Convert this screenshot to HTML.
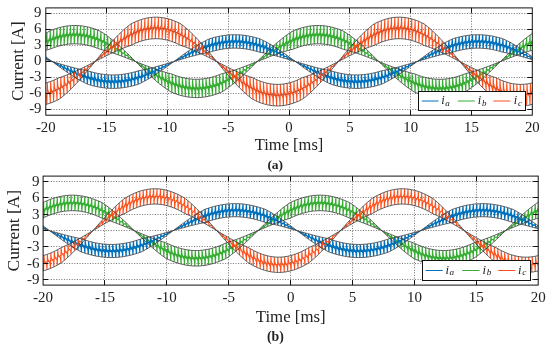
<!DOCTYPE html>
<html><head><meta charset="utf-8"><title>Current</title>
<style>html,body{margin:0;padding:0;background:#fff;}svg{display:block;}</style></head>
<body><svg width="550" height="348" viewBox="0 0 550 348" font-family='"Liberation Serif", "DejaVu Serif", serif' fill="#222">
<rect width="550" height="348" fill="#fff"/>
<clipPath id="clipa"><rect x="45.8" y="7.9" width="486.5" height="107.3"/></clipPath>
<path d="M106.5 7.9 V115.2 M167.5 7.9 V115.2 M228.5 7.9 V115.2 M289.5 7.9 V115.2 M349.5 7.9 V115.2 M410.5 7.9 V115.2 M471.5 7.9 V115.2 M45.8 109.5 H532.3 M45.8 93.5 H532.3 M45.8 77.5 H532.3 M45.8 61.5 H532.3 M45.8 45.5 H532.3 M45.8 29.5 H532.3 M45.8 13.5 H532.3" stroke="#6e6e6e" stroke-width="0.9" stroke-dasharray="1.1 1.5" fill="none"/>
<g clip-path="url(#clipa)" fill="none">
<clipPath id="bandab"><path d="M45.8 33.46 L47.32 32.46 L48.84 31.5 L50.36 30.68 L51.88 30.07 L53.4 29.5 L54.92 28.96 L56.44 28.46 L57.96 28 L59.48 27.57 L61 27.18 L62.52 26.84 L64.04 26.53 L65.56 26.26 L67.08 26.03 L68.6 25.84 L70.12 25.69 L71.65 25.59 L73.17 25.52 L74.69 25.5 L76.21 25.52 L77.73 25.57 L79.25 25.68 L80.77 25.82 L82.29 26 L83.81 26.22 L85.33 26.49 L86.85 26.79 L88.37 27.14 L89.89 27.52 L91.41 27.94 L92.93 28.4 L94.45 28.89 L95.97 29.43 L97.49 29.99 L99.01 30.59 L100.53 31.38 L102.05 32.33 L103.57 33.33 L105.09 34.37 L106.61 35.45 L108.13 36.57 L109.65 37.74 L111.17 38.93 L112.69 40.17 L114.21 41.43 L115.73 42.73 L117.25 44.05 L118.77 45.41 L120.3 46.79 L121.82 48.19 L123.34 49.61 L124.86 51.05 L126.38 52.5 L127.9 53.97 L129.42 55.45 L130.94 56.94 L132.46 58.44 L133.98 59.94 L135.5 61.45 L137.02 62.95 L138.54 64.46 L140.06 65.96 L141.58 67.45 L143.1 68.93 L144.62 70.4 L146.14 71.86 L147.66 73.3 L149.18 74.73 L150.7 76.13 L152.22 77.51 L153.74 78.87 L155.26 80.2 L156.78 81.5 L158.3 82.77 L159.82 84 L161.34 85.21 L162.86 86.37 L164.38 87.5 L165.9 88.59 L167.42 89.64 L168.95 90.64 L170.47 91.6 L171.99 92.42 L173.51 93.03 L175.03 93.6 L176.55 94.14 L178.07 94.64 L179.59 95.1 L181.11 95.53 L182.63 95.92 L184.15 96.26 L185.67 96.57 L187.19 96.84 L188.71 97.07 L190.23 97.26 L191.75 97.41 L193.27 97.51 L194.79 97.58 L196.31 97.6 L197.83 97.58 L199.35 97.53 L200.87 97.42 L202.39 97.28 L203.91 97.1 L205.43 96.88 L206.95 96.61 L208.47 96.31 L209.99 95.96 L211.51 95.58 L213.03 95.16 L214.55 94.7 L216.07 94.21 L217.6 93.67 L219.12 93.11 L220.64 92.51 L222.16 91.72 L223.68 90.77 L225.2 89.77 L226.72 88.73 L228.24 87.65 L229.76 86.53 L231.28 85.36 L232.8 84.17 L234.32 82.93 L235.84 81.67 L237.36 80.37 L238.88 79.05 L240.4 77.69 L241.92 76.31 L243.44 74.91 L244.96 73.49 L246.48 72.05 L248 70.6 L249.52 69.13 L251.04 67.65 L252.56 66.16 L254.08 64.66 L255.6 63.16 L257.12 61.65 L258.64 60.15 L260.16 58.64 L261.68 57.14 L263.2 55.65 L264.72 54.17 L266.25 52.7 L267.77 51.24 L269.29 49.8 L270.81 48.37 L272.33 46.97 L273.85 45.59 L275.37 44.23 L276.89 42.9 L278.41 41.6 L279.93 40.33 L281.45 39.1 L282.97 37.89 L284.49 36.73 L286.01 35.6 L287.53 34.51 L289.05 33.46 L290.57 32.46 L292.09 31.5 L293.61 30.68 L295.13 30.07 L296.65 29.5 L298.17 28.96 L299.69 28.46 L301.21 28 L302.73 27.57 L304.25 27.18 L305.77 26.84 L307.29 26.53 L308.81 26.26 L310.33 26.03 L311.85 25.84 L313.38 25.69 L314.9 25.59 L316.42 25.52 L317.94 25.5 L319.46 25.52 L320.98 25.57 L322.5 25.68 L324.02 25.82 L325.54 26 L327.06 26.22 L328.58 26.49 L330.1 26.79 L331.62 27.14 L333.14 27.52 L334.66 27.94 L336.18 28.4 L337.7 28.89 L339.22 29.43 L340.74 29.99 L342.26 30.59 L343.78 31.38 L345.3 32.33 L346.82 33.33 L348.34 34.37 L349.86 35.45 L351.38 36.57 L352.9 37.74 L354.42 38.93 L355.94 40.17 L357.46 41.43 L358.98 42.73 L360.5 44.05 L362.02 45.41 L363.55 46.79 L365.07 48.19 L366.59 49.61 L368.11 51.05 L369.63 52.5 L371.15 53.97 L372.67 55.45 L374.19 56.94 L375.71 58.44 L377.23 59.94 L378.75 61.45 L380.27 62.95 L381.79 64.46 L383.31 65.96 L384.83 67.45 L386.35 68.93 L387.87 70.4 L389.39 71.86 L390.91 73.3 L392.43 74.73 L393.95 76.13 L395.47 77.51 L396.99 78.87 L398.51 80.2 L400.03 81.5 L401.55 82.77 L403.07 84 L404.59 85.21 L406.11 86.37 L407.63 87.5 L409.15 88.59 L410.67 89.64 L412.2 90.64 L413.72 91.6 L415.24 92.42 L416.76 93.03 L418.28 93.6 L419.8 94.14 L421.32 94.64 L422.84 95.1 L424.36 95.53 L425.88 95.92 L427.4 96.26 L428.92 96.57 L430.44 96.84 L431.96 97.07 L433.48 97.26 L435 97.41 L436.52 97.51 L438.04 97.58 L439.56 97.6 L441.08 97.58 L442.6 97.53 L444.12 97.42 L445.64 97.28 L447.16 97.1 L448.68 96.88 L450.2 96.61 L451.72 96.31 L453.24 95.96 L454.76 95.58 L456.28 95.16 L457.8 94.7 L459.32 94.21 L460.85 93.67 L462.37 93.11 L463.89 92.51 L465.41 91.72 L466.93 90.77 L468.45 89.77 L469.97 88.73 L471.49 87.65 L473.01 86.53 L474.53 85.36 L476.05 84.17 L477.57 82.93 L479.09 81.67 L480.61 80.37 L482.13 79.05 L483.65 77.69 L485.17 76.31 L486.69 74.91 L488.21 73.49 L489.73 72.05 L491.25 70.6 L492.77 69.13 L494.29 67.65 L495.81 66.16 L497.33 64.66 L498.85 63.16 L500.37 61.65 L501.89 60.15 L503.41 58.64 L504.93 57.14 L506.45 55.65 L507.97 54.17 L509.5 52.7 L511.02 51.24 L512.54 49.8 L514.06 48.37 L515.58 46.97 L517.1 45.59 L518.62 44.23 L520.14 42.9 L521.66 41.6 L523.18 40.33 L524.7 39.1 L526.22 37.89 L527.74 36.73 L529.26 35.6 L530.78 34.51 L532.3 33.46 L532.3 50.22 L530.78 50.64 L529.26 51.08 L527.74 51.53 L526.22 52 L524.7 52.49 L523.18 52.99 L521.66 53.5 L520.14 54.03 L518.62 54.56 L517.1 55.11 L515.58 55.67 L514.06 56.23 L512.54 56.81 L511.02 57.39 L509.5 57.98 L507.97 58.57 L506.45 59.17 L504.93 59.77 L503.41 60.38 L501.89 60.98 L500.37 61.59 L498.85 62.2 L497.33 62.8 L495.81 63.41 L494.29 64.01 L492.77 64.61 L491.25 65.2 L489.73 65.79 L488.21 66.37 L486.69 66.94 L485.17 67.51 L483.65 68.06 L482.13 68.61 L480.61 69.14 L479.09 69.67 L477.57 70.18 L476.05 70.68 L474.53 71.16 L473.01 71.63 L471.49 72.08 L469.97 72.52 L468.45 72.94 L466.93 73.34 L465.41 73.72 L463.89 74.21 L462.37 74.81 L460.85 75.38 L459.32 75.91 L457.8 76.41 L456.28 76.87 L454.76 77.29 L453.24 77.67 L451.72 78.01 L450.2 78.32 L448.68 78.58 L447.16 78.8 L445.64 78.99 L444.12 79.13 L442.6 79.23 L441.08 79.29 L439.56 79.31 L438.04 79.28 L436.52 79.22 L435 79.11 L433.48 78.97 L431.96 78.78 L430.44 78.55 L428.92 78.28 L427.4 77.97 L425.88 77.62 L424.36 77.23 L422.84 76.81 L421.32 76.34 L419.8 75.84 L418.28 75.31 L416.76 74.73 L415.24 74.13 L413.72 73.67 L412.2 73.29 L410.67 72.88 L409.15 72.46 L407.63 72.02 L406.11 71.57 L404.59 71.1 L403.07 70.61 L401.55 70.11 L400.03 69.6 L398.51 69.07 L396.99 68.54 L395.47 67.99 L393.95 67.43 L392.43 66.87 L390.91 66.29 L389.39 65.71 L387.87 65.12 L386.35 64.53 L384.83 63.93 L383.31 63.33 L381.79 62.72 L380.27 62.12 L378.75 61.51 L377.23 60.9 L375.71 60.3 L374.19 59.69 L372.67 59.09 L371.15 58.49 L369.63 57.9 L368.11 57.31 L366.59 56.73 L365.07 56.16 L363.55 55.59 L362.02 55.04 L360.5 54.49 L358.98 53.96 L357.46 53.43 L355.94 52.92 L354.42 52.42 L352.9 51.94 L351.38 51.47 L349.86 51.02 L348.34 50.58 L346.82 50.16 L345.3 49.76 L343.78 49.38 L342.26 48.89 L340.74 48.29 L339.22 47.72 L337.7 47.19 L336.18 46.69 L334.66 46.23 L333.14 45.81 L331.62 45.43 L330.1 45.09 L328.58 44.78 L327.06 44.52 L325.54 44.3 L324.02 44.11 L322.5 43.97 L320.98 43.87 L319.46 43.81 L317.94 43.79 L316.42 43.82 L314.9 43.88 L313.38 43.99 L311.85 44.13 L310.33 44.32 L308.81 44.55 L307.29 44.82 L305.77 45.13 L304.25 45.48 L302.73 45.87 L301.21 46.29 L299.69 46.76 L298.17 47.26 L296.65 47.79 L295.13 48.37 L293.61 48.97 L292.09 49.43 L290.57 49.81 L289.05 50.22 L287.53 50.64 L286.01 51.08 L284.49 51.53 L282.97 52 L281.45 52.49 L279.93 52.99 L278.41 53.5 L276.89 54.03 L275.37 54.56 L273.85 55.11 L272.33 55.67 L270.81 56.23 L269.29 56.81 L267.77 57.39 L266.25 57.98 L264.72 58.57 L263.2 59.17 L261.68 59.77 L260.16 60.38 L258.64 60.98 L257.12 61.59 L255.6 62.2 L254.08 62.8 L252.56 63.41 L251.04 64.01 L249.52 64.61 L248 65.2 L246.48 65.79 L244.96 66.37 L243.44 66.94 L241.92 67.51 L240.4 68.06 L238.88 68.61 L237.36 69.14 L235.84 69.67 L234.32 70.18 L232.8 70.68 L231.28 71.16 L229.76 71.63 L228.24 72.08 L226.72 72.52 L225.2 72.94 L223.68 73.34 L222.16 73.72 L220.64 74.21 L219.12 74.81 L217.6 75.38 L216.07 75.91 L214.55 76.41 L213.03 76.87 L211.51 77.29 L209.99 77.67 L208.47 78.01 L206.95 78.32 L205.43 78.58 L203.91 78.8 L202.39 78.99 L200.87 79.13 L199.35 79.23 L197.83 79.29 L196.31 79.31 L194.79 79.28 L193.27 79.22 L191.75 79.11 L190.23 78.97 L188.71 78.78 L187.19 78.55 L185.67 78.28 L184.15 77.97 L182.63 77.62 L181.11 77.23 L179.59 76.81 L178.07 76.34 L176.55 75.84 L175.03 75.31 L173.51 74.73 L171.99 74.13 L170.47 73.67 L168.95 73.29 L167.42 72.88 L165.9 72.46 L164.38 72.02 L162.86 71.57 L161.34 71.1 L159.82 70.61 L158.3 70.11 L156.78 69.6 L155.26 69.07 L153.74 68.54 L152.22 67.99 L150.7 67.43 L149.18 66.87 L147.66 66.29 L146.14 65.71 L144.62 65.12 L143.1 64.53 L141.58 63.93 L140.06 63.33 L138.54 62.72 L137.02 62.12 L135.5 61.51 L133.98 60.9 L132.46 60.3 L130.94 59.69 L129.42 59.09 L127.9 58.49 L126.38 57.9 L124.86 57.31 L123.34 56.73 L121.82 56.16 L120.3 55.59 L118.77 55.04 L117.25 54.49 L115.73 53.96 L114.21 53.43 L112.69 52.92 L111.17 52.42 L109.65 51.94 L108.13 51.47 L106.61 51.02 L105.09 50.58 L103.57 50.16 L102.05 49.76 L100.53 49.38 L99.01 48.89 L97.49 48.29 L95.97 47.72 L94.45 47.19 L92.93 46.69 L91.41 46.23 L89.89 45.81 L88.37 45.43 L86.85 45.09 L85.33 44.78 L83.81 44.52 L82.29 44.3 L80.77 44.11 L79.25 43.97 L77.73 43.87 L76.21 43.81 L74.69 43.79 L73.17 43.82 L71.65 43.88 L70.12 43.99 L68.6 44.13 L67.08 44.32 L65.56 44.55 L64.04 44.82 L62.52 45.13 L61 45.48 L59.48 45.87 L57.96 46.29 L56.44 46.76 L54.92 47.26 L53.4 47.79 L51.88 48.37 L50.36 48.97 L48.84 49.43 L47.32 49.81 L45.8 50.22 Z"/></clipPath>
<path d="M45.8 40.84 L47.32 40.1 L48.84 39.39 L50.36 38.73 L51.88 38.12 L53.4 37.55 L54.92 37.01 L56.44 36.51 L57.96 36.05 L59.48 35.62 L61 35.23 L62.52 34.89 L64.04 34.58 L65.56 34.31 L67.08 34.08 L68.6 33.89 L70.12 33.74 L71.65 33.64 L73.17 33.57 L74.69 33.55 L76.21 33.56 L77.73 33.62 L79.25 33.73 L80.77 33.87 L82.29 34.05 L83.81 34.27 L85.33 34.54 L86.85 34.84 L88.37 35.19 L89.89 35.57 L91.41 35.99 L92.93 36.45 L94.45 36.94 L95.97 37.47 L97.49 38.04 L99.01 38.64 L100.53 39.3 L102.05 40 L103.57 40.73 L105.09 41.5 L106.61 42.3 L108.13 43.13 L109.65 43.99 L111.17 44.87 L112.69 45.78 L114.21 46.71 L115.73 47.67 L117.25 48.65 L118.77 49.64 L120.3 50.66 L121.82 51.69 L123.34 52.74 L124.86 53.8 L126.38 54.88 L127.9 55.96 L129.42 57.05 L130.94 58.15 L132.46 59.26 L133.98 60.37 L135.5 61.48 L137.02 62.59 L138.54 63.69 L140.06 64.8 L141.58 65.9 L143.1 66.99 L144.62 68.08 L146.14 69.15 L147.66 70.22 L149.18 71.27 L150.7 72.3 L152.22 73.32 L153.74 74.32 L155.26 75.3 L156.78 76.26 L158.3 77.2 L159.82 78.11 L161.34 79 L162.86 79.86 L164.38 80.69 L165.9 81.49 L167.42 82.26 L168.95 83 L170.47 83.71 L171.99 84.37 L173.51 84.98 L175.03 85.55 L176.55 86.09 L178.07 86.59 L179.59 87.05 L181.11 87.48 L182.63 87.87 L184.15 88.21 L185.67 88.52 L187.19 88.79 L188.71 89.02 L190.23 89.21 L191.75 89.36 L193.27 89.46 L194.79 89.53 L196.31 89.55 L197.83 89.54 L199.35 89.48 L200.87 89.37 L202.39 89.23 L203.91 89.05 L205.43 88.83 L206.95 88.56 L208.47 88.26 L209.99 87.91 L211.51 87.53 L213.03 87.11 L214.55 86.65 L216.07 86.16 L217.6 85.63 L219.12 85.06 L220.64 84.46 L222.16 83.8 L223.68 83.1 L225.2 82.37 L226.72 81.6 L228.24 80.8 L229.76 79.97 L231.28 79.11 L232.8 78.23 L234.32 77.32 L235.84 76.39 L237.36 75.43 L238.88 74.45 L240.4 73.46 L241.92 72.44 L243.44 71.41 L244.96 70.36 L246.48 69.3 L248 68.22 L249.52 67.14 L251.04 66.05 L252.56 64.95 L254.08 63.84 L255.6 62.73 L257.12 61.62 L258.64 60.51 L260.16 59.41 L261.68 58.3 L263.2 57.2 L264.72 56.11 L266.25 55.02 L267.77 53.95 L269.29 52.88 L270.81 51.83 L272.33 50.8 L273.85 49.78 L275.37 48.78 L276.89 47.8 L278.41 46.84 L279.93 45.9 L281.45 44.99 L282.97 44.1 L284.49 43.24 L286.01 42.41 L287.53 41.61 L289.05 40.84 L290.57 40.1 L292.09 39.39 L293.61 38.73 L295.13 38.12 L296.65 37.55 L298.17 37.01 L299.69 36.51 L301.21 36.05 L302.73 35.62 L304.25 35.23 L305.77 34.89 L307.29 34.58 L308.81 34.31 L310.33 34.08 L311.85 33.89 L313.38 33.74 L314.9 33.64 L316.42 33.57 L317.94 33.55 L319.46 33.56 L320.98 33.62 L322.5 33.73 L324.02 33.87 L325.54 34.05 L327.06 34.27 L328.58 34.54 L330.1 34.84 L331.62 35.19 L333.14 35.57 L334.66 35.99 L336.18 36.45 L337.7 36.94 L339.22 37.47 L340.74 38.04 L342.26 38.64 L343.78 39.3 L345.3 40 L346.82 40.73 L348.34 41.5 L349.86 42.3 L351.38 43.13 L352.9 43.99 L354.42 44.87 L355.94 45.78 L357.46 46.71 L358.98 47.67 L360.5 48.65 L362.02 49.64 L363.55 50.66 L365.07 51.69 L366.59 52.74 L368.11 53.8 L369.63 54.88 L371.15 55.96 L372.67 57.05 L374.19 58.15 L375.71 59.26 L377.23 60.37 L378.75 61.48 L380.27 62.59 L381.79 63.69 L383.31 64.8 L384.83 65.9 L386.35 66.99 L387.87 68.08 L389.39 69.15 L390.91 70.22 L392.43 71.27 L393.95 72.3 L395.47 73.32 L396.99 74.32 L398.51 75.3 L400.03 76.26 L401.55 77.2 L403.07 78.11 L404.59 79 L406.11 79.86 L407.63 80.69 L409.15 81.49 L410.67 82.26 L412.2 83 L413.72 83.71 L415.24 84.37 L416.76 84.98 L418.28 85.55 L419.8 86.09 L421.32 86.59 L422.84 87.05 L424.36 87.48 L425.88 87.87 L427.4 88.21 L428.92 88.52 L430.44 88.79 L431.96 89.02 L433.48 89.21 L435 89.36 L436.52 89.46 L438.04 89.53 L439.56 89.55 L441.08 89.54 L442.6 89.48 L444.12 89.37 L445.64 89.23 L447.16 89.05 L448.68 88.83 L450.2 88.56 L451.72 88.26 L453.24 87.91 L454.76 87.53 L456.28 87.11 L457.8 86.65 L459.32 86.16 L460.85 85.63 L462.37 85.06 L463.89 84.46 L465.41 83.8 L466.93 83.1 L468.45 82.37 L469.97 81.6 L471.49 80.8 L473.01 79.97 L474.53 79.11 L476.05 78.23 L477.57 77.32 L479.09 76.39 L480.61 75.43 L482.13 74.45 L483.65 73.46 L485.17 72.44 L486.69 71.41 L488.21 70.36 L489.73 69.3 L491.25 68.22 L492.77 67.14 L494.29 66.05 L495.81 64.95 L497.33 63.84 L498.85 62.73 L500.37 61.62 L501.89 60.51 L503.41 59.41 L504.93 58.3 L506.45 57.2 L507.97 56.11 L509.5 55.02 L511.02 53.95 L512.54 52.88 L514.06 51.83 L515.58 50.8 L517.1 49.78 L518.62 48.78 L520.14 47.8 L521.66 46.84 L523.18 45.9 L524.7 44.99 L526.22 44.1 L527.74 43.24 L529.26 42.41 L530.78 41.61 L532.3 40.84 L532.3 42.85 L530.78 43.54 L529.26 44.27 L527.74 45.02 L526.22 45.79 L524.7 46.6 L523.18 47.42 L521.66 48.27 L520.14 49.13 L518.62 50.02 L517.1 50.92 L515.58 51.84 L514.06 52.78 L512.54 53.72 L511.02 54.68 L509.5 55.65 L507.97 56.63 L506.45 57.62 L504.93 58.62 L503.41 59.61 L501.89 60.61 L500.37 61.62 L498.85 62.62 L497.33 63.62 L495.81 64.62 L494.29 65.61 L492.77 66.6 L491.25 67.58 L489.73 68.55 L488.21 69.5 L486.69 70.45 L485.17 71.38 L483.65 72.3 L482.13 73.2 L480.61 74.08 L479.09 74.95 L477.57 75.79 L476.05 76.61 L474.53 77.41 L473.01 78.18 L471.49 78.93 L469.97 79.65 L468.45 80.35 L466.93 81.01 L465.41 81.64 L463.89 82.26 L462.37 82.86 L460.85 83.43 L459.32 83.96 L457.8 84.46 L456.28 84.92 L454.76 85.34 L453.24 85.72 L451.72 86.06 L450.2 86.37 L448.68 86.63 L447.16 86.85 L445.64 87.04 L444.12 87.18 L442.6 87.28 L441.08 87.34 L439.56 87.36 L438.04 87.33 L436.52 87.27 L435 87.16 L433.48 87.02 L431.96 86.83 L430.44 86.6 L428.92 86.33 L427.4 86.02 L425.88 85.67 L424.36 85.28 L422.84 84.86 L421.32 84.39 L419.8 83.89 L418.28 83.36 L416.76 82.78 L415.24 82.18 L413.72 81.56 L412.2 80.92 L410.67 80.25 L409.15 79.56 L407.63 78.83 L406.11 78.08 L404.59 77.31 L403.07 76.5 L401.55 75.68 L400.03 74.83 L398.51 73.97 L396.99 73.08 L395.47 72.18 L393.95 71.26 L392.43 70.32 L390.91 69.38 L389.39 68.42 L387.87 67.45 L386.35 66.47 L384.83 65.48 L383.31 64.48 L381.79 63.49 L380.27 62.49 L378.75 61.48 L377.23 60.48 L375.71 59.48 L374.19 58.48 L372.67 57.49 L371.15 56.5 L369.63 55.52 L368.11 54.55 L366.59 53.6 L365.07 52.65 L363.55 51.72 L362.02 50.8 L360.5 49.9 L358.98 49.02 L357.46 48.15 L355.94 47.31 L354.42 46.49 L352.9 45.69 L351.38 44.92 L349.86 44.17 L348.34 43.45 L346.82 42.75 L345.3 42.09 L343.78 41.46 L342.26 40.84 L340.74 40.24 L339.22 39.67 L337.7 39.14 L336.18 38.64 L334.66 38.18 L333.14 37.76 L331.62 37.38 L330.1 37.04 L328.58 36.73 L327.06 36.47 L325.54 36.25 L324.02 36.06 L322.5 35.92 L320.98 35.82 L319.46 35.76 L317.94 35.74 L316.42 35.77 L314.9 35.83 L313.38 35.94 L311.85 36.08 L310.33 36.27 L308.81 36.5 L307.29 36.77 L305.77 37.08 L304.25 37.43 L302.73 37.82 L301.21 38.24 L299.69 38.71 L298.17 39.21 L296.65 39.74 L295.13 40.32 L293.61 40.92 L292.09 41.54 L290.57 42.18 L289.05 42.85 L287.53 43.54 L286.01 44.27 L284.49 45.02 L282.97 45.79 L281.45 46.6 L279.93 47.42 L278.41 48.27 L276.89 49.13 L275.37 50.02 L273.85 50.92 L272.33 51.84 L270.81 52.78 L269.29 53.72 L267.77 54.68 L266.25 55.65 L264.72 56.63 L263.2 57.62 L261.68 58.62 L260.16 59.61 L258.64 60.61 L257.12 61.62 L255.6 62.62 L254.08 63.62 L252.56 64.62 L251.04 65.61 L249.52 66.6 L248 67.58 L246.48 68.55 L244.96 69.5 L243.44 70.45 L241.92 71.38 L240.4 72.3 L238.88 73.2 L237.36 74.08 L235.84 74.95 L234.32 75.79 L232.8 76.61 L231.28 77.41 L229.76 78.18 L228.24 78.93 L226.72 79.65 L225.2 80.35 L223.68 81.01 L222.16 81.64 L220.64 82.26 L219.12 82.86 L217.6 83.43 L216.07 83.96 L214.55 84.46 L213.03 84.92 L211.51 85.34 L209.99 85.72 L208.47 86.06 L206.95 86.37 L205.43 86.63 L203.91 86.85 L202.39 87.04 L200.87 87.18 L199.35 87.28 L197.83 87.34 L196.31 87.36 L194.79 87.33 L193.27 87.27 L191.75 87.16 L190.23 87.02 L188.71 86.83 L187.19 86.6 L185.67 86.33 L184.15 86.02 L182.63 85.67 L181.11 85.28 L179.59 84.86 L178.07 84.39 L176.55 83.89 L175.03 83.36 L173.51 82.78 L171.99 82.18 L170.47 81.56 L168.95 80.92 L167.42 80.25 L165.9 79.56 L164.38 78.83 L162.86 78.08 L161.34 77.31 L159.82 76.5 L158.3 75.68 L156.78 74.83 L155.26 73.97 L153.74 73.08 L152.22 72.18 L150.7 71.26 L149.18 70.32 L147.66 69.38 L146.14 68.42 L144.62 67.45 L143.1 66.47 L141.58 65.48 L140.06 64.48 L138.54 63.49 L137.02 62.49 L135.5 61.48 L133.98 60.48 L132.46 59.48 L130.94 58.48 L129.42 57.49 L127.9 56.5 L126.38 55.52 L124.86 54.55 L123.34 53.6 L121.82 52.65 L120.3 51.72 L118.77 50.8 L117.25 49.9 L115.73 49.02 L114.21 48.15 L112.69 47.31 L111.17 46.49 L109.65 45.69 L108.13 44.92 L106.61 44.17 L105.09 43.45 L103.57 42.75 L102.05 42.09 L100.53 41.46 L99.01 40.84 L97.49 40.24 L95.97 39.67 L94.45 39.14 L92.93 38.64 L91.41 38.18 L89.89 37.76 L88.37 37.38 L86.85 37.04 L85.33 36.73 L83.81 36.47 L82.29 36.25 L80.77 36.06 L79.25 35.92 L77.73 35.82 L76.21 35.76 L74.69 35.74 L73.17 35.77 L71.65 35.83 L70.12 35.94 L68.6 36.08 L67.08 36.27 L65.56 36.5 L64.04 36.77 L62.52 37.08 L61 37.43 L59.48 37.82 L57.96 38.24 L56.44 38.71 L54.92 39.21 L53.4 39.74 L51.88 40.32 L50.36 40.92 L48.84 41.54 L47.32 42.18 L45.8 42.85 Z" fill="#36AD32" stroke="none"/>
<path clip-path="url(#bandab)" d="M43.15 40.79 L43.52 35.05 L43.89 50.75 L44.33 44.97 L46.52 38.95 L46.9 32.74 L47.27 49.83 L47.71 43.59 L49.9 37.27 L50.27 30.71 L50.65 48.86 L51.09 42.28 L53.28 35.95 L53.65 29.41 L54.02 47.57 L54.46 41.01 L56.66 34.8 L57.03 28.28 L57.4 46.46 L57.84 39.93 L60.04 33.83 L60.41 27.33 L60.78 45.53 L61.22 39.02 L63.42 33.05 L63.79 26.58 L64.16 44.8 L64.6 38.32 L66.8 32.47 L67.17 26.02 L67.54 44.26 L67.98 37.8 L70.17 32.09 L70.55 25.66 L70.92 43.93 L71.36 37.49 L73.55 31.91 L73.92 25.5 L74.3 43.79 L74.73 37.39 L76.93 31.94 L77.3 25.55 L77.67 43.87 L78.11 37.49 L80.31 32.17 L80.68 25.81 L81.05 44.14 L81.49 37.79 L83.69 32.61 L84.06 26.27 L84.43 44.62 L84.87 38.3 L87.07 33.24 L87.44 26.92 L87.81 45.3 L88.25 39 L90.44 34.07 L90.82 27.77 L91.19 46.17 L91.63 39.89 L93.82 35.09 L94.19 28.81 L94.57 47.23 L95.01 40.98 L97.2 36.29 L97.57 30.02 L97.94 48.46 L98.38 42.23 L100.58 37.7 L100.95 31.64 L101.32 49.57 L101.76 43.55 L103.96 39.43 L104.33 33.84 L104.7 50.47 L105.14 44.93 L107.34 41.32 L107.71 36.26 L108.08 51.46 L108.52 46.44 L110.72 43.37 L111.09 38.86 L111.46 52.52 L111.9 48.06 L114.09 45.55 L114.47 41.64 L114.84 53.64 L115.28 49.78 L117.47 47.86 L117.84 44.58 L118.22 54.83 L118.65 51.6 L120.85 50.27 L121.22 47.64 L121.59 56.07 L122.03 53.49 L124.23 52.77 L124.6 50.8 L124.97 57.36 L125.41 55.44 L127.61 55.33 L127.98 54.05 L128.35 58.67 L128.79 57.44 L130.99 57.94 L131.36 57.36 L131.73 60.01 L132.17 59.47 L134.36 60.58 L134.74 60.69 L135.11 61.35 L135.55 61.52 L137.74 63.23 L138.11 64.04 L138.49 62.7 L138.93 63.56 L141.12 65.86 L141.49 67.36 L141.86 64.04 L142.3 65.59 L144.5 68.46 L144.87 70.64 L145.24 65.36 L145.68 67.59 L147.88 71.01 L148.25 73.86 L148.62 66.66 L149.06 69.55 L151.26 73.49 L151.63 76.97 L152 67.91 L152.44 71.44 L154.64 75.87 L155.01 79.97 L155.38 69.11 L155.82 73.26 L158.01 78.15 L158.39 82.83 L158.76 70.26 L159.2 74.99 L161.39 80.3 L161.76 85.53 L162.14 71.34 L162.57 76.62 L164.77 82.31 L165.14 88.05 L165.51 72.35 L165.95 78.13 L168.15 84.15 L168.52 90.36 L168.89 73.27 L169.33 79.51 L171.53 85.83 L171.9 92.39 L172.27 74.24 L172.71 80.82 L174.91 87.15 L175.28 93.69 L175.65 75.53 L176.09 82.09 L178.28 88.3 L178.66 94.82 L179.03 76.64 L179.47 83.17 L181.66 89.27 L182.03 95.77 L182.41 77.57 L182.85 84.08 L185.04 90.05 L185.41 96.52 L185.78 78.3 L186.22 84.78 L188.42 90.63 L188.79 97.08 L189.16 78.84 L189.6 85.3 L191.8 91.01 L192.17 97.44 L192.54 79.17 L192.98 85.61 L195.18 91.19 L195.55 97.6 L195.92 79.31 L196.36 85.71 L198.56 91.16 L198.93 97.55 L199.3 79.23 L199.74 85.61 L201.93 90.93 L202.31 97.29 L202.68 78.96 L203.12 85.31 L205.31 90.49 L205.68 96.83 L206.06 78.48 L206.5 84.8 L208.69 89.86 L209.06 96.18 L209.43 77.8 L209.87 84.1 L212.07 89.03 L212.44 95.33 L212.81 76.93 L213.25 83.21 L215.45 88.01 L215.82 94.29 L216.19 75.87 L216.63 82.12 L218.83 86.81 L219.2 93.08 L219.57 74.64 L220.01 80.87 L222.2 85.4 L222.58 91.46 L222.95 73.53 L223.39 79.55 L225.58 83.67 L225.96 89.26 L226.33 72.63 L226.77 78.17 L228.96 81.78 L229.33 86.84 L229.71 71.64 L230.14 76.66 L232.34 79.73 L232.71 84.24 L233.08 70.58 L233.52 75.04 L235.72 77.55 L236.09 81.46 L236.46 69.46 L236.9 73.32 L239.1 75.24 L239.47 78.52 L239.84 68.27 L240.28 71.5 L242.48 72.83 L242.85 75.46 L243.22 67.03 L243.66 69.61 L245.85 70.33 L246.23 72.3 L246.6 65.74 L247.04 67.66 L249.23 67.77 L249.6 69.05 L249.98 64.43 L250.42 65.66 L252.61 65.16 L252.98 65.74 L253.35 63.09 L253.79 63.63 L255.99 62.52 L256.36 62.41 L256.73 61.75 L257.17 61.58 L259.37 59.87 L259.74 59.06 L260.11 60.4 L260.55 59.54 L262.75 57.24 L263.12 55.74 L263.49 59.06 L263.93 57.51 L266.13 54.64 L266.5 52.46 L266.87 57.74 L267.31 55.51 L269.5 52.09 L269.88 49.24 L270.25 56.44 L270.69 53.55 L272.88 49.61 L273.25 46.13 L273.63 55.19 L274.06 51.66 L276.26 47.23 L276.63 43.13 L277 53.99 L277.44 49.84 L279.64 44.95 L280.01 40.27 L280.38 52.84 L280.82 48.11 L283.02 42.8 L283.39 37.57 L283.76 51.76 L284.2 46.48 L286.4 40.79 L286.77 35.05 L287.14 50.75 L287.58 44.97 L289.77 38.95 L290.15 32.74 L290.52 49.83 L290.96 43.59 L293.15 37.27 L293.52 30.71 L293.9 48.86 L294.34 42.28 L296.53 35.95 L296.9 29.41 L297.27 47.57 L297.71 41.01 L299.91 34.8 L300.28 28.28 L300.65 46.46 L301.09 39.93 L303.29 33.83 L303.66 27.33 L304.03 45.53 L304.47 39.02 L306.67 33.05 L307.04 26.58 L307.41 44.8 L307.85 38.32 L310.05 32.47 L310.42 26.02 L310.79 44.26 L311.23 37.8 L313.42 32.09 L313.8 25.66 L314.17 43.93 L314.61 37.49 L316.8 31.91 L317.17 25.5 L317.55 43.79 L317.98 37.39 L320.18 31.94 L320.55 25.55 L320.92 43.87 L321.36 37.49 L323.56 32.17 L323.93 25.81 L324.3 44.14 L324.74 37.79 L326.94 32.61 L327.31 26.27 L327.68 44.62 L328.12 38.3 L330.32 33.24 L330.69 26.92 L331.06 45.3 L331.5 39 L333.69 34.07 L334.07 27.77 L334.44 46.17 L334.88 39.89 L337.07 35.09 L337.44 28.81 L337.82 47.23 L338.26 40.98 L340.45 36.29 L340.82 30.02 L341.19 48.46 L341.63 42.23 L343.83 37.7 L344.2 31.64 L344.57 49.57 L345.01 43.55 L347.21 39.43 L347.58 33.84 L347.95 50.47 L348.39 44.93 L350.59 41.32 L350.96 36.26 L351.33 51.46 L351.77 46.44 L353.97 43.37 L354.34 38.86 L354.71 52.52 L355.15 48.06 L357.34 45.55 L357.72 41.64 L358.09 53.64 L358.53 49.78 L360.72 47.86 L361.09 44.58 L361.47 54.83 L361.9 51.6 L364.1 50.27 L364.47 47.64 L364.84 56.07 L365.28 53.49 L367.48 52.77 L367.85 50.8 L368.22 57.36 L368.66 55.44 L370.86 55.33 L371.23 54.05 L371.6 58.67 L372.04 57.44 L374.24 57.94 L374.61 57.36 L374.98 60.01 L375.42 59.47 L377.61 60.58 L377.99 60.69 L378.36 61.35 L378.8 61.52 L380.99 63.23 L381.36 64.04 L381.74 62.7 L382.18 63.56 L384.37 65.86 L384.74 67.36 L385.11 64.04 L385.55 65.59 L387.75 68.46 L388.12 70.64 L388.49 65.36 L388.93 67.59 L391.13 71.01 L391.5 73.86 L391.87 66.66 L392.31 69.55 L394.51 73.49 L394.88 76.97 L395.25 67.91 L395.69 71.44 L397.89 75.87 L398.26 79.97 L398.63 69.11 L399.07 73.26 L401.26 78.15 L401.64 82.83 L402.01 70.26 L402.45 74.99 L404.64 80.3 L405.01 85.53 L405.39 71.34 L405.82 76.62 L408.02 82.31 L408.39 88.05 L408.76 72.35 L409.2 78.13 L411.4 84.15 L411.77 90.36 L412.14 73.27 L412.58 79.51 L414.78 85.83 L415.15 92.39 L415.52 74.24 L415.96 80.82 L418.16 87.15 L418.53 93.69 L418.9 75.53 L419.34 82.09 L421.53 88.3 L421.91 94.82 L422.28 76.64 L422.72 83.17 L424.91 89.27 L425.28 95.77 L425.66 77.57 L426.1 84.08 L428.29 90.05 L428.66 96.52 L429.03 78.3 L429.47 84.78 L431.67 90.63 L432.04 97.08 L432.41 78.84 L432.85 85.3 L435.05 91.01 L435.42 97.44 L435.79 79.17 L436.23 85.61 L438.43 91.19 L438.8 97.6 L439.17 79.31 L439.61 85.71 L441.81 91.16 L442.18 97.55 L442.55 79.23 L442.99 85.61 L445.18 90.93 L445.56 97.29 L445.93 78.96 L446.37 85.31 L448.56 90.49 L448.93 96.83 L449.31 78.48 L449.75 84.8 L451.94 89.86 L452.31 96.18 L452.68 77.8 L453.12 84.1 L455.32 89.03 L455.69 95.33 L456.06 76.93 L456.5 83.21 L458.7 88.01 L459.07 94.29 L459.44 75.87 L459.88 82.12 L462.08 86.81 L462.45 93.08 L462.82 74.64 L463.26 80.87 L465.45 85.4 L465.83 91.46 L466.2 73.53 L466.64 79.55 L468.83 83.67 L469.21 89.26 L469.58 72.63 L470.02 78.17 L472.21 81.78 L472.58 86.84 L472.96 71.64 L473.39 76.66 L475.59 79.73 L475.96 84.24 L476.33 70.58 L476.77 75.04 L478.97 77.55 L479.34 81.46 L479.71 69.46 L480.15 73.32 L482.35 75.24 L482.72 78.52 L483.09 68.27 L483.53 71.5 L485.73 72.83 L486.1 75.46 L486.47 67.03 L486.91 69.61 L489.1 70.33 L489.48 72.3 L489.85 65.74 L490.29 67.66 L492.48 67.77 L492.85 69.05 L493.23 64.43 L493.67 65.66 L495.86 65.16 L496.23 65.74 L496.6 63.09 L497.04 63.63 L499.24 62.52 L499.61 62.41 L499.98 61.75 L500.42 61.58 L502.62 59.87 L502.99 59.06 L503.36 60.4 L503.8 59.54 L506 57.24 L506.37 55.74 L506.74 59.06 L507.18 57.51 L509.38 54.64 L509.75 52.46 L510.12 57.74 L510.56 55.51 L512.75 52.09 L513.13 49.24 L513.5 56.44 L513.94 53.55 L516.13 49.61 L516.5 46.13 L516.88 55.19 L517.31 51.66 L519.51 47.23 L519.88 43.13 L520.25 53.99 L520.69 49.84 L522.89 44.95 L523.26 40.27 L523.63 52.84 L524.07 48.11 L526.27 42.8 L526.64 37.57 L527.01 51.76 L527.45 46.48 L529.65 40.79 L530.02 35.05 L530.39 50.75 L530.83 44.97 L533.02 38.95 L533.4 32.74 L533.77 49.83 L534.21 43.59" stroke="#36AD32" stroke-width="1.15" stroke-linejoin="bevel"/>
<clipPath id="bandaa"><path d="M45.8 56.86 L47.32 57.96 L48.84 59.08 L50.36 60.19 L51.88 61.31 L53.4 62.43 L54.92 63.55 L56.44 64.66 L57.96 65.77 L59.48 66.88 L61 67.97 L62.52 69.06 L64.04 70.13 L65.56 71.19 L67.08 72.24 L68.6 73.27 L70.12 74.28 L71.65 75.27 L73.17 76.24 L74.69 77.19 L76.21 78.11 L77.73 79.01 L79.25 79.88 L80.77 80.72 L82.29 81.53 L83.81 82.32 L85.33 83.07 L86.85 83.78 L88.37 84.43 L89.89 84.89 L91.41 85.32 L92.93 85.73 L94.45 86.11 L95.97 86.46 L97.49 86.78 L99.01 87.07 L100.53 87.34 L102.05 87.57 L103.57 87.78 L105.09 87.95 L106.61 88.1 L108.13 88.22 L109.65 88.3 L111.17 88.35 L112.69 88.37 L114.21 88.37 L115.73 88.33 L117.25 88.25 L118.77 88.15 L120.3 88.02 L121.82 87.86 L123.34 87.66 L124.86 87.44 L126.38 87.19 L127.9 86.91 L129.42 86.6 L130.94 86.26 L132.46 85.89 L133.98 85.5 L135.5 85.08 L137.02 84.63 L138.54 84.08 L140.06 83.38 L141.58 82.64 L143.1 81.87 L144.62 81.07 L146.14 80.24 L147.66 79.38 L149.18 78.5 L150.7 77.58 L152.22 76.65 L153.74 75.68 L155.26 74.7 L156.78 73.7 L158.3 72.68 L159.82 71.64 L161.34 70.58 L162.86 69.52 L164.38 68.44 L165.9 67.34 L167.42 66.24 L168.95 65.14 L170.47 64.02 L171.99 62.91 L173.51 61.79 L175.03 60.67 L176.55 59.55 L178.07 58.44 L179.59 57.33 L181.11 56.22 L182.63 55.13 L184.15 54.04 L185.67 52.97 L187.19 51.91 L188.71 50.86 L190.23 49.83 L191.75 48.82 L193.27 47.83 L194.79 46.86 L196.31 45.91 L197.83 44.99 L199.35 44.09 L200.87 43.22 L202.39 42.38 L203.91 41.57 L205.43 40.78 L206.95 40.03 L208.47 39.32 L209.99 38.67 L211.51 38.21 L213.03 37.78 L214.55 37.37 L216.07 36.99 L217.6 36.64 L219.12 36.32 L220.64 36.03 L222.16 35.76 L223.68 35.53 L225.2 35.32 L226.72 35.15 L228.24 35 L229.76 34.88 L231.28 34.8 L232.8 34.75 L234.32 34.73 L235.84 34.73 L237.36 34.77 L238.88 34.85 L240.4 34.95 L241.92 35.08 L243.44 35.24 L244.96 35.44 L246.48 35.66 L248 35.91 L249.52 36.19 L251.04 36.5 L252.56 36.84 L254.08 37.21 L255.6 37.6 L257.12 38.02 L258.64 38.47 L260.16 39.02 L261.68 39.72 L263.2 40.46 L264.72 41.23 L266.25 42.03 L267.77 42.86 L269.29 43.72 L270.81 44.6 L272.33 45.52 L273.85 46.45 L275.37 47.42 L276.89 48.4 L278.41 49.4 L279.93 50.42 L281.45 51.46 L282.97 52.52 L284.49 53.58 L286.01 54.66 L287.53 55.76 L289.05 56.86 L290.57 57.96 L292.09 59.08 L293.61 60.19 L295.13 61.31 L296.65 62.43 L298.17 63.55 L299.69 64.66 L301.21 65.77 L302.73 66.88 L304.25 67.97 L305.77 69.06 L307.29 70.13 L308.81 71.19 L310.33 72.24 L311.85 73.27 L313.38 74.28 L314.9 75.27 L316.42 76.24 L317.94 77.19 L319.46 78.11 L320.98 79.01 L322.5 79.88 L324.02 80.72 L325.54 81.53 L327.06 82.32 L328.58 83.07 L330.1 83.78 L331.62 84.43 L333.14 84.89 L334.66 85.32 L336.18 85.73 L337.7 86.11 L339.22 86.46 L340.74 86.78 L342.26 87.07 L343.78 87.34 L345.3 87.57 L346.82 87.78 L348.34 87.95 L349.86 88.1 L351.38 88.22 L352.9 88.3 L354.42 88.35 L355.94 88.37 L357.46 88.37 L358.98 88.33 L360.5 88.25 L362.02 88.15 L363.55 88.02 L365.07 87.86 L366.59 87.66 L368.11 87.44 L369.63 87.19 L371.15 86.91 L372.67 86.6 L374.19 86.26 L375.71 85.89 L377.23 85.5 L378.75 85.08 L380.27 84.63 L381.79 84.08 L383.31 83.38 L384.83 82.64 L386.35 81.87 L387.87 81.07 L389.39 80.24 L390.91 79.38 L392.43 78.5 L393.95 77.58 L395.47 76.65 L396.99 75.68 L398.51 74.7 L400.03 73.7 L401.55 72.68 L403.07 71.64 L404.59 70.58 L406.11 69.52 L407.63 68.44 L409.15 67.34 L410.67 66.24 L412.2 65.14 L413.72 64.02 L415.24 62.91 L416.76 61.79 L418.28 60.67 L419.8 59.55 L421.32 58.44 L422.84 57.33 L424.36 56.22 L425.88 55.13 L427.4 54.04 L428.92 52.97 L430.44 51.91 L431.96 50.86 L433.48 49.83 L435 48.82 L436.52 47.83 L438.04 46.86 L439.56 45.91 L441.08 44.99 L442.6 44.09 L444.12 43.22 L445.64 42.38 L447.16 41.57 L448.68 40.78 L450.2 40.03 L451.72 39.32 L453.24 38.67 L454.76 38.21 L456.28 37.78 L457.8 37.37 L459.32 36.99 L460.85 36.64 L462.37 36.32 L463.89 36.03 L465.41 35.76 L466.93 35.53 L468.45 35.32 L469.97 35.15 L471.49 35 L473.01 34.88 L474.53 34.8 L476.05 34.75 L477.57 34.73 L479.09 34.73 L480.61 34.77 L482.13 34.85 L483.65 34.95 L485.17 35.08 L486.69 35.24 L488.21 35.44 L489.73 35.66 L491.25 35.91 L492.77 36.19 L494.29 36.5 L495.81 36.84 L497.33 37.21 L498.85 37.6 L500.37 38.02 L501.89 38.47 L503.41 39.02 L504.93 39.72 L506.45 40.46 L507.97 41.23 L509.5 42.03 L511.02 42.86 L512.54 43.72 L514.06 44.6 L515.58 45.52 L517.1 46.45 L518.62 47.42 L520.14 48.4 L521.66 49.4 L523.18 50.42 L524.7 51.46 L526.22 52.52 L527.74 53.58 L529.26 54.66 L530.78 55.76 L532.3 56.86 L532.3 59.62 L530.78 59.16 L529.26 58.71 L527.74 58.27 L526.22 57.83 L524.7 57.4 L523.18 56.97 L521.66 56.55 L520.14 56.13 L518.62 55.73 L517.1 55.33 L515.58 54.95 L514.06 54.57 L512.54 54.21 L511.02 53.85 L509.5 53.51 L507.97 53.18 L506.45 52.87 L504.93 52.56 L503.41 52.27 L501.89 51.88 L500.37 51.44 L498.85 51.01 L497.33 50.62 L495.81 50.25 L494.29 49.92 L492.77 49.61 L491.25 49.32 L489.73 49.07 L488.21 48.85 L486.69 48.65 L485.17 48.49 L483.65 48.36 L482.13 48.26 L480.61 48.19 L479.09 48.15 L477.57 48.14 L476.05 48.16 L474.53 48.21 L473.01 48.3 L471.49 48.41 L469.97 48.56 L468.45 48.73 L466.93 48.94 L465.41 49.17 L463.89 49.44 L462.37 49.73 L460.85 50.06 L459.32 50.41 L457.8 50.79 L456.28 51.19 L454.76 51.62 L453.24 52.08 L451.72 52.39 L450.2 52.69 L448.68 53 L447.16 53.32 L445.64 53.66 L444.12 54 L442.6 54.36 L441.08 54.73 L439.56 55.11 L438.04 55.5 L436.52 55.9 L435 56.31 L433.48 56.73 L431.96 57.15 L430.44 57.58 L428.92 58.02 L427.4 58.46 L425.88 58.91 L424.36 59.36 L422.84 59.81 L421.32 60.27 L419.8 60.73 L418.28 61.19 L416.76 61.65 L415.24 62.11 L413.72 62.57 L412.2 63.03 L410.67 63.48 L409.15 63.94 L407.63 64.39 L406.11 64.83 L404.59 65.27 L403.07 65.7 L401.55 66.13 L400.03 66.55 L398.51 66.97 L396.99 67.37 L395.47 67.77 L393.95 68.15 L392.43 68.53 L390.91 68.89 L389.39 69.25 L387.87 69.59 L386.35 69.92 L384.83 70.23 L383.31 70.54 L381.79 70.83 L380.27 71.22 L378.75 71.66 L377.23 72.09 L375.71 72.48 L374.19 72.85 L372.67 73.18 L371.15 73.49 L369.63 73.78 L368.11 74.03 L366.59 74.25 L365.07 74.45 L363.55 74.61 L362.02 74.74 L360.5 74.84 L358.98 74.91 L357.46 74.95 L355.94 74.96 L354.42 74.94 L352.9 74.89 L351.38 74.8 L349.86 74.69 L348.34 74.54 L346.82 74.37 L345.3 74.16 L343.78 73.93 L342.26 73.66 L340.74 73.37 L339.22 73.04 L337.7 72.69 L336.18 72.31 L334.66 71.91 L333.14 71.48 L331.62 71.02 L330.1 70.71 L328.58 70.41 L327.06 70.1 L325.54 69.78 L324.02 69.44 L322.5 69.1 L320.98 68.74 L319.46 68.37 L317.94 67.99 L316.42 67.6 L314.9 67.2 L313.38 66.79 L311.85 66.37 L310.33 65.95 L308.81 65.52 L307.29 65.08 L305.77 64.64 L304.25 64.19 L302.73 63.74 L301.21 63.29 L299.69 62.83 L298.17 62.37 L296.65 61.91 L295.13 61.45 L293.61 60.99 L292.09 60.53 L290.57 60.07 L289.05 59.62 L287.53 59.16 L286.01 58.71 L284.49 58.27 L282.97 57.83 L281.45 57.4 L279.93 56.97 L278.41 56.55 L276.89 56.13 L275.37 55.73 L273.85 55.33 L272.33 54.95 L270.81 54.57 L269.29 54.21 L267.77 53.85 L266.25 53.51 L264.72 53.18 L263.2 52.87 L261.68 52.56 L260.16 52.27 L258.64 51.88 L257.12 51.44 L255.6 51.01 L254.08 50.62 L252.56 50.25 L251.04 49.92 L249.52 49.61 L248 49.32 L246.48 49.07 L244.96 48.85 L243.44 48.65 L241.92 48.49 L240.4 48.36 L238.88 48.26 L237.36 48.19 L235.84 48.15 L234.32 48.14 L232.8 48.16 L231.28 48.21 L229.76 48.3 L228.24 48.41 L226.72 48.56 L225.2 48.73 L223.68 48.94 L222.16 49.17 L220.64 49.44 L219.12 49.73 L217.6 50.06 L216.07 50.41 L214.55 50.79 L213.03 51.19 L211.51 51.62 L209.99 52.08 L208.47 52.39 L206.95 52.69 L205.43 53 L203.91 53.32 L202.39 53.66 L200.87 54 L199.35 54.36 L197.83 54.73 L196.31 55.11 L194.79 55.5 L193.27 55.9 L191.75 56.31 L190.23 56.73 L188.71 57.15 L187.19 57.58 L185.67 58.02 L184.15 58.46 L182.63 58.91 L181.11 59.36 L179.59 59.81 L178.07 60.27 L176.55 60.73 L175.03 61.19 L173.51 61.65 L171.99 62.11 L170.47 62.57 L168.95 63.03 L167.42 63.48 L165.9 63.94 L164.38 64.39 L162.86 64.83 L161.34 65.27 L159.82 65.7 L158.3 66.13 L156.78 66.55 L155.26 66.97 L153.74 67.37 L152.22 67.77 L150.7 68.15 L149.18 68.53 L147.66 68.89 L146.14 69.25 L144.62 69.59 L143.1 69.92 L141.58 70.23 L140.06 70.54 L138.54 70.83 L137.02 71.22 L135.5 71.66 L133.98 72.09 L132.46 72.48 L130.94 72.85 L129.42 73.18 L127.9 73.49 L126.38 73.78 L124.86 74.03 L123.34 74.25 L121.82 74.45 L120.3 74.61 L118.77 74.74 L117.25 74.84 L115.73 74.91 L114.21 74.95 L112.69 74.96 L111.17 74.94 L109.65 74.89 L108.13 74.8 L106.61 74.69 L105.09 74.54 L103.57 74.37 L102.05 74.16 L100.53 73.93 L99.01 73.66 L97.49 73.37 L95.97 73.04 L94.45 72.69 L92.93 72.31 L91.41 71.91 L89.89 71.48 L88.37 71.02 L86.85 70.71 L85.33 70.41 L83.81 70.1 L82.29 69.78 L80.77 69.44 L79.25 69.1 L77.73 68.74 L76.21 68.37 L74.69 67.99 L73.17 67.6 L71.65 67.2 L70.12 66.79 L68.6 66.37 L67.08 65.95 L65.56 65.52 L64.04 65.08 L62.52 64.64 L61 64.19 L59.48 63.74 L57.96 63.29 L56.44 62.83 L54.92 62.37 L53.4 61.91 L51.88 61.45 L50.36 60.99 L48.84 60.53 L47.32 60.07 L45.8 59.62 Z"/></clipPath>
<path d="M45.8 58.02 L47.32 58.85 L48.84 59.69 L50.36 60.53 L51.88 61.37 L53.4 62.21 L54.92 63.05 L56.44 63.89 L57.96 64.73 L59.48 65.56 L61 66.38 L62.52 67.2 L64.04 68.01 L65.56 68.81 L67.08 69.6 L68.6 70.37 L70.12 71.13 L71.65 71.88 L73.17 72.61 L74.69 73.32 L76.21 74.02 L77.73 74.69 L79.25 75.35 L80.77 75.98 L82.29 76.6 L83.81 77.19 L85.33 77.75 L86.85 78.29 L88.37 78.8 L89.89 79.26 L91.41 79.69 L92.93 80.09 L94.45 80.47 L95.97 80.82 L97.49 81.15 L99.01 81.44 L100.53 81.7 L102.05 81.94 L103.57 82.15 L105.09 82.32 L106.61 82.47 L108.13 82.58 L109.65 82.67 L111.17 82.72 L112.69 82.74 L114.21 82.73 L115.73 82.69 L117.25 82.62 L118.77 82.52 L120.3 82.39 L121.82 82.22 L123.34 82.03 L124.86 81.81 L126.38 81.56 L127.9 81.27 L129.42 80.96 L130.94 80.62 L132.46 80.26 L133.98 79.86 L135.5 79.44 L137.02 79 L138.54 78.51 L140.06 77.98 L141.58 77.43 L143.1 76.85 L144.62 76.25 L146.14 75.62 L147.66 74.98 L149.18 74.31 L150.7 73.62 L152.22 72.92 L153.74 72.19 L155.26 71.45 L156.78 70.7 L158.3 69.93 L159.82 69.15 L161.34 68.35 L162.86 67.55 L164.38 66.73 L165.9 65.91 L167.42 65.08 L168.95 64.25 L170.47 63.41 L171.99 62.57 L173.51 61.73 L175.03 60.89 L176.55 60.05 L178.07 59.21 L179.59 58.37 L181.11 57.54 L182.63 56.72 L184.15 55.9 L185.67 55.09 L187.19 54.29 L188.71 53.5 L190.23 52.73 L191.75 51.97 L193.27 51.22 L194.79 50.49 L196.31 49.78 L197.83 49.08 L199.35 48.41 L200.87 47.75 L202.39 47.12 L203.91 46.5 L205.43 45.91 L206.95 45.35 L208.47 44.81 L209.99 44.3 L211.51 43.84 L213.03 43.41 L214.55 43.01 L216.07 42.63 L217.6 42.28 L219.12 41.95 L220.64 41.66 L222.16 41.4 L223.68 41.16 L225.2 40.95 L226.72 40.78 L228.24 40.63 L229.76 40.52 L231.28 40.43 L232.8 40.38 L234.32 40.36 L235.84 40.37 L237.36 40.41 L238.88 40.48 L240.4 40.58 L241.92 40.71 L243.44 40.88 L244.96 41.07 L246.48 41.29 L248 41.54 L249.52 41.83 L251.04 42.14 L252.56 42.48 L254.08 42.84 L255.6 43.24 L257.12 43.66 L258.64 44.1 L260.16 44.59 L261.68 45.12 L263.2 45.67 L264.72 46.25 L266.25 46.85 L267.77 47.48 L269.29 48.12 L270.81 48.79 L272.33 49.48 L273.85 50.18 L275.37 50.91 L276.89 51.65 L278.41 52.4 L279.93 53.17 L281.45 53.95 L282.97 54.75 L284.49 55.55 L286.01 56.37 L287.53 57.19 L289.05 58.02 L290.57 58.85 L292.09 59.69 L293.61 60.53 L295.13 61.37 L296.65 62.21 L298.17 63.05 L299.69 63.89 L301.21 64.73 L302.73 65.56 L304.25 66.38 L305.77 67.2 L307.29 68.01 L308.81 68.81 L310.33 69.6 L311.85 70.37 L313.38 71.13 L314.9 71.88 L316.42 72.61 L317.94 73.32 L319.46 74.02 L320.98 74.69 L322.5 75.35 L324.02 75.98 L325.54 76.6 L327.06 77.19 L328.58 77.75 L330.1 78.29 L331.62 78.8 L333.14 79.26 L334.66 79.69 L336.18 80.09 L337.7 80.47 L339.22 80.82 L340.74 81.15 L342.26 81.44 L343.78 81.7 L345.3 81.94 L346.82 82.15 L348.34 82.32 L349.86 82.47 L351.38 82.58 L352.9 82.67 L354.42 82.72 L355.94 82.74 L357.46 82.73 L358.98 82.69 L360.5 82.62 L362.02 82.52 L363.55 82.39 L365.07 82.22 L366.59 82.03 L368.11 81.81 L369.63 81.56 L371.15 81.27 L372.67 80.96 L374.19 80.62 L375.71 80.26 L377.23 79.86 L378.75 79.44 L380.27 79 L381.79 78.51 L383.31 77.98 L384.83 77.43 L386.35 76.85 L387.87 76.25 L389.39 75.62 L390.91 74.98 L392.43 74.31 L393.95 73.62 L395.47 72.92 L396.99 72.19 L398.51 71.45 L400.03 70.7 L401.55 69.93 L403.07 69.15 L404.59 68.35 L406.11 67.55 L407.63 66.73 L409.15 65.91 L410.67 65.08 L412.2 64.25 L413.72 63.41 L415.24 62.57 L416.76 61.73 L418.28 60.89 L419.8 60.05 L421.32 59.21 L422.84 58.37 L424.36 57.54 L425.88 56.72 L427.4 55.9 L428.92 55.09 L430.44 54.29 L431.96 53.5 L433.48 52.73 L435 51.97 L436.52 51.22 L438.04 50.49 L439.56 49.78 L441.08 49.08 L442.6 48.41 L444.12 47.75 L445.64 47.12 L447.16 46.5 L448.68 45.91 L450.2 45.35 L451.72 44.81 L453.24 44.3 L454.76 43.84 L456.28 43.41 L457.8 43.01 L459.32 42.63 L460.85 42.28 L462.37 41.95 L463.89 41.66 L465.41 41.4 L466.93 41.16 L468.45 40.95 L469.97 40.78 L471.49 40.63 L473.01 40.52 L474.53 40.43 L476.05 40.38 L477.57 40.36 L479.09 40.37 L480.61 40.41 L482.13 40.48 L483.65 40.58 L485.17 40.71 L486.69 40.88 L488.21 41.07 L489.73 41.29 L491.25 41.54 L492.77 41.83 L494.29 42.14 L495.81 42.48 L497.33 42.84 L498.85 43.24 L500.37 43.66 L501.89 44.1 L503.41 44.59 L504.93 45.12 L506.45 45.67 L507.97 46.25 L509.5 46.85 L511.02 47.48 L512.54 48.12 L514.06 48.79 L515.58 49.48 L517.1 50.18 L518.62 50.91 L520.14 51.65 L521.66 52.4 L523.18 53.17 L524.7 53.95 L526.22 54.75 L527.74 55.55 L529.26 56.37 L530.78 57.19 L532.3 58.02 L532.3 58.46 L530.78 57.73 L529.26 57.01 L527.74 56.3 L526.22 55.6 L524.7 54.9 L523.18 54.22 L521.66 53.55 L520.14 52.89 L518.62 52.24 L517.1 51.61 L515.58 50.99 L514.06 50.39 L512.54 49.8 L511.02 49.24 L509.5 48.69 L507.97 48.16 L506.45 47.65 L504.93 47.17 L503.41 46.71 L501.89 46.25 L500.37 45.8 L498.85 45.38 L497.33 44.99 L495.81 44.62 L494.29 44.28 L492.77 43.97 L491.25 43.69 L489.73 43.44 L488.21 43.21 L486.69 43.02 L485.17 42.86 L483.65 42.73 L482.13 42.62 L480.61 42.55 L479.09 42.51 L477.57 42.5 L476.05 42.53 L474.53 42.58 L473.01 42.66 L471.49 42.78 L469.97 42.92 L468.45 43.1 L466.93 43.31 L465.41 43.54 L463.89 43.81 L462.37 44.1 L460.85 44.42 L459.32 44.77 L457.8 45.15 L456.28 45.56 L454.76 45.99 L453.24 46.45 L451.72 46.9 L450.2 47.37 L448.68 47.87 L447.16 48.38 L445.64 48.92 L444.12 49.48 L442.6 50.05 L441.08 50.64 L439.56 51.25 L438.04 51.87 L436.52 52.51 L435 53.17 L433.48 53.83 L431.96 54.51 L430.44 55.2 L428.92 55.9 L427.4 56.6 L425.88 57.32 L424.36 58.04 L422.84 58.77 L421.32 59.5 L419.8 60.23 L418.28 60.97 L416.76 61.71 L415.24 62.44 L413.72 63.18 L412.2 63.91 L410.67 64.64 L409.15 65.37 L407.63 66.09 L406.11 66.8 L404.59 67.5 L403.07 68.2 L401.55 68.88 L400.03 69.55 L398.51 70.21 L396.99 70.86 L395.47 71.49 L393.95 72.11 L392.43 72.71 L390.91 73.3 L389.39 73.86 L387.87 74.41 L386.35 74.94 L384.83 75.45 L383.31 75.93 L381.79 76.39 L380.27 76.85 L378.75 77.3 L377.23 77.72 L375.71 78.11 L374.19 78.48 L372.67 78.82 L371.15 79.13 L369.63 79.41 L368.11 79.66 L366.59 79.89 L365.07 80.08 L363.55 80.24 L362.02 80.37 L360.5 80.48 L358.98 80.55 L357.46 80.59 L355.94 80.6 L354.42 80.57 L352.9 80.52 L351.38 80.44 L349.86 80.32 L348.34 80.18 L346.82 80 L345.3 79.79 L343.78 79.56 L342.26 79.29 L340.74 79 L339.22 78.68 L337.7 78.33 L336.18 77.95 L334.66 77.54 L333.14 77.11 L331.62 76.65 L330.1 76.2 L328.58 75.73 L327.06 75.23 L325.54 74.72 L324.02 74.18 L322.5 73.62 L320.98 73.05 L319.46 72.46 L317.94 71.85 L316.42 71.23 L314.9 70.59 L313.38 69.93 L311.85 69.27 L310.33 68.59 L308.81 67.9 L307.29 67.2 L305.77 66.5 L304.25 65.78 L302.73 65.06 L301.21 64.33 L299.69 63.6 L298.17 62.87 L296.65 62.13 L295.13 61.39 L293.61 60.66 L292.09 59.92 L290.57 59.19 L289.05 58.46 L287.53 57.73 L286.01 57.01 L284.49 56.3 L282.97 55.6 L281.45 54.9 L279.93 54.22 L278.41 53.55 L276.89 52.89 L275.37 52.24 L273.85 51.61 L272.33 50.99 L270.81 50.39 L269.29 49.8 L267.77 49.24 L266.25 48.69 L264.72 48.16 L263.2 47.65 L261.68 47.17 L260.16 46.71 L258.64 46.25 L257.12 45.8 L255.6 45.38 L254.08 44.99 L252.56 44.62 L251.04 44.28 L249.52 43.97 L248 43.69 L246.48 43.44 L244.96 43.21 L243.44 43.02 L241.92 42.86 L240.4 42.73 L238.88 42.62 L237.36 42.55 L235.84 42.51 L234.32 42.5 L232.8 42.53 L231.28 42.58 L229.76 42.66 L228.24 42.78 L226.72 42.92 L225.2 43.1 L223.68 43.31 L222.16 43.54 L220.64 43.81 L219.12 44.1 L217.6 44.42 L216.07 44.77 L214.55 45.15 L213.03 45.56 L211.51 45.99 L209.99 46.45 L208.47 46.9 L206.95 47.37 L205.43 47.87 L203.91 48.38 L202.39 48.92 L200.87 49.48 L199.35 50.05 L197.83 50.64 L196.31 51.25 L194.79 51.87 L193.27 52.51 L191.75 53.17 L190.23 53.83 L188.71 54.51 L187.19 55.2 L185.67 55.9 L184.15 56.6 L182.63 57.32 L181.11 58.04 L179.59 58.77 L178.07 59.5 L176.55 60.23 L175.03 60.97 L173.51 61.71 L171.99 62.44 L170.47 63.18 L168.95 63.91 L167.42 64.64 L165.9 65.37 L164.38 66.09 L162.86 66.8 L161.34 67.5 L159.82 68.2 L158.3 68.88 L156.78 69.55 L155.26 70.21 L153.74 70.86 L152.22 71.49 L150.7 72.11 L149.18 72.71 L147.66 73.3 L146.14 73.86 L144.62 74.41 L143.1 74.94 L141.58 75.45 L140.06 75.93 L138.54 76.39 L137.02 76.85 L135.5 77.3 L133.98 77.72 L132.46 78.11 L130.94 78.48 L129.42 78.82 L127.9 79.13 L126.38 79.41 L124.86 79.66 L123.34 79.89 L121.82 80.08 L120.3 80.24 L118.77 80.37 L117.25 80.48 L115.73 80.55 L114.21 80.59 L112.69 80.6 L111.17 80.57 L109.65 80.52 L108.13 80.44 L106.61 80.32 L105.09 80.18 L103.57 80 L102.05 79.79 L100.53 79.56 L99.01 79.29 L97.49 79 L95.97 78.68 L94.45 78.33 L92.93 77.95 L91.41 77.54 L89.89 77.11 L88.37 76.65 L86.85 76.2 L85.33 75.73 L83.81 75.23 L82.29 74.72 L80.77 74.18 L79.25 73.62 L77.73 73.05 L76.21 72.46 L74.69 71.85 L73.17 71.23 L71.65 70.59 L70.12 69.93 L68.6 69.27 L67.08 68.59 L65.56 67.9 L64.04 67.2 L62.52 66.5 L61 65.78 L59.48 65.06 L57.96 64.33 L56.44 63.6 L54.92 62.87 L53.4 62.13 L51.88 61.39 L50.36 60.66 L48.84 59.92 L47.32 59.19 L45.8 58.46 Z" fill="#0072BD" stroke="none"/>
<path clip-path="url(#bandaa)" d="M43.15 56.3 L43.52 55.21 L43.89 59.05 L44.33 57.99 L46.52 58.24 L46.9 57.65 L47.27 60.06 L47.71 59.51 L49.9 60.2 L50.27 60.13 L50.65 61.08 L51.09 61.04 L53.28 62.18 L53.65 62.62 L54.02 62.1 L54.46 62.58 L56.66 64.15 L57.03 65.09 L57.4 63.12 L57.84 64.1 L60.04 66.1 L60.41 67.54 L60.78 64.13 L61.22 65.61 L63.42 68.01 L63.79 69.95 L64.16 65.12 L64.6 67.09 L66.8 69.88 L67.17 72.29 L67.54 66.08 L67.98 68.52 L70.17 71.68 L70.55 74.55 L70.92 67 L71.36 69.91 L73.55 73.41 L73.92 76.71 L74.3 67.89 L74.73 71.23 L76.93 75.04 L77.3 78.76 L77.67 68.73 L78.11 72.47 L80.31 76.57 L80.68 80.67 L81.05 69.51 L81.49 73.63 L83.69 77.99 L84.06 82.44 L84.43 70.23 L84.87 74.7 L87.07 79.29 L87.44 84.05 L87.81 70.88 L88.25 75.68 L90.44 80.36 L90.82 85.16 L91.19 71.85 L91.63 76.66 L93.82 81.26 L94.19 86.04 L94.57 72.72 L95.01 77.52 L97.2 82.02 L97.57 86.8 L97.94 73.46 L98.38 78.24 L100.58 82.65 L100.95 87.41 L101.32 74.05 L101.76 78.81 L103.96 83.13 L104.33 87.87 L104.7 74.5 L105.14 79.24 L107.34 83.46 L107.71 88.19 L108.08 74.8 L108.52 79.52 L110.72 83.65 L111.09 88.35 L111.46 74.95 L111.9 79.65 L114.09 83.67 L114.47 88.36 L114.84 74.94 L115.28 79.62 L117.47 83.55 L117.84 88.22 L118.22 74.78 L118.65 79.44 L120.85 83.27 L121.22 87.92 L121.59 74.47 L122.03 79.11 L124.23 82.84 L124.6 87.48 L124.97 74.01 L125.41 78.63 L127.61 82.27 L127.98 86.89 L128.35 73.41 L128.79 78.01 L130.99 81.55 L131.36 86.16 L131.73 72.66 L132.17 77.25 L134.36 80.7 L134.74 85.29 L135.11 71.78 L135.55 76.35 L137.74 79.72 L138.11 84.27 L138.49 70.84 L138.93 75.36 L141.12 78.48 L141.49 82.68 L141.86 70.18 L142.3 74.35 L144.5 77.1 L144.87 80.94 L145.24 69.45 L145.68 73.25 L147.88 75.61 L148.25 79.04 L148.62 68.66 L149.06 72.06 L151.26 74.01 L151.63 77.01 L152 67.82 L152.44 70.79 L154.64 72.32 L155.01 74.87 L155.38 66.93 L155.82 69.45 L158.01 70.54 L158.39 72.62 L158.76 66 L159.2 68.05 L161.39 68.7 L161.76 70.29 L162.14 65.04 L162.57 66.6 L164.77 66.8 L165.14 67.89 L165.51 64.05 L165.95 65.11 L168.15 64.86 L168.52 65.45 L168.89 63.04 L169.33 63.59 L171.53 62.9 L171.9 62.97 L172.27 62.02 L172.71 62.06 L174.91 60.92 L175.28 60.48 L175.65 61 L176.09 60.52 L178.28 58.95 L178.66 58.01 L179.03 59.98 L179.47 59 L181.66 57 L182.03 55.56 L182.41 58.97 L182.85 57.49 L185.04 55.09 L185.41 53.15 L185.78 57.98 L186.22 56.01 L188.42 53.22 L188.79 50.81 L189.16 57.02 L189.6 54.58 L191.8 51.42 L192.17 48.55 L192.54 56.1 L192.98 53.19 L195.18 49.69 L195.55 46.39 L195.92 55.21 L196.36 51.87 L198.56 48.06 L198.93 44.34 L199.3 54.37 L199.74 50.63 L201.93 46.53 L202.31 42.43 L202.68 53.59 L203.12 49.47 L205.31 45.11 L205.68 40.66 L206.06 52.87 L206.5 48.4 L208.69 43.81 L209.06 39.05 L209.43 52.22 L209.87 47.42 L212.07 42.74 L212.44 37.94 L212.81 51.25 L213.25 46.44 L215.45 41.84 L215.82 37.06 L216.19 50.38 L216.63 45.58 L218.83 41.08 L219.2 36.3 L219.57 49.64 L220.01 44.86 L222.2 40.45 L222.58 35.69 L222.95 49.05 L223.39 44.29 L225.58 39.97 L225.96 35.23 L226.33 48.6 L226.77 43.86 L228.96 39.64 L229.33 34.91 L229.71 48.3 L230.14 43.58 L232.34 39.45 L232.71 34.75 L233.08 48.15 L233.52 43.45 L235.72 39.43 L236.09 34.74 L236.46 48.16 L236.9 43.48 L239.1 39.55 L239.47 34.88 L239.84 48.32 L240.28 43.66 L242.48 39.83 L242.85 35.18 L243.22 48.63 L243.66 43.99 L245.85 40.26 L246.23 35.62 L246.6 49.09 L247.04 44.47 L249.23 40.83 L249.6 36.21 L249.98 49.69 L250.42 45.09 L252.61 41.55 L252.98 36.94 L253.35 50.44 L253.79 45.85 L255.99 42.4 L256.36 37.81 L256.73 51.32 L257.17 46.75 L259.37 43.38 L259.74 38.83 L260.11 52.26 L260.55 47.74 L262.75 44.62 L263.12 40.42 L263.49 52.92 L263.93 48.75 L266.13 46 L266.5 42.16 L266.87 53.65 L267.31 49.85 L269.5 47.49 L269.88 44.06 L270.25 54.44 L270.69 51.04 L272.88 49.09 L273.25 46.09 L273.63 55.28 L274.06 52.31 L276.26 50.78 L276.63 48.23 L277 56.17 L277.44 53.65 L279.64 52.56 L280.01 50.48 L280.38 57.1 L280.82 55.05 L283.02 54.4 L283.39 52.81 L283.76 58.06 L284.2 56.5 L286.4 56.3 L286.77 55.21 L287.14 59.05 L287.58 57.99 L289.77 58.24 L290.15 57.65 L290.52 60.06 L290.96 59.51 L293.15 60.2 L293.52 60.13 L293.9 61.08 L294.34 61.04 L296.53 62.18 L296.9 62.62 L297.27 62.1 L297.71 62.58 L299.91 64.15 L300.28 65.09 L300.65 63.12 L301.09 64.1 L303.29 66.1 L303.66 67.54 L304.03 64.13 L304.47 65.61 L306.67 68.01 L307.04 69.95 L307.41 65.12 L307.85 67.09 L310.05 69.88 L310.42 72.29 L310.79 66.08 L311.23 68.52 L313.42 71.68 L313.8 74.55 L314.17 67 L314.61 69.91 L316.8 73.41 L317.17 76.71 L317.55 67.89 L317.98 71.23 L320.18 75.04 L320.55 78.76 L320.92 68.73 L321.36 72.47 L323.56 76.57 L323.93 80.67 L324.3 69.51 L324.74 73.63 L326.94 77.99 L327.31 82.44 L327.68 70.23 L328.12 74.7 L330.32 79.29 L330.69 84.05 L331.06 70.88 L331.5 75.68 L333.69 80.36 L334.07 85.16 L334.44 71.85 L334.88 76.66 L337.07 81.26 L337.44 86.04 L337.82 72.72 L338.26 77.52 L340.45 82.02 L340.82 86.8 L341.19 73.46 L341.63 78.24 L343.83 82.65 L344.2 87.41 L344.57 74.05 L345.01 78.81 L347.21 83.13 L347.58 87.87 L347.95 74.5 L348.39 79.24 L350.59 83.46 L350.96 88.19 L351.33 74.8 L351.77 79.52 L353.97 83.65 L354.34 88.35 L354.71 74.95 L355.15 79.65 L357.34 83.67 L357.72 88.36 L358.09 74.94 L358.53 79.62 L360.72 83.55 L361.09 88.22 L361.47 74.78 L361.9 79.44 L364.1 83.27 L364.47 87.92 L364.84 74.47 L365.28 79.11 L367.48 82.84 L367.85 87.48 L368.22 74.01 L368.66 78.63 L370.86 82.27 L371.23 86.89 L371.6 73.41 L372.04 78.01 L374.24 81.55 L374.61 86.16 L374.98 72.66 L375.42 77.25 L377.61 80.7 L377.99 85.29 L378.36 71.78 L378.8 76.35 L380.99 79.72 L381.36 84.27 L381.74 70.84 L382.18 75.36 L384.37 78.48 L384.74 82.68 L385.11 70.18 L385.55 74.35 L387.75 77.1 L388.12 80.94 L388.49 69.45 L388.93 73.25 L391.13 75.61 L391.5 79.04 L391.87 68.66 L392.31 72.06 L394.51 74.01 L394.88 77.01 L395.25 67.82 L395.69 70.79 L397.89 72.32 L398.26 74.87 L398.63 66.93 L399.07 69.45 L401.26 70.54 L401.64 72.62 L402.01 66 L402.45 68.05 L404.64 68.7 L405.01 70.29 L405.39 65.04 L405.82 66.6 L408.02 66.8 L408.39 67.89 L408.76 64.05 L409.2 65.11 L411.4 64.86 L411.77 65.45 L412.14 63.04 L412.58 63.59 L414.78 62.9 L415.15 62.97 L415.52 62.02 L415.96 62.06 L418.16 60.92 L418.53 60.48 L418.9 61 L419.34 60.52 L421.53 58.95 L421.91 58.01 L422.28 59.98 L422.72 59 L424.91 57 L425.28 55.56 L425.66 58.97 L426.1 57.49 L428.29 55.09 L428.66 53.15 L429.03 57.98 L429.47 56.01 L431.67 53.22 L432.04 50.81 L432.41 57.02 L432.85 54.58 L435.05 51.42 L435.42 48.55 L435.79 56.1 L436.23 53.19 L438.43 49.69 L438.8 46.39 L439.17 55.21 L439.61 51.87 L441.81 48.06 L442.18 44.34 L442.55 54.37 L442.99 50.63 L445.18 46.53 L445.56 42.43 L445.93 53.59 L446.37 49.47 L448.56 45.11 L448.93 40.66 L449.31 52.87 L449.75 48.4 L451.94 43.81 L452.31 39.05 L452.68 52.22 L453.12 47.42 L455.32 42.74 L455.69 37.94 L456.06 51.25 L456.5 46.44 L458.7 41.84 L459.07 37.06 L459.44 50.38 L459.88 45.58 L462.08 41.08 L462.45 36.3 L462.82 49.64 L463.26 44.86 L465.45 40.45 L465.83 35.69 L466.2 49.05 L466.64 44.29 L468.83 39.97 L469.21 35.23 L469.58 48.6 L470.02 43.86 L472.21 39.64 L472.58 34.91 L472.96 48.3 L473.39 43.58 L475.59 39.45 L475.96 34.75 L476.33 48.15 L476.77 43.45 L478.97 39.43 L479.34 34.74 L479.71 48.16 L480.15 43.48 L482.35 39.55 L482.72 34.88 L483.09 48.32 L483.53 43.66 L485.73 39.83 L486.1 35.18 L486.47 48.63 L486.91 43.99 L489.1 40.26 L489.48 35.62 L489.85 49.09 L490.29 44.47 L492.48 40.83 L492.85 36.21 L493.23 49.69 L493.67 45.09 L495.86 41.55 L496.23 36.94 L496.6 50.44 L497.04 45.85 L499.24 42.4 L499.61 37.81 L499.98 51.32 L500.42 46.75 L502.62 43.38 L502.99 38.83 L503.36 52.26 L503.8 47.74 L506 44.62 L506.37 40.42 L506.74 52.92 L507.18 48.75 L509.38 46 L509.75 42.16 L510.12 53.65 L510.56 49.85 L512.75 47.49 L513.13 44.06 L513.5 54.44 L513.94 51.04 L516.13 49.09 L516.5 46.09 L516.88 55.28 L517.31 52.31 L519.51 50.78 L519.88 48.23 L520.25 56.17 L520.69 53.65 L522.89 52.56 L523.26 50.48 L523.63 57.1 L524.07 55.05 L526.27 54.4 L526.64 52.81 L527.01 58.06 L527.45 56.5 L529.65 56.3 L530.02 55.21 L530.39 59.05 L530.83 57.99 L533.02 58.24 L533.4 57.65 L533.77 60.06 L534.21 59.51" stroke="#0072BD" stroke-width="1.25" stroke-linejoin="bevel"/>
<clipPath id="bandac"><path d="M45.8 104.43 L47.32 104.02 L48.84 103.56 L50.36 103.05 L51.88 102.49 L53.4 101.89 L54.92 101.24 L56.44 100.54 L57.96 99.81 L59.48 98.96 L61 97.81 L62.52 96.6 L64.04 95.34 L65.56 94.03 L67.08 92.67 L68.6 91.26 L70.12 89.8 L71.65 88.31 L73.17 86.76 L74.69 85.19 L76.21 83.57 L77.73 81.92 L79.25 80.24 L80.77 78.53 L82.29 76.79 L83.81 75.03 L85.33 73.25 L86.85 71.45 L88.37 69.64 L89.89 67.81 L91.41 65.98 L92.93 64.14 L94.45 62.29 L95.97 60.44 L97.49 58.6 L99.01 56.75 L100.53 54.92 L102.05 53.1 L103.57 51.28 L105.09 49.49 L106.61 47.71 L108.13 45.96 L109.65 44.23 L111.17 42.52 L112.69 40.85 L114.21 39.2 L115.73 37.6 L117.25 36.02 L118.77 34.49 L120.3 33 L121.82 31.55 L123.34 30.15 L124.86 28.8 L126.38 27.5 L127.9 26.25 L129.42 25.06 L130.94 23.92 L132.46 23.14 L133.98 22.41 L135.5 21.73 L137.02 21.09 L138.54 20.49 L140.06 19.95 L141.58 19.45 L143.1 18.99 L144.62 18.59 L146.14 18.24 L147.66 17.93 L149.18 17.68 L150.7 17.48 L152.22 17.33 L153.74 17.23 L155.26 17.19 L156.78 17.19 L158.3 17.25 L159.82 17.36 L161.34 17.52 L162.86 17.73 L164.38 17.99 L165.9 18.3 L167.42 18.67 L168.95 19.08 L170.47 19.54 L171.99 20.05 L173.51 20.61 L175.03 21.21 L176.55 21.86 L178.07 22.56 L179.59 23.29 L181.11 24.14 L182.63 25.29 L184.15 26.5 L185.67 27.76 L187.19 29.07 L188.71 30.43 L190.23 31.84 L191.75 33.3 L193.27 34.79 L194.79 36.34 L196.31 37.91 L197.83 39.53 L199.35 41.18 L200.87 42.86 L202.39 44.57 L203.91 46.31 L205.43 48.07 L206.95 49.85 L208.47 51.65 L209.99 53.46 L211.51 55.29 L213.03 57.12 L214.55 58.96 L216.07 60.81 L217.6 62.66 L219.12 64.5 L220.64 66.35 L222.16 68.18 L223.68 70 L225.2 71.82 L226.72 73.61 L228.24 75.39 L229.76 77.14 L231.28 78.87 L232.8 80.58 L234.32 82.25 L235.84 83.9 L237.36 85.5 L238.88 87.08 L240.4 88.61 L241.92 90.1 L243.44 91.55 L244.96 92.95 L246.48 94.3 L248 95.6 L249.52 96.85 L251.04 98.04 L252.56 99.18 L254.08 99.96 L255.6 100.69 L257.12 101.37 L258.64 102.01 L260.16 102.61 L261.68 103.15 L263.2 103.65 L264.72 104.11 L266.25 104.51 L267.77 104.86 L269.29 105.17 L270.81 105.42 L272.33 105.62 L273.85 105.77 L275.37 105.87 L276.89 105.91 L278.41 105.91 L279.93 105.85 L281.45 105.74 L282.97 105.58 L284.49 105.37 L286.01 105.11 L287.53 104.8 L289.05 104.43 L290.57 104.02 L292.09 103.56 L293.61 103.05 L295.13 102.49 L296.65 101.89 L298.17 101.24 L299.69 100.54 L301.21 99.81 L302.73 98.96 L304.25 97.81 L305.77 96.6 L307.29 95.34 L308.81 94.03 L310.33 92.67 L311.85 91.26 L313.38 89.8 L314.9 88.31 L316.42 86.76 L317.94 85.19 L319.46 83.57 L320.98 81.92 L322.5 80.24 L324.02 78.53 L325.54 76.79 L327.06 75.03 L328.58 73.25 L330.1 71.45 L331.62 69.64 L333.14 67.81 L334.66 65.98 L336.18 64.14 L337.7 62.29 L339.22 60.44 L340.74 58.6 L342.26 56.75 L343.78 54.92 L345.3 53.1 L346.82 51.28 L348.34 49.49 L349.86 47.71 L351.38 45.96 L352.9 44.23 L354.42 42.52 L355.94 40.85 L357.46 39.2 L358.98 37.6 L360.5 36.02 L362.02 34.49 L363.55 33 L365.07 31.55 L366.59 30.15 L368.11 28.8 L369.63 27.5 L371.15 26.25 L372.67 25.06 L374.19 23.92 L375.71 23.14 L377.23 22.41 L378.75 21.73 L380.27 21.09 L381.79 20.49 L383.31 19.95 L384.83 19.45 L386.35 18.99 L387.87 18.59 L389.39 18.24 L390.91 17.93 L392.43 17.68 L393.95 17.48 L395.47 17.33 L396.99 17.23 L398.51 17.19 L400.03 17.19 L401.55 17.25 L403.07 17.36 L404.59 17.52 L406.11 17.73 L407.63 17.99 L409.15 18.3 L410.67 18.67 L412.2 19.08 L413.72 19.54 L415.24 20.05 L416.76 20.61 L418.28 21.21 L419.8 21.86 L421.32 22.56 L422.84 23.29 L424.36 24.14 L425.88 25.29 L427.4 26.5 L428.92 27.76 L430.44 29.07 L431.96 30.43 L433.48 31.84 L435 33.3 L436.52 34.79 L438.04 36.34 L439.56 37.91 L441.08 39.53 L442.6 41.18 L444.12 42.86 L445.64 44.57 L447.16 46.31 L448.68 48.07 L450.2 49.85 L451.72 51.65 L453.24 53.46 L454.76 55.29 L456.28 57.12 L457.8 58.96 L459.32 60.81 L460.85 62.66 L462.37 64.5 L463.89 66.35 L465.41 68.18 L466.93 70 L468.45 71.82 L469.97 73.61 L471.49 75.39 L473.01 77.14 L474.53 78.87 L476.05 80.58 L477.57 82.25 L479.09 83.9 L480.61 85.5 L482.13 87.08 L483.65 88.61 L485.17 90.1 L486.69 91.55 L488.21 92.95 L489.73 94.3 L491.25 95.6 L492.77 96.85 L494.29 98.04 L495.81 99.18 L497.33 99.96 L498.85 100.69 L500.37 101.37 L501.89 102.01 L503.41 102.61 L504.93 103.15 L506.45 103.65 L507.97 104.11 L509.5 104.51 L511.02 104.86 L512.54 105.17 L514.06 105.42 L515.58 105.62 L517.1 105.77 L518.62 105.87 L520.14 105.91 L521.66 105.91 L523.18 105.85 L524.7 105.74 L526.22 105.58 L527.74 105.37 L529.26 105.11 L530.78 104.8 L532.3 104.43 L532.3 82.92 L530.78 83.28 L529.26 83.6 L527.74 83.86 L526.22 84.07 L524.7 84.23 L523.18 84.34 L521.66 84.4 L520.14 84.4 L518.62 84.35 L517.1 84.26 L515.58 84.11 L514.06 83.9 L512.54 83.65 L511.02 83.35 L509.5 83 L507.97 82.59 L506.45 82.14 L504.93 81.64 L503.41 81.09 L501.89 80.5 L500.37 79.86 L498.85 79.17 L497.33 78.44 L495.81 77.68 L494.29 77.19 L492.77 76.68 L491.25 76.14 L489.73 75.58 L488.21 75 L486.69 74.4 L485.17 73.78 L483.65 73.15 L482.13 72.49 L480.61 71.82 L479.09 71.13 L477.57 70.42 L476.05 69.7 L474.53 68.97 L473.01 68.23 L471.49 67.48 L469.97 66.72 L468.45 65.95 L466.93 65.17 L465.41 64.39 L463.89 63.61 L462.37 62.82 L460.85 62.03 L459.32 61.23 L457.8 60.44 L456.28 59.65 L454.76 58.87 L453.24 58.08 L451.72 57.31 L450.2 56.53 L448.68 55.77 L447.16 55.02 L445.64 54.27 L444.12 53.54 L442.6 52.82 L441.08 52.11 L439.56 51.42 L438.04 50.74 L436.52 50.08 L435 49.44 L433.48 48.82 L431.96 48.21 L430.44 47.63 L428.92 47.07 L427.4 46.53 L425.88 46.01 L424.36 45.52 L422.84 44.81 L421.32 44.07 L419.8 43.38 L418.28 42.73 L416.76 42.12 L415.24 41.57 L413.72 41.06 L412.2 40.59 L410.67 40.18 L409.15 39.82 L407.63 39.5 L406.11 39.24 L404.59 39.03 L403.07 38.87 L401.55 38.76 L400.03 38.7 L398.51 38.7 L396.99 38.75 L395.47 38.84 L393.95 38.99 L392.43 39.2 L390.91 39.45 L389.39 39.75 L387.87 40.1 L386.35 40.51 L384.83 40.96 L383.31 41.46 L381.79 42.01 L380.27 42.6 L378.75 43.24 L377.23 43.93 L375.71 44.66 L374.19 45.42 L372.67 45.91 L371.15 46.42 L369.63 46.96 L368.11 47.52 L366.59 48.1 L365.07 48.7 L363.55 49.32 L362.02 49.95 L360.5 50.61 L358.98 51.28 L357.46 51.97 L355.94 52.68 L354.42 53.4 L352.9 54.13 L351.38 54.87 L349.86 55.62 L348.34 56.38 L346.82 57.15 L345.3 57.93 L343.78 58.71 L342.26 59.49 L340.74 60.28 L339.22 61.07 L337.7 61.87 L336.18 62.66 L334.66 63.45 L333.14 64.23 L331.62 65.02 L330.1 65.79 L328.58 66.57 L327.06 67.33 L325.54 68.08 L324.02 68.83 L322.5 69.56 L320.98 70.28 L319.46 70.99 L317.94 71.68 L316.42 72.36 L314.9 73.02 L313.38 73.66 L311.85 74.28 L310.33 74.89 L308.81 75.47 L307.29 76.03 L305.77 76.57 L304.25 77.09 L302.73 77.58 L301.21 78.29 L299.69 79.03 L298.17 79.72 L296.65 80.37 L295.13 80.98 L293.61 81.53 L292.09 82.04 L290.57 82.51 L289.05 82.92 L287.53 83.28 L286.01 83.6 L284.49 83.86 L282.97 84.07 L281.45 84.23 L279.93 84.34 L278.41 84.4 L276.89 84.4 L275.37 84.35 L273.85 84.26 L272.33 84.11 L270.81 83.9 L269.29 83.65 L267.77 83.35 L266.25 83 L264.72 82.59 L263.2 82.14 L261.68 81.64 L260.16 81.09 L258.64 80.5 L257.12 79.86 L255.6 79.17 L254.08 78.44 L252.56 77.68 L251.04 77.19 L249.52 76.68 L248 76.14 L246.48 75.58 L244.96 75 L243.44 74.4 L241.92 73.78 L240.4 73.15 L238.88 72.49 L237.36 71.82 L235.84 71.13 L234.32 70.42 L232.8 69.7 L231.28 68.97 L229.76 68.23 L228.24 67.48 L226.72 66.72 L225.2 65.95 L223.68 65.17 L222.16 64.39 L220.64 63.61 L219.12 62.82 L217.6 62.03 L216.07 61.23 L214.55 60.44 L213.03 59.65 L211.51 58.87 L209.99 58.08 L208.47 57.31 L206.95 56.53 L205.43 55.77 L203.91 55.02 L202.39 54.27 L200.87 53.54 L199.35 52.82 L197.83 52.11 L196.31 51.42 L194.79 50.74 L193.27 50.08 L191.75 49.44 L190.23 48.82 L188.71 48.21 L187.19 47.63 L185.67 47.07 L184.15 46.53 L182.63 46.01 L181.11 45.52 L179.59 44.81 L178.07 44.07 L176.55 43.38 L175.03 42.73 L173.51 42.12 L171.99 41.57 L170.47 41.06 L168.95 40.59 L167.42 40.18 L165.9 39.82 L164.38 39.5 L162.86 39.24 L161.34 39.03 L159.82 38.87 L158.3 38.76 L156.78 38.7 L155.26 38.7 L153.74 38.75 L152.22 38.84 L150.7 38.99 L149.18 39.2 L147.66 39.45 L146.14 39.75 L144.62 40.1 L143.1 40.51 L141.58 40.96 L140.06 41.46 L138.54 42.01 L137.02 42.6 L135.5 43.24 L133.98 43.93 L132.46 44.66 L130.94 45.42 L129.42 45.91 L127.9 46.42 L126.38 46.96 L124.86 47.52 L123.34 48.1 L121.82 48.7 L120.3 49.32 L118.77 49.95 L117.25 50.61 L115.73 51.28 L114.21 51.97 L112.69 52.68 L111.17 53.4 L109.65 54.13 L108.13 54.87 L106.61 55.62 L105.09 56.38 L103.57 57.15 L102.05 57.93 L100.53 58.71 L99.01 59.49 L97.49 60.28 L95.97 61.07 L94.45 61.87 L92.93 62.66 L91.41 63.45 L89.89 64.23 L88.37 65.02 L86.85 65.79 L85.33 66.57 L83.81 67.33 L82.29 68.08 L80.77 68.83 L79.25 69.56 L77.73 70.28 L76.21 70.99 L74.69 71.68 L73.17 72.36 L71.65 73.02 L70.12 73.66 L68.6 74.28 L67.08 74.89 L65.56 75.47 L64.04 76.03 L62.52 76.57 L61 77.09 L59.48 77.58 L57.96 78.29 L56.44 79.03 L54.92 79.72 L53.4 80.37 L51.88 80.98 L50.36 81.53 L48.84 82.04 L47.32 82.51 L45.8 82.92 Z"/></clipPath>
<path d="M45.8 94.32 L47.32 93.91 L48.84 93.45 L50.36 92.94 L51.88 92.38 L53.4 91.78 L54.92 91.13 L56.44 90.43 L57.96 89.69 L59.48 88.91 L61 88.07 L62.52 87.19 L64.04 86.27 L65.56 85.31 L67.08 84.31 L68.6 83.28 L70.12 82.22 L71.65 81.12 L73.17 79.99 L74.69 78.84 L76.21 77.66 L77.73 76.45 L79.25 75.22 L80.77 73.97 L82.29 72.7 L83.81 71.41 L85.33 70.11 L86.85 68.79 L88.37 67.47 L89.89 66.13 L91.41 64.79 L92.93 63.44 L94.45 62.09 L95.97 60.74 L97.49 59.39 L99.01 58.04 L100.53 56.7 L102.05 55.37 L103.57 54.04 L105.09 52.73 L106.61 51.43 L108.13 50.15 L109.65 48.88 L111.17 47.63 L112.69 46.41 L114.21 45.21 L115.73 44.03 L117.25 42.88 L118.77 41.76 L120.3 40.67 L121.82 39.61 L123.34 38.59 L124.86 37.6 L126.38 36.65 L127.9 35.73 L129.42 34.86 L130.94 34.03 L132.46 33.25 L133.98 32.53 L135.5 31.84 L137.02 31.2 L138.54 30.61 L140.06 30.06 L141.58 29.56 L143.1 29.11 L144.62 28.7 L146.14 28.35 L147.66 28.05 L149.18 27.79 L150.7 27.59 L152.22 27.44 L153.74 27.34 L155.26 27.3 L156.78 27.3 L158.3 27.36 L159.82 27.47 L161.34 27.63 L162.86 27.84 L164.38 28.1 L165.9 28.42 L167.42 28.78 L168.95 29.19 L170.47 29.65 L171.99 30.16 L173.51 30.72 L175.03 31.32 L176.55 31.97 L178.07 32.67 L179.59 33.41 L181.11 34.19 L182.63 35.03 L184.15 35.91 L185.67 36.83 L187.19 37.79 L188.71 38.79 L190.23 39.82 L191.75 40.88 L193.27 41.98 L194.79 43.11 L196.31 44.26 L197.83 45.44 L199.35 46.65 L200.87 47.88 L202.39 49.13 L203.91 50.4 L205.43 51.69 L206.95 52.99 L208.47 54.31 L209.99 55.63 L211.51 56.97 L213.03 58.31 L214.55 59.66 L216.07 61.01 L217.6 62.36 L219.12 63.71 L220.64 65.06 L222.16 66.4 L223.68 67.73 L225.2 69.06 L226.72 70.37 L228.24 71.67 L229.76 72.95 L231.28 74.22 L232.8 75.47 L234.32 76.69 L235.84 77.89 L237.36 79.07 L238.88 80.22 L240.4 81.34 L241.92 82.43 L243.44 83.49 L244.96 84.51 L246.48 85.5 L248 86.45 L249.52 87.37 L251.04 88.24 L252.56 89.07 L254.08 89.85 L255.6 90.57 L257.12 91.26 L258.64 91.9 L260.16 92.49 L261.68 93.04 L263.2 93.54 L264.72 93.99 L266.25 94.4 L267.77 94.75 L269.29 95.05 L270.81 95.31 L272.33 95.51 L273.85 95.66 L275.37 95.76 L276.89 95.8 L278.41 95.8 L279.93 95.74 L281.45 95.63 L282.97 95.47 L284.49 95.26 L286.01 95 L287.53 94.68 L289.05 94.32 L290.57 93.91 L292.09 93.45 L293.61 92.94 L295.13 92.38 L296.65 91.78 L298.17 91.13 L299.69 90.43 L301.21 89.69 L302.73 88.91 L304.25 88.07 L305.77 87.19 L307.29 86.27 L308.81 85.31 L310.33 84.31 L311.85 83.28 L313.38 82.22 L314.9 81.12 L316.42 79.99 L317.94 78.84 L319.46 77.66 L320.98 76.45 L322.5 75.22 L324.02 73.97 L325.54 72.7 L327.06 71.41 L328.58 70.11 L330.1 68.79 L331.62 67.47 L333.14 66.13 L334.66 64.79 L336.18 63.44 L337.7 62.09 L339.22 60.74 L340.74 59.39 L342.26 58.04 L343.78 56.7 L345.3 55.37 L346.82 54.04 L348.34 52.73 L349.86 51.43 L351.38 50.15 L352.9 48.88 L354.42 47.63 L355.94 46.41 L357.46 45.21 L358.98 44.03 L360.5 42.88 L362.02 41.76 L363.55 40.67 L365.07 39.61 L366.59 38.59 L368.11 37.6 L369.63 36.65 L371.15 35.73 L372.67 34.86 L374.19 34.03 L375.71 33.25 L377.23 32.53 L378.75 31.84 L380.27 31.2 L381.79 30.61 L383.31 30.06 L384.83 29.56 L386.35 29.11 L387.87 28.7 L389.39 28.35 L390.91 28.05 L392.43 27.79 L393.95 27.59 L395.47 27.44 L396.99 27.34 L398.51 27.3 L400.03 27.3 L401.55 27.36 L403.07 27.47 L404.59 27.63 L406.11 27.84 L407.63 28.1 L409.15 28.42 L410.67 28.78 L412.2 29.19 L413.72 29.65 L415.24 30.16 L416.76 30.72 L418.28 31.32 L419.8 31.97 L421.32 32.67 L422.84 33.41 L424.36 34.19 L425.88 35.03 L427.4 35.91 L428.92 36.83 L430.44 37.79 L431.96 38.79 L433.48 39.82 L435 40.88 L436.52 41.98 L438.04 43.11 L439.56 44.26 L441.08 45.44 L442.6 46.65 L444.12 47.88 L445.64 49.13 L447.16 50.4 L448.68 51.69 L450.2 52.99 L451.72 54.31 L453.24 55.63 L454.76 56.97 L456.28 58.31 L457.8 59.66 L459.32 61.01 L460.85 62.36 L462.37 63.71 L463.89 65.06 L465.41 66.4 L466.93 67.73 L468.45 69.06 L469.97 70.37 L471.49 71.67 L473.01 72.95 L474.53 74.22 L476.05 75.47 L477.57 76.69 L479.09 77.89 L480.61 79.07 L482.13 80.22 L483.65 81.34 L485.17 82.43 L486.69 83.49 L488.21 84.51 L489.73 85.5 L491.25 86.45 L492.77 87.37 L494.29 88.24 L495.81 89.07 L497.33 89.85 L498.85 90.57 L500.37 91.26 L501.89 91.9 L503.41 92.49 L504.93 93.04 L506.45 93.54 L507.97 93.99 L509.5 94.4 L511.02 94.75 L512.54 95.05 L514.06 95.31 L515.58 95.51 L517.1 95.66 L518.62 95.76 L520.14 95.8 L521.66 95.8 L523.18 95.74 L524.7 95.63 L526.22 95.47 L527.74 95.26 L529.26 95 L530.78 94.68 L532.3 94.32 L532.3 93.03 L530.78 93.39 L529.26 93.71 L527.74 93.97 L526.22 94.18 L524.7 94.34 L523.18 94.45 L521.66 94.51 L520.14 94.51 L518.62 94.47 L517.1 94.37 L515.58 94.22 L514.06 94.02 L512.54 93.76 L511.02 93.46 L509.5 93.11 L507.97 92.7 L506.45 92.25 L504.93 91.75 L503.41 91.2 L501.89 90.61 L500.37 89.97 L498.85 89.28 L497.33 88.55 L495.81 87.78 L494.29 86.99 L492.77 86.16 L491.25 85.29 L489.73 84.38 L488.21 83.44 L486.69 82.46 L485.17 81.45 L483.65 80.41 L482.13 79.34 L480.61 78.25 L479.09 77.13 L477.57 75.98 L476.05 74.81 L474.53 73.63 L473.01 72.42 L471.49 71.2 L469.97 69.96 L468.45 68.71 L466.93 67.44 L465.41 66.17 L463.89 64.89 L462.37 63.61 L460.85 62.32 L459.32 61.03 L457.8 59.75 L456.28 58.46 L454.76 57.18 L453.24 55.91 L451.72 54.65 L450.2 53.39 L448.68 52.15 L447.16 50.92 L445.64 49.71 L444.12 48.52 L442.6 47.35 L441.08 46.2 L439.56 45.07 L438.04 43.97 L436.52 42.9 L435 41.85 L433.48 40.84 L431.96 39.86 L430.44 38.91 L428.92 37.99 L427.4 37.11 L425.88 36.27 L424.36 35.47 L422.84 34.7 L421.32 33.96 L419.8 33.26 L418.28 32.61 L416.76 32.01 L415.24 31.45 L413.72 30.94 L412.2 30.48 L410.67 30.07 L409.15 29.71 L407.63 29.39 L406.11 29.13 L404.59 28.92 L403.07 28.76 L401.55 28.65 L400.03 28.59 L398.51 28.59 L396.99 28.63 L395.47 28.73 L393.95 28.88 L392.43 29.08 L390.91 29.34 L389.39 29.64 L387.87 29.99 L386.35 30.4 L384.83 30.85 L383.31 31.35 L381.79 31.9 L380.27 32.49 L378.75 33.13 L377.23 33.82 L375.71 34.55 L374.19 35.32 L372.67 36.11 L371.15 36.94 L369.63 37.81 L368.11 38.72 L366.59 39.66 L365.07 40.64 L363.55 41.65 L362.02 42.69 L360.5 43.76 L358.98 44.85 L357.46 45.97 L355.94 47.12 L354.42 48.29 L352.9 49.47 L351.38 50.68 L349.86 51.9 L348.34 53.14 L346.82 54.39 L345.3 55.66 L343.78 56.93 L342.26 58.21 L340.74 59.49 L339.22 60.78 L337.7 62.07 L336.18 63.35 L334.66 64.64 L333.14 65.92 L331.62 67.19 L330.1 68.45 L328.58 69.71 L327.06 70.95 L325.54 72.18 L324.02 73.39 L322.5 74.58 L320.98 75.75 L319.46 76.9 L317.94 78.03 L316.42 79.13 L314.9 80.2 L313.38 81.25 L311.85 82.26 L310.33 83.24 L308.81 84.19 L307.29 85.11 L305.77 85.99 L304.25 86.83 L302.73 87.63 L301.21 88.4 L299.69 89.14 L298.17 89.84 L296.65 90.49 L295.13 91.09 L293.61 91.65 L292.09 92.16 L290.57 92.62 L289.05 93.03 L287.53 93.39 L286.01 93.71 L284.49 93.97 L282.97 94.18 L281.45 94.34 L279.93 94.45 L278.41 94.51 L276.89 94.51 L275.37 94.47 L273.85 94.37 L272.33 94.22 L270.81 94.02 L269.29 93.76 L267.77 93.46 L266.25 93.11 L264.72 92.7 L263.2 92.25 L261.68 91.75 L260.16 91.2 L258.64 90.61 L257.12 89.97 L255.6 89.28 L254.08 88.55 L252.56 87.78 L251.04 86.99 L249.52 86.16 L248 85.29 L246.48 84.38 L244.96 83.44 L243.44 82.46 L241.92 81.45 L240.4 80.41 L238.88 79.34 L237.36 78.25 L235.84 77.13 L234.32 75.98 L232.8 74.81 L231.28 73.63 L229.76 72.42 L228.24 71.2 L226.72 69.96 L225.2 68.71 L223.68 67.44 L222.16 66.17 L220.64 64.89 L219.12 63.61 L217.6 62.32 L216.07 61.03 L214.55 59.75 L213.03 58.46 L211.51 57.18 L209.99 55.91 L208.47 54.65 L206.95 53.39 L205.43 52.15 L203.91 50.92 L202.39 49.71 L200.87 48.52 L199.35 47.35 L197.83 46.2 L196.31 45.07 L194.79 43.97 L193.27 42.9 L191.75 41.85 L190.23 40.84 L188.71 39.86 L187.19 38.91 L185.67 37.99 L184.15 37.11 L182.63 36.27 L181.11 35.47 L179.59 34.7 L178.07 33.96 L176.55 33.26 L175.03 32.61 L173.51 32.01 L171.99 31.45 L170.47 30.94 L168.95 30.48 L167.42 30.07 L165.9 29.71 L164.38 29.39 L162.86 29.13 L161.34 28.92 L159.82 28.76 L158.3 28.65 L156.78 28.59 L155.26 28.59 L153.74 28.63 L152.22 28.73 L150.7 28.88 L149.18 29.08 L147.66 29.34 L146.14 29.64 L144.62 29.99 L143.1 30.4 L141.58 30.85 L140.06 31.35 L138.54 31.9 L137.02 32.49 L135.5 33.13 L133.98 33.82 L132.46 34.55 L130.94 35.32 L129.42 36.11 L127.9 36.94 L126.38 37.81 L124.86 38.72 L123.34 39.66 L121.82 40.64 L120.3 41.65 L118.77 42.69 L117.25 43.76 L115.73 44.85 L114.21 45.97 L112.69 47.12 L111.17 48.29 L109.65 49.47 L108.13 50.68 L106.61 51.9 L105.09 53.14 L103.57 54.39 L102.05 55.66 L100.53 56.93 L99.01 58.21 L97.49 59.49 L95.97 60.78 L94.45 62.07 L92.93 63.35 L91.41 64.64 L89.89 65.92 L88.37 67.19 L86.85 68.45 L85.33 69.71 L83.81 70.95 L82.29 72.18 L80.77 73.39 L79.25 74.58 L77.73 75.75 L76.21 76.9 L74.69 78.03 L73.17 79.13 L71.65 80.2 L70.12 81.25 L68.6 82.26 L67.08 83.24 L65.56 84.19 L64.04 85.11 L62.52 85.99 L61 86.83 L59.48 87.63 L57.96 88.4 L56.44 89.14 L54.92 89.84 L53.4 90.49 L51.88 91.09 L50.36 91.65 L48.84 92.16 L47.32 92.62 L45.8 93.03 Z" fill="#FF4D18" stroke="none"/>
<path clip-path="url(#bandac)" d="M43.15 97.5 L43.52 104.96 L43.89 83.37 L44.33 90.8 L46.52 96.71 L46.9 104.14 L47.27 82.52 L47.71 89.92 L49.9 95.68 L50.27 103.08 L50.65 81.43 L51.09 88.8 L53.28 94.41 L53.65 101.78 L54.02 80.11 L54.46 87.45 L56.66 92.91 L57.03 100.26 L57.4 78.57 L57.84 85.88 L60.04 91.15 L60.41 98.26 L60.78 77.16 L61.22 84.23 L63.42 89.01 L63.79 95.56 L64.16 75.99 L64.6 82.49 L66.8 86.66 L67.17 92.59 L67.54 74.71 L67.98 80.59 L70.17 84.12 L70.55 89.39 L70.92 73.33 L71.36 78.55 L73.55 81.4 L73.92 85.98 L74.3 71.85 L74.73 76.37 L76.93 78.54 L77.3 82.38 L77.67 70.3 L78.11 74.09 L80.31 75.55 L80.68 78.63 L81.05 68.69 L81.49 71.7 L83.69 72.45 L84.06 74.74 L84.43 67.02 L84.87 69.24 L87.07 69.27 L87.44 70.75 L87.81 65.3 L88.25 66.73 L90.44 66.03 L90.82 66.7 L91.19 63.56 L91.63 64.17 L93.82 62.75 L94.19 62.6 L94.57 61.81 L95.01 61.59 L97.2 59.47 L97.57 58.5 L97.94 60.05 L98.38 59.01 L100.58 56.2 L100.95 54.41 L101.32 58.3 L101.76 56.45 L103.96 52.97 L104.33 50.39 L104.7 56.58 L105.14 53.93 L107.34 49.81 L107.71 46.45 L108.08 54.89 L108.52 51.47 L110.72 46.74 L111.09 42.62 L111.46 53.26 L111.9 49.09 L114.09 43.78 L114.47 38.94 L114.84 51.69 L115.28 46.8 L117.47 40.95 L117.84 35.43 L118.22 50.19 L118.65 44.62 L120.85 38.28 L121.22 32.11 L121.59 48.79 L122.03 42.57 L124.23 35.79 L124.6 29.03 L124.97 47.47 L125.41 40.66 L127.61 33.5 L127.98 26.19 L128.35 46.27 L128.79 38.92 L130.99 31.42 L131.36 23.7 L131.73 45.02 L132.17 37.27 L134.36 29.77 L134.74 22.07 L135.11 43.41 L135.55 35.69 L137.74 28.33 L138.11 20.66 L138.49 42.03 L138.93 34.33 L141.12 27.12 L141.49 19.47 L141.86 40.87 L142.3 33.21 L144.5 26.15 L144.87 18.53 L145.24 39.95 L145.68 32.32 L147.88 25.42 L148.25 17.83 L148.62 39.28 L149.06 31.68 L151.26 24.95 L151.63 17.38 L152 38.86 L152.44 31.3 L154.64 24.73 L155.01 17.19 L155.38 38.7 L155.82 31.17 L158.01 24.76 L158.39 17.25 L158.76 38.79 L159.2 31.29 L161.39 25.05 L161.76 17.57 L162.14 39.13 L162.57 31.67 L164.77 25.6 L165.14 18.14 L165.51 39.73 L165.95 32.3 L168.15 26.39 L168.52 18.96 L168.89 40.58 L169.33 33.18 L171.53 27.42 L171.9 20.02 L172.27 41.67 L172.71 34.3 L174.91 28.69 L175.28 21.32 L175.65 42.99 L176.09 35.65 L178.28 30.19 L178.66 22.84 L179.03 44.53 L179.47 37.22 L181.66 31.95 L182.03 24.84 L182.41 45.94 L182.85 38.87 L185.04 34.09 L185.41 27.54 L185.78 47.11 L186.22 40.61 L188.42 36.44 L188.79 30.51 L189.16 48.39 L189.6 42.51 L191.8 38.98 L192.17 33.71 L192.54 49.77 L192.98 44.55 L195.18 41.7 L195.55 37.12 L195.92 51.25 L196.36 46.73 L198.56 44.56 L198.93 40.72 L199.3 52.8 L199.74 49.01 L201.93 47.55 L202.31 44.47 L202.68 54.41 L203.12 51.4 L205.31 50.65 L205.68 48.36 L206.06 56.08 L206.5 53.86 L208.69 53.83 L209.06 52.35 L209.43 57.8 L209.87 56.37 L212.07 57.07 L212.44 56.4 L212.81 59.54 L213.25 58.93 L215.45 60.35 L215.82 60.5 L216.19 61.29 L216.63 61.51 L218.83 63.63 L219.2 64.6 L219.57 63.05 L220.01 64.09 L222.2 66.9 L222.58 68.69 L222.95 64.8 L223.39 66.65 L225.58 70.13 L225.96 72.71 L226.33 66.52 L226.77 69.17 L228.96 73.29 L229.33 76.65 L229.71 68.21 L230.14 71.63 L232.34 76.36 L232.71 80.48 L233.08 69.84 L233.52 74.01 L235.72 79.32 L236.09 84.16 L236.46 71.41 L236.9 76.3 L239.1 82.15 L239.47 87.67 L239.84 72.91 L240.28 78.48 L242.48 84.82 L242.85 90.99 L243.22 74.31 L243.66 80.53 L245.85 87.31 L246.23 94.07 L246.6 75.63 L247.04 82.44 L249.23 89.6 L249.6 96.91 L249.98 76.83 L250.42 84.18 L252.61 91.68 L252.98 99.4 L253.35 78.08 L253.79 85.83 L255.99 93.33 L256.36 101.03 L256.73 79.69 L257.17 87.41 L259.37 94.77 L259.74 102.44 L260.11 81.07 L260.55 88.77 L262.75 95.98 L263.12 103.63 L263.49 82.23 L263.93 89.89 L266.13 96.95 L266.5 104.57 L266.87 83.15 L267.31 90.78 L269.5 97.68 L269.88 105.27 L270.25 83.82 L270.69 91.42 L272.88 98.15 L273.25 105.72 L273.63 84.24 L274.06 91.8 L276.26 98.37 L276.63 105.91 L277 84.4 L277.44 91.93 L279.64 98.34 L280.01 105.85 L280.38 84.31 L280.82 91.81 L283.02 98.05 L283.39 105.53 L283.76 83.97 L284.2 91.43 L286.4 97.5 L286.77 104.96 L287.14 83.37 L287.58 90.8 L289.77 96.71 L290.15 104.14 L290.52 82.52 L290.96 89.92 L293.15 95.68 L293.52 103.08 L293.9 81.43 L294.34 88.8 L296.53 94.41 L296.9 101.78 L297.27 80.11 L297.71 87.45 L299.91 92.91 L300.28 100.26 L300.65 78.57 L301.09 85.88 L303.29 91.15 L303.66 98.26 L304.03 77.16 L304.47 84.23 L306.67 89.01 L307.04 95.56 L307.41 75.99 L307.85 82.49 L310.05 86.66 L310.42 92.59 L310.79 74.71 L311.23 80.59 L313.42 84.12 L313.8 89.39 L314.17 73.33 L314.61 78.55 L316.8 81.4 L317.17 85.98 L317.55 71.85 L317.98 76.37 L320.18 78.54 L320.55 82.38 L320.92 70.3 L321.36 74.09 L323.56 75.55 L323.93 78.63 L324.3 68.69 L324.74 71.7 L326.94 72.45 L327.31 74.74 L327.68 67.02 L328.12 69.24 L330.32 69.27 L330.69 70.75 L331.06 65.3 L331.5 66.73 L333.69 66.03 L334.07 66.7 L334.44 63.56 L334.88 64.17 L337.07 62.75 L337.44 62.6 L337.82 61.81 L338.26 61.59 L340.45 59.47 L340.82 58.5 L341.19 60.05 L341.63 59.01 L343.83 56.2 L344.2 54.41 L344.57 58.3 L345.01 56.45 L347.21 52.97 L347.58 50.39 L347.95 56.58 L348.39 53.93 L350.59 49.81 L350.96 46.45 L351.33 54.89 L351.77 51.47 L353.97 46.74 L354.34 42.62 L354.71 53.26 L355.15 49.09 L357.34 43.78 L357.72 38.94 L358.09 51.69 L358.53 46.8 L360.72 40.95 L361.09 35.43 L361.47 50.19 L361.9 44.62 L364.1 38.28 L364.47 32.11 L364.84 48.79 L365.28 42.57 L367.48 35.79 L367.85 29.03 L368.22 47.47 L368.66 40.66 L370.86 33.5 L371.23 26.19 L371.6 46.27 L372.04 38.92 L374.24 31.42 L374.61 23.7 L374.98 45.02 L375.42 37.27 L377.61 29.77 L377.99 22.07 L378.36 43.41 L378.8 35.69 L380.99 28.33 L381.36 20.66 L381.74 42.03 L382.18 34.33 L384.37 27.12 L384.74 19.47 L385.11 40.87 L385.55 33.21 L387.75 26.15 L388.12 18.53 L388.49 39.95 L388.93 32.32 L391.13 25.42 L391.5 17.83 L391.87 39.28 L392.31 31.68 L394.51 24.95 L394.88 17.38 L395.25 38.86 L395.69 31.3 L397.89 24.73 L398.26 17.19 L398.63 38.7 L399.07 31.17 L401.26 24.76 L401.64 17.25 L402.01 38.79 L402.45 31.29 L404.64 25.05 L405.01 17.57 L405.39 39.13 L405.82 31.67 L408.02 25.6 L408.39 18.14 L408.76 39.73 L409.2 32.3 L411.4 26.39 L411.77 18.96 L412.14 40.58 L412.58 33.18 L414.78 27.42 L415.15 20.02 L415.52 41.67 L415.96 34.3 L418.16 28.69 L418.53 21.32 L418.9 42.99 L419.34 35.65 L421.53 30.19 L421.91 22.84 L422.28 44.53 L422.72 37.22 L424.91 31.95 L425.28 24.84 L425.66 45.94 L426.1 38.87 L428.29 34.09 L428.66 27.54 L429.03 47.11 L429.47 40.61 L431.67 36.44 L432.04 30.51 L432.41 48.39 L432.85 42.51 L435.05 38.98 L435.42 33.71 L435.79 49.77 L436.23 44.55 L438.43 41.7 L438.8 37.12 L439.17 51.25 L439.61 46.73 L441.81 44.56 L442.18 40.72 L442.55 52.8 L442.99 49.01 L445.18 47.55 L445.56 44.47 L445.93 54.41 L446.37 51.4 L448.56 50.65 L448.93 48.36 L449.31 56.08 L449.75 53.86 L451.94 53.83 L452.31 52.35 L452.68 57.8 L453.12 56.37 L455.32 57.07 L455.69 56.4 L456.06 59.54 L456.5 58.93 L458.7 60.35 L459.07 60.5 L459.44 61.29 L459.88 61.51 L462.08 63.63 L462.45 64.6 L462.82 63.05 L463.26 64.09 L465.45 66.9 L465.83 68.69 L466.2 64.8 L466.64 66.65 L468.83 70.13 L469.21 72.71 L469.58 66.52 L470.02 69.17 L472.21 73.29 L472.58 76.65 L472.96 68.21 L473.39 71.63 L475.59 76.36 L475.96 80.48 L476.33 69.84 L476.77 74.01 L478.97 79.32 L479.34 84.16 L479.71 71.41 L480.15 76.3 L482.35 82.15 L482.72 87.67 L483.09 72.91 L483.53 78.48 L485.73 84.82 L486.1 90.99 L486.47 74.31 L486.91 80.53 L489.1 87.31 L489.48 94.07 L489.85 75.63 L490.29 82.44 L492.48 89.6 L492.85 96.91 L493.23 76.83 L493.67 84.18 L495.86 91.68 L496.23 99.4 L496.6 78.08 L497.04 85.83 L499.24 93.33 L499.61 101.03 L499.98 79.69 L500.42 87.41 L502.62 94.77 L502.99 102.44 L503.36 81.07 L503.8 88.77 L506 95.98 L506.37 103.63 L506.74 82.23 L507.18 89.89 L509.38 96.95 L509.75 104.57 L510.12 83.15 L510.56 90.78 L512.75 97.68 L513.13 105.27 L513.5 83.82 L513.94 91.42 L516.13 98.15 L516.5 105.72 L516.88 84.24 L517.31 91.8 L519.51 98.37 L519.88 105.91 L520.25 84.4 L520.69 91.93 L522.89 98.34 L523.26 105.85 L523.63 84.31 L524.07 91.81 L526.27 98.05 L526.64 105.53 L527.01 83.97 L527.45 91.43 L529.65 97.5 L530.02 104.96 L530.39 83.37 L530.83 90.8 L533.02 96.71 L533.4 104.14 L533.77 82.52 L534.21 89.92" stroke="#FF4D18" stroke-width="1.05" stroke-linejoin="bevel"/>
<path d="M45.8 93.68 L47.32 93.26 L48.84 92.8 L50.36 92.29 L51.88 91.73 L53.4 91.13 L54.92 90.48 L56.44 89.79 L57.96 89.05 L59.48 88.27 L61 87.45 L62.52 86.59 L64.04 85.69 L65.56 84.75 L67.08 83.78 L68.6 82.77 L70.12 81.73 L71.65 80.66 L73.17 79.56 L74.69 78.43 L76.21 77.28 L77.73 76.1 L79.25 74.9 L80.77 73.68 L82.29 72.44 L83.81 71.18 L85.33 69.91 L86.85 68.62 L88.37 67.33 L89.89 66.02 L91.41 64.71 L92.93 63.4 L94.45 62.08 L95.97 60.76 L97.49 59.44 L99.01 58.12 L100.53 56.81 L102.05 55.51 L103.57 54.22 L105.09 52.94 L106.61 51.67 L108.13 50.41 L109.65 49.18 L111.17 47.96 L112.69 46.76 L114.21 45.59 L115.73 44.44 L117.25 43.32 L118.77 42.22 L120.3 41.16 L121.82 40.13 L123.34 39.12 L124.86 38.16 L126.38 37.23 L127.9 36.34 L129.42 35.48 L130.94 34.67 L132.46 33.9 L133.98 33.17 L135.5 32.49 L137.02 31.85 L138.54 31.25 L140.06 30.7 L141.58 30.2 L143.1 29.75 L144.62 29.35 L146.14 28.99 L147.66 28.69 L149.18 28.44 L150.7 28.24 L152.22 28.09 L153.74 27.99 L155.26 27.94 L156.78 27.95 L158.3 28 L159.82 28.11 L161.34 28.27 L162.86 28.49 L164.38 28.75 L165.9 29.06 L167.42 29.42 L168.95 29.84 L170.47 30.3 L171.99 30.81 L173.51 31.37 L175.03 31.97 L176.55 32.62 L178.07 33.31 L179.59 34.05 L181.11 34.83 L182.63 35.65 L184.15 36.51 L185.67 37.41 L187.19 38.35 L188.71 39.32 L190.23 40.33 L191.75 41.37 L193.27 42.44 L194.79 43.54 L196.31 44.67 L197.83 45.82 L199.35 47 L200.87 48.2 L202.39 49.42 L203.91 50.66 L205.43 51.92 L206.95 53.19 L208.47 54.48 L209.99 55.77 L211.51 57.08 L213.03 58.39 L214.55 59.7 L216.07 61.02 L217.6 62.34 L219.12 63.66 L220.64 64.98 L222.16 66.29 L223.68 67.59 L225.2 68.88 L226.72 70.16 L228.24 71.43 L229.76 72.69 L231.28 73.92 L232.8 75.14 L234.32 76.34 L235.84 77.51 L237.36 78.66 L238.88 79.78 L240.4 80.88 L241.92 81.94 L243.44 82.97 L244.96 83.98 L246.48 84.94 L248 85.87 L249.52 86.76 L251.04 87.62 L252.56 88.43 L254.08 89.2 L255.6 89.93 L257.12 90.61 L258.64 91.25 L260.16 91.85 L261.68 92.4 L263.2 92.9 L264.72 93.35 L266.25 93.75 L267.77 94.11 L269.29 94.41 L270.81 94.66 L272.33 94.86 L273.85 95.01 L275.37 95.11 L276.89 95.16 L278.41 95.15 L279.93 95.1 L281.45 94.99 L282.97 94.83 L284.49 94.61 L286.01 94.35 L287.53 94.04 L289.05 93.68 L290.57 93.26 L292.09 92.8 L293.61 92.29 L295.13 91.73 L296.65 91.13 L298.17 90.48 L299.69 89.79 L301.21 89.05 L302.73 88.27 L304.25 87.45 L305.77 86.59 L307.29 85.69 L308.81 84.75 L310.33 83.78 L311.85 82.77 L313.38 81.73 L314.9 80.66 L316.42 79.56 L317.94 78.43 L319.46 77.28 L320.98 76.1 L322.5 74.9 L324.02 73.68 L325.54 72.44 L327.06 71.18 L328.58 69.91 L330.1 68.62 L331.62 67.33 L333.14 66.02 L334.66 64.71 L336.18 63.4 L337.7 62.08 L339.22 60.76 L340.74 59.44 L342.26 58.12 L343.78 56.81 L345.3 55.51 L346.82 54.22 L348.34 52.94 L349.86 51.67 L351.38 50.41 L352.9 49.18 L354.42 47.96 L355.94 46.76 L357.46 45.59 L358.98 44.44 L360.5 43.32 L362.02 42.22 L363.55 41.16 L365.07 40.13 L366.59 39.12 L368.11 38.16 L369.63 37.23 L371.15 36.34 L372.67 35.48 L374.19 34.67 L375.71 33.9 L377.23 33.17 L378.75 32.49 L380.27 31.85 L381.79 31.25 L383.31 30.7 L384.83 30.2 L386.35 29.75 L387.87 29.35 L389.39 28.99 L390.91 28.69 L392.43 28.44 L393.95 28.24 L395.47 28.09 L396.99 27.99 L398.51 27.94 L400.03 27.95 L401.55 28 L403.07 28.11 L404.59 28.27 L406.11 28.49 L407.63 28.75 L409.15 29.06 L410.67 29.42 L412.2 29.84 L413.72 30.3 L415.24 30.81 L416.76 31.37 L418.28 31.97 L419.8 32.62 L421.32 33.31 L422.84 34.05 L424.36 34.83 L425.88 35.65 L427.4 36.51 L428.92 37.41 L430.44 38.35 L431.96 39.32 L433.48 40.33 L435 41.37 L436.52 42.44 L438.04 43.54 L439.56 44.67 L441.08 45.82 L442.6 47 L444.12 48.2 L445.64 49.42 L447.16 50.66 L448.68 51.92 L450.2 53.19 L451.72 54.48 L453.24 55.77 L454.76 57.08 L456.28 58.39 L457.8 59.7 L459.32 61.02 L460.85 62.34 L462.37 63.66 L463.89 64.98 L465.41 66.29 L466.93 67.59 L468.45 68.88 L469.97 70.16 L471.49 71.43 L473.01 72.69 L474.53 73.92 L476.05 75.14 L477.57 76.34 L479.09 77.51 L480.61 78.66 L482.13 79.78 L483.65 80.88 L485.17 81.94 L486.69 82.97 L488.21 83.98 L489.73 84.94 L491.25 85.87 L492.77 86.76 L494.29 87.62 L495.81 88.43 L497.33 89.2 L498.85 89.93 L500.37 90.61 L501.89 91.25 L503.41 91.85 L504.93 92.4 L506.45 92.9 L507.97 93.35 L509.5 93.75 L511.02 94.11 L512.54 94.41 L514.06 94.66 L515.58 94.86 L517.1 95.01 L518.62 95.11 L520.14 95.16 L521.66 95.15 L523.18 95.1 L524.7 94.99 L526.22 94.83 L527.74 94.61 L529.26 94.35 L530.78 94.04 L532.3 93.68" stroke="#7a4a40" stroke-opacity="0.7" stroke-width="0.6"/>
<path d="M45.8 33.46 L47.32 32.46 L48.84 31.5 L50.36 30.68 L51.88 30.07 L53.4 29.5 L54.92 28.96 L56.44 28.46 L57.96 28 L59.48 27.57 L61 27.18 L62.52 26.84 L64.04 26.53 L65.56 26.26 L67.08 26.03 L68.6 25.84 L70.12 25.69 L71.65 25.59 L73.17 25.52 L74.69 25.5 L76.21 25.52 L77.73 25.57 L79.25 25.68 L80.77 25.82 L82.29 26 L83.81 26.22 L85.33 26.49 L86.85 26.79 L88.37 27.14 L89.89 27.52 L91.41 27.94 L92.93 28.4 L94.45 28.89 L95.97 29.43 L97.49 29.99 L99.01 30.59 L100.53 31.38 L102.05 32.33 L103.57 33.33 L105.09 34.37 L106.61 35.45 L108.13 36.57 L109.65 37.74 L111.17 38.93 L112.69 40.17 L114.21 41.43 L115.73 42.73 L117.25 44.05 L118.77 45.41 L120.3 46.79 L121.82 48.19 L123.34 49.61 L124.86 51.05 L126.38 52.5 L127.9 53.97 L129.42 55.45 L130.94 56.94 L132.46 58.44 L133.98 59.94 L135.5 61.45 L137.02 62.95 L138.54 64.46 L140.06 65.96 L141.58 67.45 L143.1 68.93 L144.62 70.4 L146.14 71.86 L147.66 73.3 L149.18 74.73 L150.7 76.13 L152.22 77.51 L153.74 78.87 L155.26 80.2 L156.78 81.5 L158.3 82.77 L159.82 84 L161.34 85.21 L162.86 86.37 L164.38 87.5 L165.9 88.59 L167.42 89.64 L168.95 90.64 L170.47 91.6 L171.99 92.42 L173.51 93.03 L175.03 93.6 L176.55 94.14 L178.07 94.64 L179.59 95.1 L181.11 95.53 L182.63 95.92 L184.15 96.26 L185.67 96.57 L187.19 96.84 L188.71 97.07 L190.23 97.26 L191.75 97.41 L193.27 97.51 L194.79 97.58 L196.31 97.6 L197.83 97.58 L199.35 97.53 L200.87 97.42 L202.39 97.28 L203.91 97.1 L205.43 96.88 L206.95 96.61 L208.47 96.31 L209.99 95.96 L211.51 95.58 L213.03 95.16 L214.55 94.7 L216.07 94.21 L217.6 93.67 L219.12 93.11 L220.64 92.51 L222.16 91.72 L223.68 90.77 L225.2 89.77 L226.72 88.73 L228.24 87.65 L229.76 86.53 L231.28 85.36 L232.8 84.17 L234.32 82.93 L235.84 81.67 L237.36 80.37 L238.88 79.05 L240.4 77.69 L241.92 76.31 L243.44 74.91 L244.96 73.49 L246.48 72.05 L248 70.6 L249.52 69.13 L251.04 67.65 L252.56 66.16 L254.08 64.66 L255.6 63.16 L257.12 61.65 L258.64 60.15 L260.16 58.64 L261.68 57.14 L263.2 55.65 L264.72 54.17 L266.25 52.7 L267.77 51.24 L269.29 49.8 L270.81 48.37 L272.33 46.97 L273.85 45.59 L275.37 44.23 L276.89 42.9 L278.41 41.6 L279.93 40.33 L281.45 39.1 L282.97 37.89 L284.49 36.73 L286.01 35.6 L287.53 34.51 L289.05 33.46 L290.57 32.46 L292.09 31.5 L293.61 30.68 L295.13 30.07 L296.65 29.5 L298.17 28.96 L299.69 28.46 L301.21 28 L302.73 27.57 L304.25 27.18 L305.77 26.84 L307.29 26.53 L308.81 26.26 L310.33 26.03 L311.85 25.84 L313.38 25.69 L314.9 25.59 L316.42 25.52 L317.94 25.5 L319.46 25.52 L320.98 25.57 L322.5 25.68 L324.02 25.82 L325.54 26 L327.06 26.22 L328.58 26.49 L330.1 26.79 L331.62 27.14 L333.14 27.52 L334.66 27.94 L336.18 28.4 L337.7 28.89 L339.22 29.43 L340.74 29.99 L342.26 30.59 L343.78 31.38 L345.3 32.33 L346.82 33.33 L348.34 34.37 L349.86 35.45 L351.38 36.57 L352.9 37.74 L354.42 38.93 L355.94 40.17 L357.46 41.43 L358.98 42.73 L360.5 44.05 L362.02 45.41 L363.55 46.79 L365.07 48.19 L366.59 49.61 L368.11 51.05 L369.63 52.5 L371.15 53.97 L372.67 55.45 L374.19 56.94 L375.71 58.44 L377.23 59.94 L378.75 61.45 L380.27 62.95 L381.79 64.46 L383.31 65.96 L384.83 67.45 L386.35 68.93 L387.87 70.4 L389.39 71.86 L390.91 73.3 L392.43 74.73 L393.95 76.13 L395.47 77.51 L396.99 78.87 L398.51 80.2 L400.03 81.5 L401.55 82.77 L403.07 84 L404.59 85.21 L406.11 86.37 L407.63 87.5 L409.15 88.59 L410.67 89.64 L412.2 90.64 L413.72 91.6 L415.24 92.42 L416.76 93.03 L418.28 93.6 L419.8 94.14 L421.32 94.64 L422.84 95.1 L424.36 95.53 L425.88 95.92 L427.4 96.26 L428.92 96.57 L430.44 96.84 L431.96 97.07 L433.48 97.26 L435 97.41 L436.52 97.51 L438.04 97.58 L439.56 97.6 L441.08 97.58 L442.6 97.53 L444.12 97.42 L445.64 97.28 L447.16 97.1 L448.68 96.88 L450.2 96.61 L451.72 96.31 L453.24 95.96 L454.76 95.58 L456.28 95.16 L457.8 94.7 L459.32 94.21 L460.85 93.67 L462.37 93.11 L463.89 92.51 L465.41 91.72 L466.93 90.77 L468.45 89.77 L469.97 88.73 L471.49 87.65 L473.01 86.53 L474.53 85.36 L476.05 84.17 L477.57 82.93 L479.09 81.67 L480.61 80.37 L482.13 79.05 L483.65 77.69 L485.17 76.31 L486.69 74.91 L488.21 73.49 L489.73 72.05 L491.25 70.6 L492.77 69.13 L494.29 67.65 L495.81 66.16 L497.33 64.66 L498.85 63.16 L500.37 61.65 L501.89 60.15 L503.41 58.64 L504.93 57.14 L506.45 55.65 L507.97 54.17 L509.5 52.7 L511.02 51.24 L512.54 49.8 L514.06 48.37 L515.58 46.97 L517.1 45.59 L518.62 44.23 L520.14 42.9 L521.66 41.6 L523.18 40.33 L524.7 39.1 L526.22 37.89 L527.74 36.73 L529.26 35.6 L530.78 34.51 L532.3 33.46" stroke="#3a3a3a" stroke-width="0.85"/>
<path d="M45.8 50.22 L47.32 49.81 L48.84 49.43 L50.36 48.97 L51.88 48.37 L53.4 47.79 L54.92 47.26 L56.44 46.76 L57.96 46.29 L59.48 45.87 L61 45.48 L62.52 45.13 L64.04 44.82 L65.56 44.55 L67.08 44.32 L68.6 44.13 L70.12 43.99 L71.65 43.88 L73.17 43.82 L74.69 43.79 L76.21 43.81 L77.73 43.87 L79.25 43.97 L80.77 44.11 L82.29 44.3 L83.81 44.52 L85.33 44.78 L86.85 45.09 L88.37 45.43 L89.89 45.81 L91.41 46.23 L92.93 46.69 L94.45 47.19 L95.97 47.72 L97.49 48.29 L99.01 48.89 L100.53 49.38 L102.05 49.76 L103.57 50.16 L105.09 50.58 L106.61 51.02 L108.13 51.47 L109.65 51.94 L111.17 52.42 L112.69 52.92 L114.21 53.43 L115.73 53.96 L117.25 54.49 L118.77 55.04 L120.3 55.59 L121.82 56.16 L123.34 56.73 L124.86 57.31 L126.38 57.9 L127.9 58.49 L129.42 59.09 L130.94 59.69 L132.46 60.3 L133.98 60.9 L135.5 61.51 L137.02 62.12 L138.54 62.72 L140.06 63.33 L141.58 63.93 L143.1 64.53 L144.62 65.12 L146.14 65.71 L147.66 66.29 L149.18 66.87 L150.7 67.43 L152.22 67.99 L153.74 68.54 L155.26 69.07 L156.78 69.6 L158.3 70.11 L159.82 70.61 L161.34 71.1 L162.86 71.57 L164.38 72.02 L165.9 72.46 L167.42 72.88 L168.95 73.29 L170.47 73.67 L171.99 74.13 L173.51 74.73 L175.03 75.31 L176.55 75.84 L178.07 76.34 L179.59 76.81 L181.11 77.23 L182.63 77.62 L184.15 77.97 L185.67 78.28 L187.19 78.55 L188.71 78.78 L190.23 78.97 L191.75 79.11 L193.27 79.22 L194.79 79.28 L196.31 79.31 L197.83 79.29 L199.35 79.23 L200.87 79.13 L202.39 78.99 L203.91 78.8 L205.43 78.58 L206.95 78.32 L208.47 78.01 L209.99 77.67 L211.51 77.29 L213.03 76.87 L214.55 76.41 L216.07 75.91 L217.6 75.38 L219.12 74.81 L220.64 74.21 L222.16 73.72 L223.68 73.34 L225.2 72.94 L226.72 72.52 L228.24 72.08 L229.76 71.63 L231.28 71.16 L232.8 70.68 L234.32 70.18 L235.84 69.67 L237.36 69.14 L238.88 68.61 L240.4 68.06 L241.92 67.51 L243.44 66.94 L244.96 66.37 L246.48 65.79 L248 65.2 L249.52 64.61 L251.04 64.01 L252.56 63.41 L254.08 62.8 L255.6 62.2 L257.12 61.59 L258.64 60.98 L260.16 60.38 L261.68 59.77 L263.2 59.17 L264.72 58.57 L266.25 57.98 L267.77 57.39 L269.29 56.81 L270.81 56.23 L272.33 55.67 L273.85 55.11 L275.37 54.56 L276.89 54.03 L278.41 53.5 L279.93 52.99 L281.45 52.49 L282.97 52 L284.49 51.53 L286.01 51.08 L287.53 50.64 L289.05 50.22 L290.57 49.81 L292.09 49.43 L293.61 48.97 L295.13 48.37 L296.65 47.79 L298.17 47.26 L299.69 46.76 L301.21 46.29 L302.73 45.87 L304.25 45.48 L305.77 45.13 L307.29 44.82 L308.81 44.55 L310.33 44.32 L311.85 44.13 L313.38 43.99 L314.9 43.88 L316.42 43.82 L317.94 43.79 L319.46 43.81 L320.98 43.87 L322.5 43.97 L324.02 44.11 L325.54 44.3 L327.06 44.52 L328.58 44.78 L330.1 45.09 L331.62 45.43 L333.14 45.81 L334.66 46.23 L336.18 46.69 L337.7 47.19 L339.22 47.72 L340.74 48.29 L342.26 48.89 L343.78 49.38 L345.3 49.76 L346.82 50.16 L348.34 50.58 L349.86 51.02 L351.38 51.47 L352.9 51.94 L354.42 52.42 L355.94 52.92 L357.46 53.43 L358.98 53.96 L360.5 54.49 L362.02 55.04 L363.55 55.59 L365.07 56.16 L366.59 56.73 L368.11 57.31 L369.63 57.9 L371.15 58.49 L372.67 59.09 L374.19 59.69 L375.71 60.3 L377.23 60.9 L378.75 61.51 L380.27 62.12 L381.79 62.72 L383.31 63.33 L384.83 63.93 L386.35 64.53 L387.87 65.12 L389.39 65.71 L390.91 66.29 L392.43 66.87 L393.95 67.43 L395.47 67.99 L396.99 68.54 L398.51 69.07 L400.03 69.6 L401.55 70.11 L403.07 70.61 L404.59 71.1 L406.11 71.57 L407.63 72.02 L409.15 72.46 L410.67 72.88 L412.2 73.29 L413.72 73.67 L415.24 74.13 L416.76 74.73 L418.28 75.31 L419.8 75.84 L421.32 76.34 L422.84 76.81 L424.36 77.23 L425.88 77.62 L427.4 77.97 L428.92 78.28 L430.44 78.55 L431.96 78.78 L433.48 78.97 L435 79.11 L436.52 79.22 L438.04 79.28 L439.56 79.31 L441.08 79.29 L442.6 79.23 L444.12 79.13 L445.64 78.99 L447.16 78.8 L448.68 78.58 L450.2 78.32 L451.72 78.01 L453.24 77.67 L454.76 77.29 L456.28 76.87 L457.8 76.41 L459.32 75.91 L460.85 75.38 L462.37 74.81 L463.89 74.21 L465.41 73.72 L466.93 73.34 L468.45 72.94 L469.97 72.52 L471.49 72.08 L473.01 71.63 L474.53 71.16 L476.05 70.68 L477.57 70.18 L479.09 69.67 L480.61 69.14 L482.13 68.61 L483.65 68.06 L485.17 67.51 L486.69 66.94 L488.21 66.37 L489.73 65.79 L491.25 65.2 L492.77 64.61 L494.29 64.01 L495.81 63.41 L497.33 62.8 L498.85 62.2 L500.37 61.59 L501.89 60.98 L503.41 60.38 L504.93 59.77 L506.45 59.17 L507.97 58.57 L509.5 57.98 L511.02 57.39 L512.54 56.81 L514.06 56.23 L515.58 55.67 L517.1 55.11 L518.62 54.56 L520.14 54.03 L521.66 53.5 L523.18 52.99 L524.7 52.49 L526.22 52 L527.74 51.53 L529.26 51.08 L530.78 50.64 L532.3 50.22" stroke="#3a3a3a" stroke-width="0.85"/>
<path d="M45.8 56.86 L47.32 57.96 L48.84 59.08 L50.36 60.19 L51.88 61.31 L53.4 62.43 L54.92 63.55 L56.44 64.66 L57.96 65.77 L59.48 66.88 L61 67.97 L62.52 69.06 L64.04 70.13 L65.56 71.19 L67.08 72.24 L68.6 73.27 L70.12 74.28 L71.65 75.27 L73.17 76.24 L74.69 77.19 L76.21 78.11 L77.73 79.01 L79.25 79.88 L80.77 80.72 L82.29 81.53 L83.81 82.32 L85.33 83.07 L86.85 83.78 L88.37 84.43 L89.89 84.89 L91.41 85.32 L92.93 85.73 L94.45 86.11 L95.97 86.46 L97.49 86.78 L99.01 87.07 L100.53 87.34 L102.05 87.57 L103.57 87.78 L105.09 87.95 L106.61 88.1 L108.13 88.22 L109.65 88.3 L111.17 88.35 L112.69 88.37 L114.21 88.37 L115.73 88.33 L117.25 88.25 L118.77 88.15 L120.3 88.02 L121.82 87.86 L123.34 87.66 L124.86 87.44 L126.38 87.19 L127.9 86.91 L129.42 86.6 L130.94 86.26 L132.46 85.89 L133.98 85.5 L135.5 85.08 L137.02 84.63 L138.54 84.08 L140.06 83.38 L141.58 82.64 L143.1 81.87 L144.62 81.07 L146.14 80.24 L147.66 79.38 L149.18 78.5 L150.7 77.58 L152.22 76.65 L153.74 75.68 L155.26 74.7 L156.78 73.7 L158.3 72.68 L159.82 71.64 L161.34 70.58 L162.86 69.52 L164.38 68.44 L165.9 67.34 L167.42 66.24 L168.95 65.14 L170.47 64.02 L171.99 62.91 L173.51 61.79 L175.03 60.67 L176.55 59.55 L178.07 58.44 L179.59 57.33 L181.11 56.22 L182.63 55.13 L184.15 54.04 L185.67 52.97 L187.19 51.91 L188.71 50.86 L190.23 49.83 L191.75 48.82 L193.27 47.83 L194.79 46.86 L196.31 45.91 L197.83 44.99 L199.35 44.09 L200.87 43.22 L202.39 42.38 L203.91 41.57 L205.43 40.78 L206.95 40.03 L208.47 39.32 L209.99 38.67 L211.51 38.21 L213.03 37.78 L214.55 37.37 L216.07 36.99 L217.6 36.64 L219.12 36.32 L220.64 36.03 L222.16 35.76 L223.68 35.53 L225.2 35.32 L226.72 35.15 L228.24 35 L229.76 34.88 L231.28 34.8 L232.8 34.75 L234.32 34.73 L235.84 34.73 L237.36 34.77 L238.88 34.85 L240.4 34.95 L241.92 35.08 L243.44 35.24 L244.96 35.44 L246.48 35.66 L248 35.91 L249.52 36.19 L251.04 36.5 L252.56 36.84 L254.08 37.21 L255.6 37.6 L257.12 38.02 L258.64 38.47 L260.16 39.02 L261.68 39.72 L263.2 40.46 L264.72 41.23 L266.25 42.03 L267.77 42.86 L269.29 43.72 L270.81 44.6 L272.33 45.52 L273.85 46.45 L275.37 47.42 L276.89 48.4 L278.41 49.4 L279.93 50.42 L281.45 51.46 L282.97 52.52 L284.49 53.58 L286.01 54.66 L287.53 55.76 L289.05 56.86 L290.57 57.96 L292.09 59.08 L293.61 60.19 L295.13 61.31 L296.65 62.43 L298.17 63.55 L299.69 64.66 L301.21 65.77 L302.73 66.88 L304.25 67.97 L305.77 69.06 L307.29 70.13 L308.81 71.19 L310.33 72.24 L311.85 73.27 L313.38 74.28 L314.9 75.27 L316.42 76.24 L317.94 77.19 L319.46 78.11 L320.98 79.01 L322.5 79.88 L324.02 80.72 L325.54 81.53 L327.06 82.32 L328.58 83.07 L330.1 83.78 L331.62 84.43 L333.14 84.89 L334.66 85.32 L336.18 85.73 L337.7 86.11 L339.22 86.46 L340.74 86.78 L342.26 87.07 L343.78 87.34 L345.3 87.57 L346.82 87.78 L348.34 87.95 L349.86 88.1 L351.38 88.22 L352.9 88.3 L354.42 88.35 L355.94 88.37 L357.46 88.37 L358.98 88.33 L360.5 88.25 L362.02 88.15 L363.55 88.02 L365.07 87.86 L366.59 87.66 L368.11 87.44 L369.63 87.19 L371.15 86.91 L372.67 86.6 L374.19 86.26 L375.71 85.89 L377.23 85.5 L378.75 85.08 L380.27 84.63 L381.79 84.08 L383.31 83.38 L384.83 82.64 L386.35 81.87 L387.87 81.07 L389.39 80.24 L390.91 79.38 L392.43 78.5 L393.95 77.58 L395.47 76.65 L396.99 75.68 L398.51 74.7 L400.03 73.7 L401.55 72.68 L403.07 71.64 L404.59 70.58 L406.11 69.52 L407.63 68.44 L409.15 67.34 L410.67 66.24 L412.2 65.14 L413.72 64.02 L415.24 62.91 L416.76 61.79 L418.28 60.67 L419.8 59.55 L421.32 58.44 L422.84 57.33 L424.36 56.22 L425.88 55.13 L427.4 54.04 L428.92 52.97 L430.44 51.91 L431.96 50.86 L433.48 49.83 L435 48.82 L436.52 47.83 L438.04 46.86 L439.56 45.91 L441.08 44.99 L442.6 44.09 L444.12 43.22 L445.64 42.38 L447.16 41.57 L448.68 40.78 L450.2 40.03 L451.72 39.32 L453.24 38.67 L454.76 38.21 L456.28 37.78 L457.8 37.37 L459.32 36.99 L460.85 36.64 L462.37 36.32 L463.89 36.03 L465.41 35.76 L466.93 35.53 L468.45 35.32 L469.97 35.15 L471.49 35 L473.01 34.88 L474.53 34.8 L476.05 34.75 L477.57 34.73 L479.09 34.73 L480.61 34.77 L482.13 34.85 L483.65 34.95 L485.17 35.08 L486.69 35.24 L488.21 35.44 L489.73 35.66 L491.25 35.91 L492.77 36.19 L494.29 36.5 L495.81 36.84 L497.33 37.21 L498.85 37.6 L500.37 38.02 L501.89 38.47 L503.41 39.02 L504.93 39.72 L506.45 40.46 L507.97 41.23 L509.5 42.03 L511.02 42.86 L512.54 43.72 L514.06 44.6 L515.58 45.52 L517.1 46.45 L518.62 47.42 L520.14 48.4 L521.66 49.4 L523.18 50.42 L524.7 51.46 L526.22 52.52 L527.74 53.58 L529.26 54.66 L530.78 55.76 L532.3 56.86" stroke="#3a3a3a" stroke-width="0.85"/>
<path d="M45.8 59.62 L47.32 60.07 L48.84 60.53 L50.36 60.99 L51.88 61.45 L53.4 61.91 L54.92 62.37 L56.44 62.83 L57.96 63.29 L59.48 63.74 L61 64.19 L62.52 64.64 L64.04 65.08 L65.56 65.52 L67.08 65.95 L68.6 66.37 L70.12 66.79 L71.65 67.2 L73.17 67.6 L74.69 67.99 L76.21 68.37 L77.73 68.74 L79.25 69.1 L80.77 69.44 L82.29 69.78 L83.81 70.1 L85.33 70.41 L86.85 70.71 L88.37 71.02 L89.89 71.48 L91.41 71.91 L92.93 72.31 L94.45 72.69 L95.97 73.04 L97.49 73.37 L99.01 73.66 L100.53 73.93 L102.05 74.16 L103.57 74.37 L105.09 74.54 L106.61 74.69 L108.13 74.8 L109.65 74.89 L111.17 74.94 L112.69 74.96 L114.21 74.95 L115.73 74.91 L117.25 74.84 L118.77 74.74 L120.3 74.61 L121.82 74.45 L123.34 74.25 L124.86 74.03 L126.38 73.78 L127.9 73.49 L129.42 73.18 L130.94 72.85 L132.46 72.48 L133.98 72.09 L135.5 71.66 L137.02 71.22 L138.54 70.83 L140.06 70.54 L141.58 70.23 L143.1 69.92 L144.62 69.59 L146.14 69.25 L147.66 68.89 L149.18 68.53 L150.7 68.15 L152.22 67.77 L153.74 67.37 L155.26 66.97 L156.78 66.55 L158.3 66.13 L159.82 65.7 L161.34 65.27 L162.86 64.83 L164.38 64.39 L165.9 63.94 L167.42 63.48 L168.95 63.03 L170.47 62.57 L171.99 62.11 L173.51 61.65 L175.03 61.19 L176.55 60.73 L178.07 60.27 L179.59 59.81 L181.11 59.36 L182.63 58.91 L184.15 58.46 L185.67 58.02 L187.19 57.58 L188.71 57.15 L190.23 56.73 L191.75 56.31 L193.27 55.9 L194.79 55.5 L196.31 55.11 L197.83 54.73 L199.35 54.36 L200.87 54 L202.39 53.66 L203.91 53.32 L205.43 53 L206.95 52.69 L208.47 52.39 L209.99 52.08 L211.51 51.62 L213.03 51.19 L214.55 50.79 L216.07 50.41 L217.6 50.06 L219.12 49.73 L220.64 49.44 L222.16 49.17 L223.68 48.94 L225.2 48.73 L226.72 48.56 L228.24 48.41 L229.76 48.3 L231.28 48.21 L232.8 48.16 L234.32 48.14 L235.84 48.15 L237.36 48.19 L238.88 48.26 L240.4 48.36 L241.92 48.49 L243.44 48.65 L244.96 48.85 L246.48 49.07 L248 49.32 L249.52 49.61 L251.04 49.92 L252.56 50.25 L254.08 50.62 L255.6 51.01 L257.12 51.44 L258.64 51.88 L260.16 52.27 L261.68 52.56 L263.2 52.87 L264.72 53.18 L266.25 53.51 L267.77 53.85 L269.29 54.21 L270.81 54.57 L272.33 54.95 L273.85 55.33 L275.37 55.73 L276.89 56.13 L278.41 56.55 L279.93 56.97 L281.45 57.4 L282.97 57.83 L284.49 58.27 L286.01 58.71 L287.53 59.16 L289.05 59.62 L290.57 60.07 L292.09 60.53 L293.61 60.99 L295.13 61.45 L296.65 61.91 L298.17 62.37 L299.69 62.83 L301.21 63.29 L302.73 63.74 L304.25 64.19 L305.77 64.64 L307.29 65.08 L308.81 65.52 L310.33 65.95 L311.85 66.37 L313.38 66.79 L314.9 67.2 L316.42 67.6 L317.94 67.99 L319.46 68.37 L320.98 68.74 L322.5 69.1 L324.02 69.44 L325.54 69.78 L327.06 70.1 L328.58 70.41 L330.1 70.71 L331.62 71.02 L333.14 71.48 L334.66 71.91 L336.18 72.31 L337.7 72.69 L339.22 73.04 L340.74 73.37 L342.26 73.66 L343.78 73.93 L345.3 74.16 L346.82 74.37 L348.34 74.54 L349.86 74.69 L351.38 74.8 L352.9 74.89 L354.42 74.94 L355.94 74.96 L357.46 74.95 L358.98 74.91 L360.5 74.84 L362.02 74.74 L363.55 74.61 L365.07 74.45 L366.59 74.25 L368.11 74.03 L369.63 73.78 L371.15 73.49 L372.67 73.18 L374.19 72.85 L375.71 72.48 L377.23 72.09 L378.75 71.66 L380.27 71.22 L381.79 70.83 L383.31 70.54 L384.83 70.23 L386.35 69.92 L387.87 69.59 L389.39 69.25 L390.91 68.89 L392.43 68.53 L393.95 68.15 L395.47 67.77 L396.99 67.37 L398.51 66.97 L400.03 66.55 L401.55 66.13 L403.07 65.7 L404.59 65.27 L406.11 64.83 L407.63 64.39 L409.15 63.94 L410.67 63.48 L412.2 63.03 L413.72 62.57 L415.24 62.11 L416.76 61.65 L418.28 61.19 L419.8 60.73 L421.32 60.27 L422.84 59.81 L424.36 59.36 L425.88 58.91 L427.4 58.46 L428.92 58.02 L430.44 57.58 L431.96 57.15 L433.48 56.73 L435 56.31 L436.52 55.9 L438.04 55.5 L439.56 55.11 L441.08 54.73 L442.6 54.36 L444.12 54 L445.64 53.66 L447.16 53.32 L448.68 53 L450.2 52.69 L451.72 52.39 L453.24 52.08 L454.76 51.62 L456.28 51.19 L457.8 50.79 L459.32 50.41 L460.85 50.06 L462.37 49.73 L463.89 49.44 L465.41 49.17 L466.93 48.94 L468.45 48.73 L469.97 48.56 L471.49 48.41 L473.01 48.3 L474.53 48.21 L476.05 48.16 L477.57 48.14 L479.09 48.15 L480.61 48.19 L482.13 48.26 L483.65 48.36 L485.17 48.49 L486.69 48.65 L488.21 48.85 L489.73 49.07 L491.25 49.32 L492.77 49.61 L494.29 49.92 L495.81 50.25 L497.33 50.62 L498.85 51.01 L500.37 51.44 L501.89 51.88 L503.41 52.27 L504.93 52.56 L506.45 52.87 L507.97 53.18 L509.5 53.51 L511.02 53.85 L512.54 54.21 L514.06 54.57 L515.58 54.95 L517.1 55.33 L518.62 55.73 L520.14 56.13 L521.66 56.55 L523.18 56.97 L524.7 57.4 L526.22 57.83 L527.74 58.27 L529.26 58.71 L530.78 59.16 L532.3 59.62" stroke="#3a3a3a" stroke-width="0.85"/>
<path d="M45.8 104.43 L47.32 104.02 L48.84 103.56 L50.36 103.05 L51.88 102.49 L53.4 101.89 L54.92 101.24 L56.44 100.54 L57.96 99.81 L59.48 98.96 L61 97.81 L62.52 96.6 L64.04 95.34 L65.56 94.03 L67.08 92.67 L68.6 91.26 L70.12 89.8 L71.65 88.31 L73.17 86.76 L74.69 85.19 L76.21 83.57 L77.73 81.92 L79.25 80.24 L80.77 78.53 L82.29 76.79 L83.81 75.03 L85.33 73.25 L86.85 71.45 L88.37 69.64 L89.89 67.81 L91.41 65.98 L92.93 64.14 L94.45 62.29 L95.97 60.44 L97.49 58.6 L99.01 56.75 L100.53 54.92 L102.05 53.1 L103.57 51.28 L105.09 49.49 L106.61 47.71 L108.13 45.96 L109.65 44.23 L111.17 42.52 L112.69 40.85 L114.21 39.2 L115.73 37.6 L117.25 36.02 L118.77 34.49 L120.3 33 L121.82 31.55 L123.34 30.15 L124.86 28.8 L126.38 27.5 L127.9 26.25 L129.42 25.06 L130.94 23.92 L132.46 23.14 L133.98 22.41 L135.5 21.73 L137.02 21.09 L138.54 20.49 L140.06 19.95 L141.58 19.45 L143.1 18.99 L144.62 18.59 L146.14 18.24 L147.66 17.93 L149.18 17.68 L150.7 17.48 L152.22 17.33 L153.74 17.23 L155.26 17.19 L156.78 17.19 L158.3 17.25 L159.82 17.36 L161.34 17.52 L162.86 17.73 L164.38 17.99 L165.9 18.3 L167.42 18.67 L168.95 19.08 L170.47 19.54 L171.99 20.05 L173.51 20.61 L175.03 21.21 L176.55 21.86 L178.07 22.56 L179.59 23.29 L181.11 24.14 L182.63 25.29 L184.15 26.5 L185.67 27.76 L187.19 29.07 L188.71 30.43 L190.23 31.84 L191.75 33.3 L193.27 34.79 L194.79 36.34 L196.31 37.91 L197.83 39.53 L199.35 41.18 L200.87 42.86 L202.39 44.57 L203.91 46.31 L205.43 48.07 L206.95 49.85 L208.47 51.65 L209.99 53.46 L211.51 55.29 L213.03 57.12 L214.55 58.96 L216.07 60.81 L217.6 62.66 L219.12 64.5 L220.64 66.35 L222.16 68.18 L223.68 70 L225.2 71.82 L226.72 73.61 L228.24 75.39 L229.76 77.14 L231.28 78.87 L232.8 80.58 L234.32 82.25 L235.84 83.9 L237.36 85.5 L238.88 87.08 L240.4 88.61 L241.92 90.1 L243.44 91.55 L244.96 92.95 L246.48 94.3 L248 95.6 L249.52 96.85 L251.04 98.04 L252.56 99.18 L254.08 99.96 L255.6 100.69 L257.12 101.37 L258.64 102.01 L260.16 102.61 L261.68 103.15 L263.2 103.65 L264.72 104.11 L266.25 104.51 L267.77 104.86 L269.29 105.17 L270.81 105.42 L272.33 105.62 L273.85 105.77 L275.37 105.87 L276.89 105.91 L278.41 105.91 L279.93 105.85 L281.45 105.74 L282.97 105.58 L284.49 105.37 L286.01 105.11 L287.53 104.8 L289.05 104.43 L290.57 104.02 L292.09 103.56 L293.61 103.05 L295.13 102.49 L296.65 101.89 L298.17 101.24 L299.69 100.54 L301.21 99.81 L302.73 98.96 L304.25 97.81 L305.77 96.6 L307.29 95.34 L308.81 94.03 L310.33 92.67 L311.85 91.26 L313.38 89.8 L314.9 88.31 L316.42 86.76 L317.94 85.19 L319.46 83.57 L320.98 81.92 L322.5 80.24 L324.02 78.53 L325.54 76.79 L327.06 75.03 L328.58 73.25 L330.1 71.45 L331.62 69.64 L333.14 67.81 L334.66 65.98 L336.18 64.14 L337.7 62.29 L339.22 60.44 L340.74 58.6 L342.26 56.75 L343.78 54.92 L345.3 53.1 L346.82 51.28 L348.34 49.49 L349.86 47.71 L351.38 45.96 L352.9 44.23 L354.42 42.52 L355.94 40.85 L357.46 39.2 L358.98 37.6 L360.5 36.02 L362.02 34.49 L363.55 33 L365.07 31.55 L366.59 30.15 L368.11 28.8 L369.63 27.5 L371.15 26.25 L372.67 25.06 L374.19 23.92 L375.71 23.14 L377.23 22.41 L378.75 21.73 L380.27 21.09 L381.79 20.49 L383.31 19.95 L384.83 19.45 L386.35 18.99 L387.87 18.59 L389.39 18.24 L390.91 17.93 L392.43 17.68 L393.95 17.48 L395.47 17.33 L396.99 17.23 L398.51 17.19 L400.03 17.19 L401.55 17.25 L403.07 17.36 L404.59 17.52 L406.11 17.73 L407.63 17.99 L409.15 18.3 L410.67 18.67 L412.2 19.08 L413.72 19.54 L415.24 20.05 L416.76 20.61 L418.28 21.21 L419.8 21.86 L421.32 22.56 L422.84 23.29 L424.36 24.14 L425.88 25.29 L427.4 26.5 L428.92 27.76 L430.44 29.07 L431.96 30.43 L433.48 31.84 L435 33.3 L436.52 34.79 L438.04 36.34 L439.56 37.91 L441.08 39.53 L442.6 41.18 L444.12 42.86 L445.64 44.57 L447.16 46.31 L448.68 48.07 L450.2 49.85 L451.72 51.65 L453.24 53.46 L454.76 55.29 L456.28 57.12 L457.8 58.96 L459.32 60.81 L460.85 62.66 L462.37 64.5 L463.89 66.35 L465.41 68.18 L466.93 70 L468.45 71.82 L469.97 73.61 L471.49 75.39 L473.01 77.14 L474.53 78.87 L476.05 80.58 L477.57 82.25 L479.09 83.9 L480.61 85.5 L482.13 87.08 L483.65 88.61 L485.17 90.1 L486.69 91.55 L488.21 92.95 L489.73 94.3 L491.25 95.6 L492.77 96.85 L494.29 98.04 L495.81 99.18 L497.33 99.96 L498.85 100.69 L500.37 101.37 L501.89 102.01 L503.41 102.61 L504.93 103.15 L506.45 103.65 L507.97 104.11 L509.5 104.51 L511.02 104.86 L512.54 105.17 L514.06 105.42 L515.58 105.62 L517.1 105.77 L518.62 105.87 L520.14 105.91 L521.66 105.91 L523.18 105.85 L524.7 105.74 L526.22 105.58 L527.74 105.37 L529.26 105.11 L530.78 104.8 L532.3 104.43" stroke="#3a3a3a" stroke-width="0.85"/>
<path d="M45.8 82.92 L47.32 82.51 L48.84 82.04 L50.36 81.53 L51.88 80.98 L53.4 80.37 L54.92 79.72 L56.44 79.03 L57.96 78.29 L59.48 77.58 L61 77.09 L62.52 76.57 L64.04 76.03 L65.56 75.47 L67.08 74.89 L68.6 74.28 L70.12 73.66 L71.65 73.02 L73.17 72.36 L74.69 71.68 L76.21 70.99 L77.73 70.28 L79.25 69.56 L80.77 68.83 L82.29 68.08 L83.81 67.33 L85.33 66.57 L86.85 65.79 L88.37 65.02 L89.89 64.23 L91.41 63.45 L92.93 62.66 L94.45 61.87 L95.97 61.07 L97.49 60.28 L99.01 59.49 L100.53 58.71 L102.05 57.93 L103.57 57.15 L105.09 56.38 L106.61 55.62 L108.13 54.87 L109.65 54.13 L111.17 53.4 L112.69 52.68 L114.21 51.97 L115.73 51.28 L117.25 50.61 L118.77 49.95 L120.3 49.32 L121.82 48.7 L123.34 48.1 L124.86 47.52 L126.38 46.96 L127.9 46.42 L129.42 45.91 L130.94 45.42 L132.46 44.66 L133.98 43.93 L135.5 43.24 L137.02 42.6 L138.54 42.01 L140.06 41.46 L141.58 40.96 L143.1 40.51 L144.62 40.1 L146.14 39.75 L147.66 39.45 L149.18 39.2 L150.7 38.99 L152.22 38.84 L153.74 38.75 L155.26 38.7 L156.78 38.7 L158.3 38.76 L159.82 38.87 L161.34 39.03 L162.86 39.24 L164.38 39.5 L165.9 39.82 L167.42 40.18 L168.95 40.59 L170.47 41.06 L171.99 41.57 L173.51 42.12 L175.03 42.73 L176.55 43.38 L178.07 44.07 L179.59 44.81 L181.11 45.52 L182.63 46.01 L184.15 46.53 L185.67 47.07 L187.19 47.63 L188.71 48.21 L190.23 48.82 L191.75 49.44 L193.27 50.08 L194.79 50.74 L196.31 51.42 L197.83 52.11 L199.35 52.82 L200.87 53.54 L202.39 54.27 L203.91 55.02 L205.43 55.77 L206.95 56.53 L208.47 57.31 L209.99 58.08 L211.51 58.87 L213.03 59.65 L214.55 60.44 L216.07 61.23 L217.6 62.03 L219.12 62.82 L220.64 63.61 L222.16 64.39 L223.68 65.17 L225.2 65.95 L226.72 66.72 L228.24 67.48 L229.76 68.23 L231.28 68.97 L232.8 69.7 L234.32 70.42 L235.84 71.13 L237.36 71.82 L238.88 72.49 L240.4 73.15 L241.92 73.78 L243.44 74.4 L244.96 75 L246.48 75.58 L248 76.14 L249.52 76.68 L251.04 77.19 L252.56 77.68 L254.08 78.44 L255.6 79.17 L257.12 79.86 L258.64 80.5 L260.16 81.09 L261.68 81.64 L263.2 82.14 L264.72 82.59 L266.25 83 L267.77 83.35 L269.29 83.65 L270.81 83.9 L272.33 84.11 L273.85 84.26 L275.37 84.35 L276.89 84.4 L278.41 84.4 L279.93 84.34 L281.45 84.23 L282.97 84.07 L284.49 83.86 L286.01 83.6 L287.53 83.28 L289.05 82.92 L290.57 82.51 L292.09 82.04 L293.61 81.53 L295.13 80.98 L296.65 80.37 L298.17 79.72 L299.69 79.03 L301.21 78.29 L302.73 77.58 L304.25 77.09 L305.77 76.57 L307.29 76.03 L308.81 75.47 L310.33 74.89 L311.85 74.28 L313.38 73.66 L314.9 73.02 L316.42 72.36 L317.94 71.68 L319.46 70.99 L320.98 70.28 L322.5 69.56 L324.02 68.83 L325.54 68.08 L327.06 67.33 L328.58 66.57 L330.1 65.79 L331.62 65.02 L333.14 64.23 L334.66 63.45 L336.18 62.66 L337.7 61.87 L339.22 61.07 L340.74 60.28 L342.26 59.49 L343.78 58.71 L345.3 57.93 L346.82 57.15 L348.34 56.38 L349.86 55.62 L351.38 54.87 L352.9 54.13 L354.42 53.4 L355.94 52.68 L357.46 51.97 L358.98 51.28 L360.5 50.61 L362.02 49.95 L363.55 49.32 L365.07 48.7 L366.59 48.1 L368.11 47.52 L369.63 46.96 L371.15 46.42 L372.67 45.91 L374.19 45.42 L375.71 44.66 L377.23 43.93 L378.75 43.24 L380.27 42.6 L381.79 42.01 L383.31 41.46 L384.83 40.96 L386.35 40.51 L387.87 40.1 L389.39 39.75 L390.91 39.45 L392.43 39.2 L393.95 38.99 L395.47 38.84 L396.99 38.75 L398.51 38.7 L400.03 38.7 L401.55 38.76 L403.07 38.87 L404.59 39.03 L406.11 39.24 L407.63 39.5 L409.15 39.82 L410.67 40.18 L412.2 40.59 L413.72 41.06 L415.24 41.57 L416.76 42.12 L418.28 42.73 L419.8 43.38 L421.32 44.07 L422.84 44.81 L424.36 45.52 L425.88 46.01 L427.4 46.53 L428.92 47.07 L430.44 47.63 L431.96 48.21 L433.48 48.82 L435 49.44 L436.52 50.08 L438.04 50.74 L439.56 51.42 L441.08 52.11 L442.6 52.82 L444.12 53.54 L445.64 54.27 L447.16 55.02 L448.68 55.77 L450.2 56.53 L451.72 57.31 L453.24 58.08 L454.76 58.87 L456.28 59.65 L457.8 60.44 L459.32 61.23 L460.85 62.03 L462.37 62.82 L463.89 63.61 L465.41 64.39 L466.93 65.17 L468.45 65.95 L469.97 66.72 L471.49 67.48 L473.01 68.23 L474.53 68.97 L476.05 69.7 L477.57 70.42 L479.09 71.13 L480.61 71.82 L482.13 72.49 L483.65 73.15 L485.17 73.78 L486.69 74.4 L488.21 75 L489.73 75.58 L491.25 76.14 L492.77 76.68 L494.29 77.19 L495.81 77.68 L497.33 78.44 L498.85 79.17 L500.37 79.86 L501.89 80.5 L503.41 81.09 L504.93 81.64 L506.45 82.14 L507.97 82.59 L509.5 83 L511.02 83.35 L512.54 83.65 L514.06 83.9 L515.58 84.11 L517.1 84.26 L518.62 84.35 L520.14 84.4 L521.66 84.4 L523.18 84.34 L524.7 84.23 L526.22 84.07 L527.74 83.86 L529.26 83.6 L530.78 83.28 L532.3 82.92" stroke="#3a3a3a" stroke-width="0.85"/>
</g>
<path d="M106.5 7.9 v5 M106.5 115.2 v-5 M167.5 7.9 v5 M167.5 115.2 v-5 M228.5 7.9 v5 M228.5 115.2 v-5 M289.5 7.9 v5 M289.5 115.2 v-5 M349.5 7.9 v5 M349.5 115.2 v-5 M410.5 7.9 v5 M410.5 115.2 v-5 M471.5 7.9 v5 M471.5 115.2 v-5 M45.8 109.5 h5 M532.3 109.5 h-5 M45.8 93.5 h5 M532.3 93.5 h-5 M45.8 77.5 h5 M532.3 77.5 h-5 M45.8 61.5 h5 M532.3 61.5 h-5 M45.8 45.5 h5 M532.3 45.5 h-5 M45.8 29.5 h5 M532.3 29.5 h-5 M45.8 13.5 h5 M532.3 13.5 h-5" stroke="#111" stroke-width="1" fill="none"/>
<rect x="45.8" y="7.9" width="486.5" height="107.3" stroke="#111" stroke-width="1" fill="none"/>
<text x="45.8" y="131.5" font-size="14.8" text-anchor="middle">-20</text>
<text x="106.61" y="131.5" font-size="14.8" text-anchor="middle">-15</text>
<text x="167.42" y="131.5" font-size="14.8" text-anchor="middle">-10</text>
<text x="228.24" y="131.5" font-size="14.8" text-anchor="middle">-5</text>
<text x="289.05" y="131.5" font-size="14.8" text-anchor="middle">0</text>
<text x="349.86" y="131.5" font-size="14.8" text-anchor="middle">5</text>
<text x="410.67" y="131.5" font-size="14.8" text-anchor="middle">10</text>
<text x="471.49" y="131.5" font-size="14.8" text-anchor="middle">15</text>
<text x="532.3" y="131.5" font-size="14.8" text-anchor="middle">20</text>
<text x="41.5" y="113.43" font-size="14.8" text-anchor="end">-9</text>
<text x="41.5" y="97.34" font-size="14.8" text-anchor="end">-6</text>
<text x="41.5" y="81.25" font-size="14.8" text-anchor="end">-3</text>
<text x="41.5" y="65.15" font-size="14.8" text-anchor="end">0</text>
<text x="41.5" y="49.05" font-size="14.8" text-anchor="end">3</text>
<text x="41.5" y="32.96" font-size="14.8" text-anchor="end">6</text>
<text x="41.5" y="16.87" font-size="14.8" text-anchor="end">9</text>
<text x="254.8" y="150.4" font-size="16" textLength="68.5" lengthAdjust="spacingAndGlyphs">Time [ms]</text>
<text transform="translate(22.6 100.9) rotate(-90)" font-size="17" textLength="79.5" lengthAdjust="spacingAndGlyphs">Current [A]</text>
<rect x="418.5" y="91.5" width="107" height="19" fill="#fff" stroke="#111" stroke-width="1"/>
<path d="M421.8 101 H438.5" stroke="#0072BD" stroke-width="1"/>
<text x="441.2" y="103.9" font-size="12.5" font-style="italic">i<tspan font-size="9" dx="0.6" dy="1.9">a</tspan></text>
<path d="M457.8 101 H474.8" stroke="#36AD32" stroke-width="1"/>
<text x="477.8" y="103.9" font-size="12.5" font-style="italic">i<tspan font-size="9" dx="0.6" dy="1.9">b</tspan></text>
<path d="M493.4 101 H510.2" stroke="#FF4D18" stroke-width="1"/>
<text x="513.8" y="103.9" font-size="12.5" font-style="italic">i<tspan font-size="9" dx="0.6" dy="1.9">c</tspan></text>
<text x="275.25" y="169.4" font-size="13.5" font-weight="bold" text-anchor="middle">(a)</text>
<clipPath id="clipb"><rect x="43.1" y="176.1" width="495.1" height="109"/></clipPath>
<path d="M104.5 176.1 V285.1 M166.5 176.1 V285.1 M228.5 176.1 V285.1 M290.5 176.1 V285.1 M352.5 176.1 V285.1 M414.5 176.1 V285.1 M476.5 176.1 V285.1 M43.1 279.5 H538.2 M43.1 263.5 H538.2 M43.1 246.5 H538.2 M43.1 230.5 H538.2 M43.1 214.5 H538.2 M43.1 197.5 H538.2 M43.1 181.5 H538.2" stroke="#6e6e6e" stroke-width="0.9" stroke-dasharray="1.1 1.5" fill="none"/>
<g clip-path="url(#clipb)" fill="none">
<clipPath id="bandbb"><path d="M43.1 202.46 L44.65 201.74 L46.19 201.06 L47.74 200.4 L49.29 199.78 L50.84 199.2 L52.38 198.66 L53.93 198.15 L55.48 197.68 L57.02 197.24 L58.57 196.85 L60.12 196.5 L61.67 196.19 L63.21 195.92 L64.76 195.69 L66.31 195.5 L67.86 195.36 L69.4 195.25 L70.95 195.19 L72.5 195.18 L74.04 195.2 L75.59 195.27 L77.14 195.38 L78.69 195.53 L80.23 195.73 L81.78 195.96 L83.33 196.24 L84.87 196.56 L86.42 196.92 L87.97 197.32 L89.52 197.76 L91.06 198.24 L92.61 198.75 L94.16 199.31 L95.7 199.9 L97.25 200.52 L98.8 201.18 L100.35 201.87 L101.89 202.6 L103.44 203.52 L104.99 204.61 L106.53 205.75 L108.08 206.92 L109.63 208.12 L111.18 209.36 L112.72 210.64 L114.27 211.94 L115.82 213.28 L117.37 214.64 L118.91 216.02 L120.46 217.43 L122.01 218.86 L123.55 220.3 L125.1 221.76 L126.65 223.24 L128.2 224.73 L129.74 226.22 L131.29 227.72 L132.84 229.23 L134.38 230.74 L135.93 232.25 L137.48 233.76 L139.03 235.26 L140.57 236.75 L142.12 238.24 L143.67 239.71 L145.21 241.17 L146.76 242.61 L148.31 244.03 L149.86 245.44 L151.4 246.82 L152.95 248.17 L154.5 249.5 L156.04 250.8 L157.59 252.07 L159.14 253.31 L160.69 254.51 L162.23 255.67 L163.78 256.79 L165.33 257.88 L166.88 258.74 L168.42 259.46 L169.97 260.14 L171.52 260.8 L173.06 261.42 L174.61 262 L176.16 262.54 L177.71 263.05 L179.25 263.52 L180.8 263.96 L182.35 264.35 L183.89 264.7 L185.44 265.01 L186.99 265.28 L188.54 265.51 L190.08 265.7 L191.63 265.84 L193.18 265.95 L194.72 266.01 L196.27 266.02 L197.82 266 L199.37 265.93 L200.91 265.82 L202.46 265.67 L204.01 265.47 L205.55 265.24 L207.1 264.96 L208.65 264.64 L210.2 264.28 L211.74 263.88 L213.29 263.44 L214.84 262.96 L216.38 262.45 L217.93 261.89 L219.48 261.3 L221.03 260.68 L222.57 260.02 L224.12 259.33 L225.67 258.6 L227.22 257.68 L228.76 256.59 L230.31 255.45 L231.86 254.28 L233.4 253.08 L234.95 251.84 L236.5 250.56 L238.05 249.26 L239.59 247.92 L241.14 246.56 L242.69 245.18 L244.23 243.77 L245.78 242.34 L247.33 240.9 L248.88 239.44 L250.42 237.96 L251.97 236.47 L253.52 234.98 L255.06 233.48 L256.61 231.97 L258.16 230.46 L259.71 228.95 L261.25 227.44 L262.8 225.94 L264.35 224.45 L265.9 222.96 L267.44 221.49 L268.99 220.03 L270.54 218.59 L272.08 217.17 L273.63 215.76 L275.18 214.38 L276.73 213.03 L278.27 211.7 L279.82 210.4 L281.37 209.13 L282.91 207.89 L284.46 206.69 L286.01 205.53 L287.56 204.41 L289.1 203.32 L290.65 202.46 L292.2 201.74 L293.74 201.06 L295.29 200.4 L296.84 199.78 L298.39 199.2 L299.93 198.66 L301.48 198.15 L303.03 197.68 L304.57 197.24 L306.12 196.85 L307.67 196.5 L309.22 196.19 L310.76 195.92 L312.31 195.69 L313.86 195.5 L315.41 195.36 L316.95 195.25 L318.5 195.19 L320.05 195.18 L321.59 195.2 L323.14 195.27 L324.69 195.38 L326.24 195.53 L327.78 195.73 L329.33 195.96 L330.88 196.24 L332.42 196.56 L333.97 196.92 L335.52 197.32 L337.07 197.76 L338.61 198.24 L340.16 198.75 L341.71 199.31 L343.25 199.9 L344.8 200.52 L346.35 201.18 L347.9 201.87 L349.44 202.6 L350.99 203.52 L352.54 204.61 L354.08 205.75 L355.63 206.92 L357.18 208.12 L358.73 209.36 L360.27 210.64 L361.82 211.94 L363.37 213.28 L364.92 214.64 L366.46 216.02 L368.01 217.43 L369.56 218.86 L371.1 220.3 L372.65 221.76 L374.2 223.24 L375.75 224.73 L377.29 226.22 L378.84 227.72 L380.39 229.23 L381.93 230.74 L383.48 232.25 L385.03 233.76 L386.58 235.26 L388.12 236.75 L389.67 238.24 L391.22 239.71 L392.76 241.17 L394.31 242.61 L395.86 244.03 L397.41 245.44 L398.95 246.82 L400.5 248.17 L402.05 249.5 L403.59 250.8 L405.14 252.07 L406.69 253.31 L408.24 254.51 L409.78 255.67 L411.33 256.79 L412.88 257.88 L414.43 258.74 L415.97 259.46 L417.52 260.14 L419.07 260.8 L420.61 261.42 L422.16 262 L423.71 262.54 L425.26 263.05 L426.8 263.52 L428.35 263.96 L429.9 264.35 L431.44 264.7 L432.99 265.01 L434.54 265.28 L436.09 265.51 L437.63 265.7 L439.18 265.84 L440.73 265.95 L442.27 266.01 L443.82 266.02 L445.37 266 L446.92 265.93 L448.46 265.82 L450.01 265.67 L451.56 265.47 L453.1 265.24 L454.65 264.96 L456.2 264.64 L457.75 264.28 L459.29 263.88 L460.84 263.44 L462.39 262.96 L463.94 262.45 L465.48 261.89 L467.03 261.3 L468.58 260.68 L470.12 260.02 L471.67 259.33 L473.22 258.6 L474.77 257.68 L476.31 256.59 L477.86 255.45 L479.41 254.28 L480.95 253.08 L482.5 251.84 L484.05 250.56 L485.6 249.26 L487.14 247.92 L488.69 246.56 L490.24 245.18 L491.78 243.77 L493.33 242.34 L494.88 240.9 L496.43 239.44 L497.97 237.96 L499.52 236.47 L501.07 234.98 L502.61 233.48 L504.16 231.97 L505.71 230.46 L507.26 228.95 L508.8 227.44 L510.35 225.94 L511.9 224.45 L513.45 222.96 L514.99 221.49 L516.54 220.03 L518.09 218.59 L519.63 217.17 L521.18 215.76 L522.73 214.38 L524.28 213.03 L525.82 211.7 L527.37 210.4 L528.92 209.13 L530.46 207.89 L532.01 206.69 L533.56 205.53 L535.11 204.41 L536.65 203.32 L538.2 202.46 L538.2 217.94 L536.65 218.58 L535.11 219.06 L533.56 219.55 L532.01 220.07 L530.46 220.59 L528.92 221.14 L527.37 221.7 L525.82 222.27 L524.28 222.86 L522.73 223.45 L521.18 224.06 L519.63 224.68 L518.09 225.31 L516.54 225.94 L514.99 226.59 L513.45 227.23 L511.9 227.89 L510.35 228.55 L508.8 229.21 L507.26 229.87 L505.71 230.54 L504.16 231.2 L502.61 231.87 L501.07 232.53 L499.52 233.19 L497.97 233.84 L496.43 234.49 L494.88 235.14 L493.33 235.77 L491.78 236.4 L490.24 237.02 L488.69 237.63 L487.14 238.23 L485.6 238.82 L484.05 239.4 L482.5 239.96 L480.95 240.51 L479.41 241.04 L477.86 241.55 L476.31 242.05 L474.77 242.53 L473.22 243.12 L471.67 243.85 L470.12 244.54 L468.58 245.2 L467.03 245.82 L465.48 246.41 L463.94 246.97 L462.39 247.48 L460.84 247.96 L459.29 248.4 L457.75 248.8 L456.2 249.16 L454.65 249.48 L453.1 249.76 L451.56 250 L450.01 250.19 L448.46 250.34 L446.92 250.45 L445.37 250.52 L443.82 250.55 L442.27 250.53 L440.73 250.47 L439.18 250.37 L437.63 250.22 L436.09 250.03 L434.54 249.81 L432.99 249.53 L431.44 249.22 L429.9 248.87 L428.35 248.48 L426.8 248.05 L425.26 247.58 L423.71 247.07 L422.16 246.52 L420.61 245.94 L419.07 245.32 L417.52 244.67 L415.97 243.98 L414.43 243.26 L412.88 242.62 L411.33 242.14 L409.78 241.65 L408.24 241.13 L406.69 240.61 L405.14 240.06 L403.59 239.5 L402.05 238.93 L400.5 238.34 L398.95 237.75 L397.41 237.14 L395.86 236.52 L394.31 235.89 L392.76 235.26 L391.22 234.61 L389.67 233.97 L388.12 233.31 L386.58 232.65 L385.03 231.99 L383.48 231.33 L381.93 230.66 L380.39 230 L378.84 229.33 L377.29 228.67 L375.75 228.01 L374.2 227.36 L372.65 226.71 L371.1 226.06 L369.56 225.43 L368.01 224.8 L366.46 224.18 L364.92 223.57 L363.37 222.97 L361.82 222.38 L360.27 221.8 L358.73 221.24 L357.18 220.69 L355.63 220.16 L354.08 219.65 L352.54 219.15 L350.99 218.67 L349.44 218.08 L347.9 217.35 L346.35 216.66 L344.8 216 L343.25 215.38 L341.71 214.79 L340.16 214.23 L338.61 213.72 L337.07 213.24 L335.52 212.8 L333.97 212.4 L332.42 212.04 L330.88 211.72 L329.33 211.44 L327.78 211.2 L326.24 211.01 L324.69 210.86 L323.14 210.75 L321.59 210.68 L320.05 210.65 L318.5 210.67 L316.95 210.73 L315.41 210.83 L313.86 210.98 L312.31 211.17 L310.76 211.39 L309.22 211.67 L307.67 211.98 L306.12 212.33 L304.57 212.72 L303.03 213.15 L301.48 213.62 L299.93 214.13 L298.39 214.68 L296.84 215.26 L295.29 215.88 L293.74 216.53 L292.2 217.22 L290.65 217.94 L289.1 218.58 L287.56 219.06 L286.01 219.55 L284.46 220.07 L282.91 220.59 L281.37 221.14 L279.82 221.7 L278.27 222.27 L276.73 222.86 L275.18 223.45 L273.63 224.06 L272.08 224.68 L270.54 225.31 L268.99 225.94 L267.44 226.59 L265.9 227.23 L264.35 227.89 L262.8 228.55 L261.25 229.21 L259.71 229.87 L258.16 230.54 L256.61 231.2 L255.06 231.87 L253.52 232.53 L251.97 233.19 L250.42 233.84 L248.88 234.49 L247.33 235.14 L245.78 235.77 L244.23 236.4 L242.69 237.02 L241.14 237.63 L239.59 238.23 L238.05 238.82 L236.5 239.4 L234.95 239.96 L233.4 240.51 L231.86 241.04 L230.31 241.55 L228.76 242.05 L227.22 242.53 L225.67 243.12 L224.12 243.85 L222.57 244.54 L221.03 245.2 L219.48 245.82 L217.93 246.41 L216.38 246.97 L214.84 247.48 L213.29 247.96 L211.74 248.4 L210.2 248.8 L208.65 249.16 L207.1 249.48 L205.55 249.76 L204.01 250 L202.46 250.19 L200.91 250.34 L199.37 250.45 L197.82 250.52 L196.27 250.55 L194.72 250.53 L193.18 250.47 L191.63 250.37 L190.08 250.22 L188.54 250.03 L186.99 249.81 L185.44 249.53 L183.89 249.22 L182.35 248.87 L180.8 248.48 L179.25 248.05 L177.71 247.58 L176.16 247.07 L174.61 246.52 L173.06 245.94 L171.52 245.32 L169.97 244.67 L168.42 243.98 L166.88 243.26 L165.33 242.62 L163.78 242.14 L162.23 241.65 L160.69 241.13 L159.14 240.61 L157.59 240.06 L156.04 239.5 L154.5 238.93 L152.95 238.34 L151.4 237.75 L149.86 237.14 L148.31 236.52 L146.76 235.89 L145.21 235.26 L143.67 234.61 L142.12 233.97 L140.57 233.31 L139.03 232.65 L137.48 231.99 L135.93 231.33 L134.38 230.66 L132.84 230 L131.29 229.33 L129.74 228.67 L128.2 228.01 L126.65 227.36 L125.1 226.71 L123.55 226.06 L122.01 225.43 L120.46 224.8 L118.91 224.18 L117.37 223.57 L115.82 222.97 L114.27 222.38 L112.72 221.8 L111.18 221.24 L109.63 220.69 L108.08 220.16 L106.53 219.65 L104.99 219.15 L103.44 218.67 L101.89 218.08 L100.35 217.35 L98.8 216.66 L97.25 216 L95.7 215.38 L94.16 214.79 L92.61 214.23 L91.06 213.72 L89.52 213.24 L87.97 212.8 L86.42 212.4 L84.87 212.04 L83.33 211.72 L81.78 211.44 L80.23 211.2 L78.69 211.01 L77.14 210.86 L75.59 210.75 L74.04 210.68 L72.5 210.65 L70.95 210.67 L69.4 210.73 L67.86 210.83 L66.31 210.98 L64.76 211.17 L63.21 211.39 L61.67 211.67 L60.12 211.98 L58.57 212.33 L57.02 212.72 L55.48 213.15 L53.93 213.62 L52.38 214.13 L50.84 214.68 L49.29 215.26 L47.74 215.88 L46.19 216.53 L44.65 217.22 L43.1 217.94 Z"/></clipPath>
<path d="M43.1 209.27 L44.65 208.55 L46.19 207.87 L47.74 207.21 L49.29 206.6 L50.84 206.01 L52.38 205.47 L53.93 204.96 L55.48 204.49 L57.02 204.05 L58.57 203.66 L60.12 203.31 L61.67 203 L63.21 202.73 L64.76 202.5 L66.31 202.31 L67.86 202.17 L69.4 202.06 L70.95 202 L72.5 201.99 L74.04 202.01 L75.59 202.08 L77.14 202.19 L78.69 202.34 L80.23 202.54 L81.78 202.77 L83.33 203.05 L84.87 203.37 L86.42 203.73 L87.97 204.13 L89.52 204.57 L91.06 205.05 L92.61 205.57 L94.16 206.12 L95.7 206.71 L97.25 207.33 L98.8 207.99 L100.35 208.68 L101.89 209.41 L103.44 210.19 L104.99 211.01 L106.53 211.86 L108.08 212.74 L109.63 213.65 L111.18 214.59 L112.72 215.55 L114.27 216.53 L115.82 217.54 L117.37 218.57 L118.91 219.61 L120.46 220.67 L122.01 221.75 L123.55 222.84 L125.1 223.94 L126.65 225.05 L128.2 226.17 L129.74 227.3 L131.29 228.43 L132.84 229.57 L134.38 230.71 L135.93 231.84 L137.48 232.98 L139.03 234.11 L140.57 235.24 L142.12 236.36 L143.67 237.47 L145.21 238.57 L146.76 239.65 L148.31 240.73 L149.86 241.79 L151.4 242.83 L152.95 243.85 L154.5 244.85 L156.04 245.83 L157.59 246.79 L159.14 247.72 L160.69 248.62 L162.23 249.5 L163.78 250.35 L165.33 251.16 L166.88 251.93 L168.42 252.65 L169.97 253.33 L171.52 253.99 L173.06 254.6 L174.61 255.19 L176.16 255.73 L177.71 256.24 L179.25 256.71 L180.8 257.15 L182.35 257.54 L183.89 257.89 L185.44 258.2 L186.99 258.47 L188.54 258.7 L190.08 258.89 L191.63 259.03 L193.18 259.14 L194.72 259.2 L196.27 259.21 L197.82 259.19 L199.37 259.12 L200.91 259.01 L202.46 258.86 L204.01 258.66 L205.55 258.43 L207.1 258.15 L208.65 257.83 L210.2 257.47 L211.74 257.07 L213.29 256.63 L214.84 256.15 L216.38 255.63 L217.93 255.08 L219.48 254.49 L221.03 253.87 L222.57 253.21 L224.12 252.52 L225.67 251.79 L227.22 251.01 L228.76 250.19 L230.31 249.34 L231.86 248.46 L233.4 247.55 L234.95 246.61 L236.5 245.65 L238.05 244.67 L239.59 243.66 L241.14 242.63 L242.69 241.59 L244.23 240.53 L245.78 239.45 L247.33 238.36 L248.88 237.26 L250.42 236.15 L251.97 235.03 L253.52 233.9 L255.06 232.77 L256.61 231.63 L258.16 230.49 L259.71 229.36 L261.25 228.22 L262.8 227.09 L264.35 225.96 L265.9 224.84 L267.44 223.73 L268.99 222.63 L270.54 221.55 L272.08 220.47 L273.63 219.41 L275.18 218.37 L276.73 217.35 L278.27 216.35 L279.82 215.37 L281.37 214.41 L282.91 213.48 L284.46 212.58 L286.01 211.7 L287.56 210.85 L289.1 210.04 L290.65 209.27 L292.2 208.55 L293.74 207.87 L295.29 207.21 L296.84 206.6 L298.39 206.01 L299.93 205.47 L301.48 204.96 L303.03 204.49 L304.57 204.05 L306.12 203.66 L307.67 203.31 L309.22 203 L310.76 202.73 L312.31 202.5 L313.86 202.31 L315.41 202.17 L316.95 202.06 L318.5 202 L320.05 201.99 L321.59 202.01 L323.14 202.08 L324.69 202.19 L326.24 202.34 L327.78 202.54 L329.33 202.77 L330.88 203.05 L332.42 203.37 L333.97 203.73 L335.52 204.13 L337.07 204.57 L338.61 205.05 L340.16 205.57 L341.71 206.12 L343.25 206.71 L344.8 207.33 L346.35 207.99 L347.9 208.68 L349.44 209.41 L350.99 210.19 L352.54 211.01 L354.08 211.86 L355.63 212.74 L357.18 213.65 L358.73 214.59 L360.27 215.55 L361.82 216.53 L363.37 217.54 L364.92 218.57 L366.46 219.61 L368.01 220.67 L369.56 221.75 L371.1 222.84 L372.65 223.94 L374.2 225.05 L375.75 226.17 L377.29 227.3 L378.84 228.43 L380.39 229.57 L381.93 230.71 L383.48 231.84 L385.03 232.98 L386.58 234.11 L388.12 235.24 L389.67 236.36 L391.22 237.47 L392.76 238.57 L394.31 239.65 L395.86 240.73 L397.41 241.79 L398.95 242.83 L400.5 243.85 L402.05 244.85 L403.59 245.83 L405.14 246.79 L406.69 247.72 L408.24 248.62 L409.78 249.5 L411.33 250.35 L412.88 251.16 L414.43 251.93 L415.97 252.65 L417.52 253.33 L419.07 253.99 L420.61 254.6 L422.16 255.19 L423.71 255.73 L425.26 256.24 L426.8 256.71 L428.35 257.15 L429.9 257.54 L431.44 257.89 L432.99 258.2 L434.54 258.47 L436.09 258.7 L437.63 258.89 L439.18 259.03 L440.73 259.14 L442.27 259.2 L443.82 259.21 L445.37 259.19 L446.92 259.12 L448.46 259.01 L450.01 258.86 L451.56 258.66 L453.1 258.43 L454.65 258.15 L456.2 257.83 L457.75 257.47 L459.29 257.07 L460.84 256.63 L462.39 256.15 L463.94 255.63 L465.48 255.08 L467.03 254.49 L468.58 253.87 L470.12 253.21 L471.67 252.52 L473.22 251.79 L474.77 251.01 L476.31 250.19 L477.86 249.34 L479.41 248.46 L480.95 247.55 L482.5 246.61 L484.05 245.65 L485.6 244.67 L487.14 243.66 L488.69 242.63 L490.24 241.59 L491.78 240.53 L493.33 239.45 L494.88 238.36 L496.43 237.26 L497.97 236.15 L499.52 235.03 L501.07 233.9 L502.61 232.77 L504.16 231.63 L505.71 230.49 L507.26 229.36 L508.8 228.22 L510.35 227.09 L511.9 225.96 L513.45 224.84 L514.99 223.73 L516.54 222.63 L518.09 221.55 L519.63 220.47 L521.18 219.41 L522.73 218.37 L524.28 217.35 L525.82 216.35 L527.37 215.37 L528.92 214.41 L530.46 213.48 L532.01 212.58 L533.56 211.7 L535.11 210.85 L536.65 210.04 L538.2 209.27 L538.2 211.13 L536.65 211.87 L535.11 212.61 L533.56 213.38 L532.01 214.18 L530.46 215.01 L528.92 215.85 L527.37 216.73 L525.82 217.62 L524.28 218.53 L522.73 219.46 L521.18 220.41 L519.63 221.37 L518.09 222.35 L516.54 223.34 L514.99 224.34 L513.45 225.36 L511.9 226.38 L510.35 227.4 L508.8 228.43 L507.26 229.47 L505.71 230.5 L504.16 231.54 L502.61 232.57 L501.07 233.61 L499.52 234.63 L497.97 235.65 L496.43 236.67 L494.88 237.67 L493.33 238.66 L491.78 239.65 L490.24 240.61 L488.69 241.56 L487.14 242.5 L485.6 243.41 L484.05 244.31 L482.5 245.18 L480.95 246.04 L479.41 246.87 L477.86 247.67 L476.31 248.45 L474.77 249.2 L473.22 249.93 L471.67 250.66 L470.12 251.35 L468.58 252.01 L467.03 252.63 L465.48 253.22 L463.94 253.78 L462.39 254.29 L460.84 254.77 L459.29 255.21 L457.75 255.61 L456.2 255.97 L454.65 256.29 L453.1 256.57 L451.56 256.81 L450.01 257 L448.46 257.15 L446.92 257.26 L445.37 257.33 L443.82 257.36 L442.27 257.34 L440.73 257.28 L439.18 257.18 L437.63 257.03 L436.09 256.84 L434.54 256.62 L432.99 256.35 L431.44 256.03 L429.9 255.68 L428.35 255.29 L426.8 254.86 L425.26 254.39 L423.71 253.88 L422.16 253.33 L420.61 252.75 L419.07 252.13 L417.52 251.48 L415.97 250.79 L414.43 250.07 L412.88 249.33 L411.33 248.59 L409.78 247.82 L408.24 247.02 L406.69 246.19 L405.14 245.35 L403.59 244.47 L402.05 243.58 L400.5 242.67 L398.95 241.74 L397.41 240.79 L395.86 239.83 L394.31 238.85 L392.76 237.86 L391.22 236.86 L389.67 235.84 L388.12 234.82 L386.58 233.8 L385.03 232.77 L383.48 231.73 L381.93 230.7 L380.39 229.66 L378.84 228.63 L377.29 227.59 L375.75 226.57 L374.2 225.55 L372.65 224.53 L371.1 223.53 L369.56 222.54 L368.01 221.55 L366.46 220.59 L364.92 219.64 L363.37 218.7 L361.82 217.79 L360.27 216.89 L358.73 216.02 L357.18 215.16 L355.63 214.33 L354.08 213.53 L352.54 212.75 L350.99 212 L349.44 211.27 L347.9 210.54 L346.35 209.85 L344.8 209.19 L343.25 208.57 L341.71 207.98 L340.16 207.42 L338.61 206.91 L337.07 206.43 L335.52 205.99 L333.97 205.59 L332.42 205.23 L330.88 204.91 L329.33 204.63 L327.78 204.39 L326.24 204.2 L324.69 204.05 L323.14 203.94 L321.59 203.87 L320.05 203.84 L318.5 203.86 L316.95 203.92 L315.41 204.02 L313.86 204.17 L312.31 204.36 L310.76 204.58 L309.22 204.85 L307.67 205.17 L306.12 205.52 L304.57 205.91 L303.03 206.34 L301.48 206.81 L299.93 207.32 L298.39 207.87 L296.84 208.45 L295.29 209.07 L293.74 209.72 L292.2 210.41 L290.65 211.13 L289.1 211.87 L287.56 212.61 L286.01 213.38 L284.46 214.18 L282.91 215.01 L281.37 215.85 L279.82 216.73 L278.27 217.62 L276.73 218.53 L275.18 219.46 L273.63 220.41 L272.08 221.37 L270.54 222.35 L268.99 223.34 L267.44 224.34 L265.9 225.36 L264.35 226.38 L262.8 227.4 L261.25 228.43 L259.71 229.47 L258.16 230.5 L256.61 231.54 L255.06 232.57 L253.52 233.61 L251.97 234.63 L250.42 235.65 L248.88 236.67 L247.33 237.67 L245.78 238.66 L244.23 239.65 L242.69 240.61 L241.14 241.56 L239.59 242.5 L238.05 243.41 L236.5 244.31 L234.95 245.18 L233.4 246.04 L231.86 246.87 L230.31 247.67 L228.76 248.45 L227.22 249.2 L225.67 249.93 L224.12 250.66 L222.57 251.35 L221.03 252.01 L219.48 252.63 L217.93 253.22 L216.38 253.78 L214.84 254.29 L213.29 254.77 L211.74 255.21 L210.2 255.61 L208.65 255.97 L207.1 256.29 L205.55 256.57 L204.01 256.81 L202.46 257 L200.91 257.15 L199.37 257.26 L197.82 257.33 L196.27 257.36 L194.72 257.34 L193.18 257.28 L191.63 257.18 L190.08 257.03 L188.54 256.84 L186.99 256.62 L185.44 256.35 L183.89 256.03 L182.35 255.68 L180.8 255.29 L179.25 254.86 L177.71 254.39 L176.16 253.88 L174.61 253.33 L173.06 252.75 L171.52 252.13 L169.97 251.48 L168.42 250.79 L166.88 250.07 L165.33 249.33 L163.78 248.59 L162.23 247.82 L160.69 247.02 L159.14 246.19 L157.59 245.35 L156.04 244.47 L154.5 243.58 L152.95 242.67 L151.4 241.74 L149.86 240.79 L148.31 239.83 L146.76 238.85 L145.21 237.86 L143.67 236.86 L142.12 235.84 L140.57 234.82 L139.03 233.8 L137.48 232.77 L135.93 231.73 L134.38 230.7 L132.84 229.66 L131.29 228.63 L129.74 227.59 L128.2 226.57 L126.65 225.55 L125.1 224.53 L123.55 223.53 L122.01 222.54 L120.46 221.55 L118.91 220.59 L117.37 219.64 L115.82 218.7 L114.27 217.79 L112.72 216.89 L111.18 216.02 L109.63 215.16 L108.08 214.33 L106.53 213.53 L104.99 212.75 L103.44 212 L101.89 211.27 L100.35 210.54 L98.8 209.85 L97.25 209.19 L95.7 208.57 L94.16 207.98 L92.61 207.42 L91.06 206.91 L89.52 206.43 L87.97 205.99 L86.42 205.59 L84.87 205.23 L83.33 204.91 L81.78 204.63 L80.23 204.39 L78.69 204.2 L77.14 204.05 L75.59 203.94 L74.04 203.87 L72.5 203.84 L70.95 203.86 L69.4 203.92 L67.86 204.02 L66.31 204.17 L64.76 204.36 L63.21 204.58 L61.67 204.85 L60.12 205.17 L58.57 205.52 L57.02 205.91 L55.48 206.34 L53.93 206.81 L52.38 207.32 L50.84 207.87 L49.29 208.45 L47.74 209.07 L46.19 209.72 L44.65 210.41 L43.1 211.13 Z" fill="#36AD32" stroke="none"/>
<path clip-path="url(#bandbb)" d="M39.77 209.67 L40.15 204.31 L40.52 218.9 L40.97 213.5 L43.21 207.83 L43.58 202.23 L43.96 217.54 L44.41 211.91 L46.64 206.28 L47.02 200.7 L47.4 216.02 L47.85 210.42 L50.08 204.9 L50.46 199.34 L50.84 214.68 L51.29 209.1 L53.52 203.7 L53.9 198.16 L54.28 213.52 L54.72 207.96 L56.96 202.68 L57.34 197.16 L57.72 212.54 L58.16 207.01 L60.4 201.86 L60.78 196.36 L61.15 211.76 L61.6 206.26 L63.84 201.24 L64.21 195.76 L64.59 211.19 L65.04 205.71 L67.27 200.82 L67.65 195.37 L68.03 210.82 L68.48 205.37 L70.71 200.62 L71.09 195.19 L71.47 210.66 L71.91 205.24 L74.15 200.62 L74.53 195.22 L74.91 210.71 L75.35 205.32 L77.59 200.84 L77.97 195.46 L78.34 210.97 L78.79 205.6 L81.03 201.26 L81.4 195.9 L81.78 211.44 L82.23 206.1 L84.46 201.89 L84.84 196.55 L85.22 212.12 L85.67 206.8 L87.9 202.72 L88.28 197.41 L88.66 212.99 L89.11 207.7 L91.34 203.75 L91.72 198.45 L92.1 214.06 L92.54 208.79 L94.78 204.96 L95.16 199.68 L95.54 215.31 L95.98 210.07 L98.22 206.35 L98.6 201.09 L98.97 216.74 L99.42 211.52 L101.66 207.9 L102.03 202.67 L102.41 218.33 L102.86 213.11 L105.09 209.76 L105.47 204.96 L105.85 219.42 L106.3 214.67 L108.53 211.83 L108.91 207.56 L109.29 220.58 L109.73 216.35 L111.97 214.04 L112.35 210.33 L112.73 221.8 L113.17 218.13 L115.41 216.38 L115.79 213.25 L116.16 223.1 L116.61 220.02 L118.85 218.83 L119.22 216.3 L119.6 224.45 L120.05 221.98 L122.28 221.36 L122.66 219.47 L123.04 225.85 L123.49 224.01 L125.72 223.97 L126.1 222.72 L126.48 227.29 L126.93 226.09 L129.16 226.63 L129.54 226.03 L129.92 228.75 L130.36 228.2 L132.6 229.31 L132.98 229.37 L133.36 230.22 L133.8 230.33 L136.04 232.01 L136.42 232.72 L136.79 231.7 L137.24 232.46 L139.48 234.7 L139.85 236.06 L140.23 233.17 L140.68 234.58 L142.91 237.35 L143.29 239.35 L143.67 234.62 L144.12 236.67 L146.35 239.95 L146.73 242.58 L147.11 236.03 L147.56 238.71 L149.79 242.49 L150.17 245.72 L150.55 237.41 L150.99 240.69 L153.23 244.93 L153.61 248.74 L153.98 238.74 L154.43 242.59 L156.67 247.26 L157.04 251.63 L157.42 240 L157.87 244.41 L160.1 249.47 L160.48 254.35 L160.86 241.19 L161.31 246.11 L163.54 251.53 L163.92 256.89 L164.3 242.3 L164.75 247.7 L166.98 253.37 L167.36 258.97 L167.74 243.66 L168.18 249.29 L170.42 254.92 L170.8 260.5 L171.18 245.18 L171.62 250.78 L173.86 256.3 L174.24 261.86 L174.61 246.52 L175.06 252.1 L177.3 257.5 L177.67 263.04 L178.05 247.68 L178.5 253.24 L180.73 258.52 L181.11 264.04 L181.49 248.66 L181.94 254.19 L184.17 259.34 L184.55 264.84 L184.93 249.44 L185.38 254.94 L187.61 259.96 L187.99 265.44 L188.37 250.01 L188.81 255.49 L191.05 260.38 L191.43 265.83 L191.8 250.38 L192.25 255.83 L194.49 260.58 L194.86 266.01 L195.24 250.54 L195.69 255.96 L197.92 260.58 L198.3 265.98 L198.68 250.49 L199.13 255.88 L201.36 260.36 L201.74 265.74 L202.12 250.23 L202.57 255.6 L204.8 259.94 L205.18 265.3 L205.56 249.76 L206 255.1 L208.24 259.31 L208.62 264.65 L209 249.08 L209.44 254.4 L211.68 258.48 L212.06 263.79 L212.43 248.21 L212.88 253.5 L215.12 257.45 L215.49 262.75 L215.87 247.14 L216.32 252.41 L218.55 256.24 L218.93 261.52 L219.31 245.89 L219.76 251.13 L221.99 254.85 L222.37 260.11 L222.75 244.46 L223.2 249.68 L225.43 253.3 L225.81 258.53 L226.19 242.87 L226.63 248.09 L228.87 251.44 L229.25 256.24 L229.62 241.78 L230.07 246.53 L232.31 249.37 L232.68 253.64 L233.06 240.62 L233.51 244.85 L235.74 247.16 L236.12 250.87 L236.5 239.4 L236.95 243.07 L239.18 244.82 L239.56 247.95 L239.94 238.1 L240.39 241.18 L242.62 242.37 L243 244.9 L243.38 236.75 L243.82 239.22 L246.06 239.84 L246.44 241.73 L246.82 235.35 L247.26 237.19 L249.5 237.23 L249.88 238.48 L250.25 233.91 L250.7 235.11 L252.94 234.57 L253.31 235.17 L253.69 232.45 L254.14 233 L256.37 231.89 L256.75 231.83 L257.13 230.98 L257.58 230.87 L259.81 229.19 L260.19 228.48 L260.57 229.5 L261.02 228.74 L263.25 226.5 L263.63 225.14 L264.01 228.03 L264.45 226.62 L266.69 223.85 L267.07 221.85 L267.44 226.58 L267.89 224.53 L270.13 221.25 L270.5 218.62 L270.88 225.17 L271.33 222.49 L273.56 218.71 L273.94 215.48 L274.32 223.79 L274.77 220.51 L277 216.27 L277.38 212.46 L277.76 222.46 L278.21 218.61 L280.44 213.94 L280.82 209.57 L281.2 221.2 L281.64 216.79 L283.88 211.73 L284.26 206.85 L284.64 220.01 L285.08 215.09 L287.32 209.67 L287.7 204.31 L288.07 218.9 L288.52 213.5 L290.76 207.83 L291.13 202.23 L291.51 217.54 L291.96 211.91 L294.19 206.28 L294.57 200.7 L294.95 216.02 L295.4 210.42 L297.63 204.9 L298.01 199.34 L298.39 214.68 L298.84 209.1 L301.07 203.7 L301.45 198.16 L301.83 213.52 L302.27 207.96 L304.51 202.68 L304.89 197.16 L305.27 212.54 L305.71 207.01 L307.95 201.86 L308.33 196.36 L308.7 211.76 L309.15 206.26 L311.39 201.24 L311.76 195.76 L312.14 211.19 L312.59 205.71 L314.82 200.82 L315.2 195.37 L315.58 210.82 L316.03 205.37 L318.26 200.62 L318.64 195.19 L319.02 210.66 L319.46 205.24 L321.7 200.62 L322.08 195.22 L322.46 210.71 L322.9 205.32 L325.14 200.84 L325.52 195.46 L325.89 210.97 L326.34 205.6 L328.58 201.26 L328.95 195.9 L329.33 211.44 L329.78 206.1 L332.01 201.89 L332.39 196.55 L332.77 212.12 L333.22 206.8 L335.45 202.72 L335.83 197.41 L336.21 212.99 L336.66 207.7 L338.89 203.75 L339.27 198.45 L339.65 214.06 L340.09 208.79 L342.33 204.96 L342.71 199.68 L343.09 215.31 L343.53 210.07 L345.77 206.35 L346.15 201.09 L346.52 216.74 L346.97 211.52 L349.21 207.9 L349.58 202.67 L349.96 218.33 L350.41 213.11 L352.64 209.76 L353.02 204.96 L353.4 219.42 L353.85 214.67 L356.08 211.83 L356.46 207.56 L356.84 220.58 L357.28 216.35 L359.52 214.04 L359.9 210.33 L360.28 221.8 L360.72 218.13 L362.96 216.38 L363.34 213.25 L363.71 223.1 L364.16 220.02 L366.4 218.83 L366.77 216.3 L367.15 224.45 L367.6 221.98 L369.83 221.36 L370.21 219.47 L370.59 225.85 L371.04 224.01 L373.27 223.97 L373.65 222.72 L374.03 227.29 L374.48 226.09 L376.71 226.63 L377.09 226.03 L377.47 228.75 L377.91 228.2 L380.15 229.31 L380.53 229.37 L380.91 230.22 L381.35 230.33 L383.59 232.01 L383.97 232.72 L384.34 231.7 L384.79 232.46 L387.03 234.7 L387.4 236.06 L387.78 233.17 L388.23 234.58 L390.46 237.35 L390.84 239.35 L391.22 234.62 L391.67 236.67 L393.9 239.95 L394.28 242.58 L394.66 236.03 L395.11 238.71 L397.34 242.49 L397.72 245.72 L398.1 237.41 L398.54 240.69 L400.78 244.93 L401.16 248.74 L401.53 238.74 L401.98 242.59 L404.22 247.26 L404.59 251.63 L404.97 240 L405.42 244.41 L407.65 249.47 L408.03 254.35 L408.41 241.19 L408.86 246.11 L411.09 251.53 L411.47 256.89 L411.85 242.3 L412.3 247.7 L414.53 253.37 L414.91 258.97 L415.29 243.66 L415.73 249.29 L417.97 254.92 L418.35 260.5 L418.73 245.18 L419.17 250.78 L421.41 256.3 L421.79 261.86 L422.16 246.52 L422.61 252.1 L424.85 257.5 L425.22 263.04 L425.6 247.68 L426.05 253.24 L428.28 258.52 L428.66 264.04 L429.04 248.66 L429.49 254.19 L431.72 259.34 L432.1 264.84 L432.48 249.44 L432.93 254.94 L435.16 259.96 L435.54 265.44 L435.92 250.01 L436.36 255.49 L438.6 260.38 L438.98 265.83 L439.35 250.38 L439.8 255.83 L442.04 260.58 L442.41 266.01 L442.79 250.54 L443.24 255.96 L445.47 260.58 L445.85 265.98 L446.23 250.49 L446.68 255.88 L448.91 260.36 L449.29 265.74 L449.67 250.23 L450.12 255.6 L452.35 259.94 L452.73 265.3 L453.11 249.76 L453.55 255.1 L455.79 259.31 L456.17 264.65 L456.55 249.08 L456.99 254.4 L459.23 258.48 L459.61 263.79 L459.98 248.21 L460.43 253.5 L462.67 257.45 L463.04 262.75 L463.42 247.14 L463.87 252.41 L466.1 256.24 L466.48 261.52 L466.86 245.89 L467.31 251.13 L469.54 254.85 L469.92 260.11 L470.3 244.46 L470.75 249.68 L472.98 253.3 L473.36 258.53 L473.74 242.87 L474.18 248.09 L476.42 251.44 L476.8 256.24 L477.17 241.78 L477.62 246.53 L479.86 249.37 L480.23 253.64 L480.61 240.62 L481.06 244.85 L483.29 247.16 L483.67 250.87 L484.05 239.4 L484.5 243.07 L486.73 244.82 L487.11 247.95 L487.49 238.1 L487.94 241.18 L490.17 242.37 L490.55 244.9 L490.93 236.75 L491.37 239.22 L493.61 239.84 L493.99 241.73 L494.37 235.35 L494.81 237.19 L497.05 237.23 L497.43 238.48 L497.8 233.91 L498.25 235.11 L500.49 234.57 L500.86 235.17 L501.24 232.45 L501.69 233 L503.92 231.89 L504.3 231.83 L504.68 230.98 L505.13 230.87 L507.36 229.19 L507.74 228.48 L508.12 229.5 L508.57 228.74 L510.8 226.5 L511.18 225.14 L511.56 228.03 L512 226.62 L514.24 223.85 L514.62 221.85 L514.99 226.58 L515.44 224.53 L517.68 221.25 L518.05 218.62 L518.43 225.17 L518.88 222.49 L521.11 218.71 L521.49 215.48 L521.87 223.79 L522.32 220.51 L524.55 216.27 L524.93 212.46 L525.31 222.46 L525.76 218.61 L527.99 213.94 L528.37 209.57 L528.75 221.2 L529.19 216.79 L531.43 211.73 L531.81 206.85 L532.19 220.01 L532.63 215.09 L534.87 209.67 L535.25 204.31 L535.62 218.9 L536.07 213.5 L538.31 207.83 L538.68 202.23 L539.06 217.54 L539.51 211.91 L541.74 206.28" stroke="#36AD32" stroke-width="1.15" stroke-linejoin="bevel"/>
<clipPath id="bandba"><path d="M43.1 225.88 L44.65 227.03 L46.19 228.18 L47.74 229.33 L49.29 230.49 L50.84 231.65 L52.38 232.81 L53.93 233.96 L55.48 235.11 L57.02 236.25 L58.57 237.38 L60.12 238.5 L61.67 239.61 L63.21 240.71 L64.76 241.79 L66.31 242.85 L67.86 243.89 L69.4 244.92 L70.95 245.92 L72.5 246.9 L74.04 247.85 L75.59 248.77 L77.14 249.67 L78.69 250.54 L80.23 251.38 L81.78 252.08 L83.33 252.61 L84.87 253.12 L86.42 253.61 L87.97 254.07 L89.52 254.5 L91.06 254.91 L92.61 255.29 L94.16 255.64 L95.7 255.97 L97.25 256.26 L98.8 256.53 L100.35 256.76 L101.89 256.97 L103.44 257.14 L104.99 257.29 L106.53 257.4 L108.08 257.48 L109.63 257.53 L111.18 257.55 L112.72 257.54 L114.27 257.49 L115.82 257.42 L117.37 257.31 L118.91 257.17 L120.46 257 L122.01 256.8 L123.55 256.57 L125.1 256.31 L126.65 256.03 L128.2 255.71 L129.74 255.36 L131.29 254.98 L132.84 254.58 L134.38 254.15 L135.93 253.7 L137.48 253.21 L139.03 252.71 L140.57 252.18 L142.12 251.53 L143.67 250.7 L145.21 249.84 L146.76 248.94 L148.31 248.02 L149.86 247.08 L151.4 246.1 L152.95 245.11 L154.5 244.09 L156.04 243.05 L157.59 241.99 L159.14 240.91 L160.69 239.82 L162.23 238.71 L163.78 237.59 L165.33 236.46 L166.88 235.32 L168.42 234.17 L169.97 233.02 L171.52 231.87 L173.06 230.71 L174.61 229.55 L176.16 228.39 L177.71 227.24 L179.25 226.09 L180.8 224.95 L182.35 223.82 L183.89 222.7 L185.44 221.59 L186.99 220.49 L188.54 219.41 L190.08 218.35 L191.63 217.31 L193.18 216.28 L194.72 215.28 L196.27 214.3 L197.82 213.35 L199.37 212.43 L200.91 211.53 L202.46 210.66 L204.01 209.82 L205.55 209.12 L207.1 208.59 L208.65 208.08 L210.2 207.59 L211.74 207.13 L213.29 206.7 L214.84 206.29 L216.38 205.91 L217.93 205.56 L219.48 205.23 L221.03 204.94 L222.57 204.67 L224.12 204.44 L225.67 204.23 L227.22 204.06 L228.76 203.91 L230.31 203.8 L231.86 203.72 L233.4 203.67 L234.95 203.65 L236.5 203.66 L238.05 203.71 L239.59 203.78 L241.14 203.89 L242.69 204.03 L244.23 204.2 L245.78 204.4 L247.33 204.63 L248.88 204.89 L250.42 205.17 L251.97 205.49 L253.52 205.84 L255.06 206.22 L256.61 206.62 L258.16 207.05 L259.71 207.5 L261.25 207.99 L262.8 208.49 L264.35 209.02 L265.9 209.67 L267.44 210.5 L268.99 211.36 L270.54 212.26 L272.08 213.18 L273.63 214.12 L275.18 215.1 L276.73 216.09 L278.27 217.11 L279.82 218.15 L281.37 219.21 L282.91 220.29 L284.46 221.38 L286.01 222.49 L287.56 223.61 L289.1 224.74 L290.65 225.88 L292.2 227.03 L293.74 228.18 L295.29 229.33 L296.84 230.49 L298.39 231.65 L299.93 232.81 L301.48 233.96 L303.03 235.11 L304.57 236.25 L306.12 237.38 L307.67 238.5 L309.22 239.61 L310.76 240.71 L312.31 241.79 L313.86 242.85 L315.41 243.89 L316.95 244.92 L318.5 245.92 L320.05 246.9 L321.59 247.85 L323.14 248.77 L324.69 249.67 L326.24 250.54 L327.78 251.38 L329.33 252.08 L330.88 252.61 L332.42 253.12 L333.97 253.61 L335.52 254.07 L337.07 254.5 L338.61 254.91 L340.16 255.29 L341.71 255.64 L343.25 255.97 L344.8 256.26 L346.35 256.53 L347.9 256.76 L349.44 256.97 L350.99 257.14 L352.54 257.29 L354.08 257.4 L355.63 257.48 L357.18 257.53 L358.73 257.55 L360.27 257.54 L361.82 257.49 L363.37 257.42 L364.92 257.31 L366.46 257.17 L368.01 257 L369.56 256.8 L371.1 256.57 L372.65 256.31 L374.2 256.03 L375.75 255.71 L377.29 255.36 L378.84 254.98 L380.39 254.58 L381.93 254.15 L383.48 253.7 L385.03 253.21 L386.58 252.71 L388.12 252.18 L389.67 251.53 L391.22 250.7 L392.76 249.84 L394.31 248.94 L395.86 248.02 L397.41 247.08 L398.95 246.1 L400.5 245.11 L402.05 244.09 L403.59 243.05 L405.14 241.99 L406.69 240.91 L408.24 239.82 L409.78 238.71 L411.33 237.59 L412.88 236.46 L414.43 235.32 L415.97 234.17 L417.52 233.02 L419.07 231.87 L420.61 230.71 L422.16 229.55 L423.71 228.39 L425.26 227.24 L426.8 226.09 L428.35 224.95 L429.9 223.82 L431.44 222.7 L432.99 221.59 L434.54 220.49 L436.09 219.41 L437.63 218.35 L439.18 217.31 L440.73 216.28 L442.27 215.28 L443.82 214.3 L445.37 213.35 L446.92 212.43 L448.46 211.53 L450.01 210.66 L451.56 209.82 L453.1 209.12 L454.65 208.59 L456.2 208.08 L457.75 207.59 L459.29 207.13 L460.84 206.7 L462.39 206.29 L463.94 205.91 L465.48 205.56 L467.03 205.23 L468.58 204.94 L470.12 204.67 L471.67 204.44 L473.22 204.23 L474.77 204.06 L476.31 203.91 L477.86 203.8 L479.41 203.72 L480.95 203.67 L482.5 203.65 L484.05 203.66 L485.6 203.71 L487.14 203.78 L488.69 203.89 L490.24 204.03 L491.78 204.2 L493.33 204.4 L494.88 204.63 L496.43 204.89 L497.97 205.17 L499.52 205.49 L501.07 205.84 L502.61 206.22 L504.16 206.62 L505.71 207.05 L507.26 207.5 L508.8 207.99 L510.35 208.49 L511.9 209.02 L513.45 209.67 L514.99 210.5 L516.54 211.36 L518.09 212.26 L519.63 213.18 L521.18 214.12 L522.73 215.1 L524.28 216.09 L525.82 217.11 L527.37 218.15 L528.92 219.21 L530.46 220.29 L532.01 221.38 L533.56 222.49 L535.11 223.61 L536.65 224.74 L538.2 225.88 L538.2 228.79 L536.65 228.35 L535.11 227.92 L533.56 227.49 L532.01 227.06 L530.46 226.64 L528.92 226.23 L527.37 225.82 L525.82 225.42 L524.28 225.03 L522.73 224.65 L521.18 224.27 L519.63 223.91 L518.09 223.56 L516.54 223.21 L514.99 222.88 L513.45 222.56 L511.9 222.1 L510.35 221.57 L508.8 221.07 L507.26 220.58 L505.71 220.13 L504.16 219.7 L502.61 219.3 L501.07 218.92 L499.52 218.57 L497.97 218.25 L496.43 217.97 L494.88 217.71 L493.33 217.48 L491.78 217.28 L490.24 217.11 L488.69 216.97 L487.14 216.86 L485.6 216.79 L484.05 216.74 L482.5 216.73 L480.95 216.75 L479.41 216.8 L477.86 216.88 L476.31 216.99 L474.77 217.14 L473.22 217.31 L471.67 217.52 L470.12 217.75 L468.58 218.02 L467.03 218.31 L465.48 218.64 L463.94 218.99 L462.39 219.37 L460.84 219.78 L459.29 220.21 L457.75 220.67 L456.2 221.16 L454.65 221.67 L453.1 222.2 L451.56 222.62 L450.01 222.94 L448.46 223.28 L446.92 223.62 L445.37 223.98 L443.82 224.34 L442.27 224.72 L440.73 225.1 L439.18 225.49 L437.63 225.9 L436.09 226.3 L434.54 226.72 L432.99 227.14 L431.44 227.57 L429.9 228 L428.35 228.43 L426.8 228.87 L425.26 229.31 L423.71 229.75 L422.16 230.2 L420.61 230.64 L419.07 231.09 L417.52 231.53 L415.97 231.97 L414.43 232.41 L412.88 232.85 L411.33 233.28 L409.78 233.71 L408.24 234.14 L406.69 234.56 L405.14 234.97 L403.59 235.38 L402.05 235.78 L400.5 236.17 L398.95 236.55 L397.41 236.93 L395.86 237.29 L394.31 237.64 L392.76 237.99 L391.22 238.32 L389.67 238.64 L388.12 239.1 L386.58 239.63 L385.03 240.13 L383.48 240.62 L381.93 241.07 L380.39 241.5 L378.84 241.9 L377.29 242.28 L375.75 242.63 L374.2 242.95 L372.65 243.23 L371.1 243.49 L369.56 243.72 L368.01 243.92 L366.46 244.09 L364.92 244.23 L363.37 244.34 L361.82 244.41 L360.27 244.46 L358.73 244.47 L357.18 244.45 L355.63 244.4 L354.08 244.32 L352.54 244.21 L350.99 244.06 L349.44 243.89 L347.9 243.68 L346.35 243.45 L344.8 243.18 L343.25 242.89 L341.71 242.56 L340.16 242.21 L338.61 241.83 L337.07 241.42 L335.52 240.99 L333.97 240.53 L332.42 240.04 L330.88 239.53 L329.33 239 L327.78 238.58 L326.24 238.26 L324.69 237.92 L323.14 237.58 L321.59 237.22 L320.05 236.86 L318.5 236.48 L316.95 236.1 L315.41 235.71 L313.86 235.3 L312.31 234.9 L310.76 234.48 L309.22 234.06 L307.67 233.63 L306.12 233.2 L304.57 232.77 L303.03 232.33 L301.48 231.89 L299.93 231.45 L298.39 231 L296.84 230.56 L295.29 230.11 L293.74 229.67 L292.2 229.23 L290.65 228.79 L289.1 228.35 L287.56 227.92 L286.01 227.49 L284.46 227.06 L282.91 226.64 L281.37 226.23 L279.82 225.82 L278.27 225.42 L276.73 225.03 L275.18 224.65 L273.63 224.27 L272.08 223.91 L270.54 223.56 L268.99 223.21 L267.44 222.88 L265.9 222.56 L264.35 222.1 L262.8 221.57 L261.25 221.07 L259.71 220.58 L258.16 220.13 L256.61 219.7 L255.06 219.3 L253.52 218.92 L251.97 218.57 L250.42 218.25 L248.88 217.97 L247.33 217.71 L245.78 217.48 L244.23 217.28 L242.69 217.11 L241.14 216.97 L239.59 216.86 L238.05 216.79 L236.5 216.74 L234.95 216.73 L233.4 216.75 L231.86 216.8 L230.31 216.88 L228.76 216.99 L227.22 217.14 L225.67 217.31 L224.12 217.52 L222.57 217.75 L221.03 218.02 L219.48 218.31 L217.93 218.64 L216.38 218.99 L214.84 219.37 L213.29 219.78 L211.74 220.21 L210.2 220.67 L208.65 221.16 L207.1 221.67 L205.55 222.2 L204.01 222.62 L202.46 222.94 L200.91 223.28 L199.37 223.62 L197.82 223.98 L196.27 224.34 L194.72 224.72 L193.18 225.1 L191.63 225.49 L190.08 225.9 L188.54 226.3 L186.99 226.72 L185.44 227.14 L183.89 227.57 L182.35 228 L180.8 228.43 L179.25 228.87 L177.71 229.31 L176.16 229.75 L174.61 230.2 L173.06 230.64 L171.52 231.09 L169.97 231.53 L168.42 231.97 L166.88 232.41 L165.33 232.85 L163.78 233.28 L162.23 233.71 L160.69 234.14 L159.14 234.56 L157.59 234.97 L156.04 235.38 L154.5 235.78 L152.95 236.17 L151.4 236.55 L149.86 236.93 L148.31 237.29 L146.76 237.64 L145.21 237.99 L143.67 238.32 L142.12 238.64 L140.57 239.1 L139.03 239.63 L137.48 240.13 L135.93 240.62 L134.38 241.07 L132.84 241.5 L131.29 241.9 L129.74 242.28 L128.2 242.63 L126.65 242.95 L125.1 243.23 L123.55 243.49 L122.01 243.72 L120.46 243.92 L118.91 244.09 L117.37 244.23 L115.82 244.34 L114.27 244.41 L112.72 244.46 L111.18 244.47 L109.63 244.45 L108.08 244.4 L106.53 244.32 L104.99 244.21 L103.44 244.06 L101.89 243.89 L100.35 243.68 L98.8 243.45 L97.25 243.18 L95.7 242.89 L94.16 242.56 L92.61 242.21 L91.06 241.83 L89.52 241.42 L87.97 240.99 L86.42 240.53 L84.87 240.04 L83.33 239.53 L81.78 239 L80.23 238.58 L78.69 238.26 L77.14 237.92 L75.59 237.58 L74.04 237.22 L72.5 236.86 L70.95 236.48 L69.4 236.1 L67.86 235.71 L66.31 235.3 L64.76 234.9 L63.21 234.48 L61.67 234.06 L60.12 233.63 L58.57 233.2 L57.02 232.77 L55.48 232.33 L53.93 231.89 L52.38 231.45 L50.84 231 L49.29 230.56 L47.74 230.11 L46.19 229.67 L44.65 229.23 L43.1 228.79 Z"/></clipPath>
<path d="M43.1 227.1 L44.65 227.95 L46.19 228.8 L47.74 229.66 L49.29 230.52 L50.84 231.38 L52.38 232.24 L53.93 233.09 L55.48 233.94 L57.02 234.79 L58.57 235.63 L60.12 236.46 L61.67 237.28 L63.21 238.09 L64.76 238.89 L66.31 239.68 L67.86 240.45 L69.4 241.21 L70.95 241.96 L72.5 242.68 L74.04 243.39 L75.59 244.07 L77.14 244.74 L78.69 245.38 L80.23 246 L81.78 246.58 L83.33 247.12 L84.87 247.63 L86.42 248.11 L87.97 248.58 L89.52 249.01 L91.06 249.42 L92.61 249.8 L94.16 250.15 L95.7 250.47 L97.25 250.77 L98.8 251.03 L100.35 251.27 L101.89 251.48 L103.44 251.65 L104.99 251.79 L106.53 251.91 L108.08 251.99 L109.63 252.04 L111.18 252.06 L112.72 252.04 L114.27 252 L115.82 251.92 L117.37 251.82 L118.91 251.68 L120.46 251.51 L122.01 251.31 L123.55 251.08 L125.1 250.82 L126.65 250.53 L128.2 250.21 L129.74 249.87 L131.29 249.49 L132.84 249.09 L134.38 248.66 L135.93 248.2 L137.48 247.72 L139.03 247.21 L140.57 246.68 L142.12 246.12 L143.67 245.5 L145.21 244.86 L146.76 244.2 L148.31 243.52 L149.86 242.81 L151.4 242.09 L152.95 241.35 L154.5 240.6 L156.04 239.83 L157.59 239.04 L159.14 238.24 L160.69 237.43 L162.23 236.61 L163.78 235.78 L165.33 234.94 L166.88 234.1 L168.42 233.25 L169.97 232.4 L171.52 231.54 L173.06 230.68 L174.61 229.82 L176.16 228.96 L177.71 228.11 L179.25 227.26 L180.8 226.41 L182.35 225.57 L183.89 224.74 L185.44 223.92 L186.99 223.11 L188.54 222.31 L190.08 221.52 L191.63 220.75 L193.18 219.99 L194.72 219.24 L196.27 218.52 L197.82 217.81 L199.37 217.13 L200.91 216.46 L202.46 215.82 L204.01 215.2 L205.55 214.62 L207.1 214.08 L208.65 213.57 L210.2 213.09 L211.74 212.62 L213.29 212.19 L214.84 211.78 L216.38 211.4 L217.93 211.05 L219.48 210.73 L221.03 210.43 L222.57 210.17 L224.12 209.93 L225.67 209.72 L227.22 209.55 L228.76 209.41 L230.31 209.29 L231.86 209.21 L233.4 209.16 L234.95 209.14 L236.5 209.16 L238.05 209.2 L239.59 209.28 L241.14 209.38 L242.69 209.52 L244.23 209.69 L245.78 209.89 L247.33 210.12 L248.88 210.38 L250.42 210.67 L251.97 210.99 L253.52 211.33 L255.06 211.71 L256.61 212.11 L258.16 212.54 L259.71 213 L261.25 213.48 L262.8 213.99 L264.35 214.52 L265.9 215.08 L267.44 215.7 L268.99 216.34 L270.54 217 L272.08 217.68 L273.63 218.39 L275.18 219.11 L276.73 219.85 L278.27 220.6 L279.82 221.37 L281.37 222.16 L282.91 222.96 L284.46 223.77 L286.01 224.59 L287.56 225.42 L289.1 226.26 L290.65 227.1 L292.2 227.95 L293.74 228.8 L295.29 229.66 L296.84 230.52 L298.39 231.38 L299.93 232.24 L301.48 233.09 L303.03 233.94 L304.57 234.79 L306.12 235.63 L307.67 236.46 L309.22 237.28 L310.76 238.09 L312.31 238.89 L313.86 239.68 L315.41 240.45 L316.95 241.21 L318.5 241.96 L320.05 242.68 L321.59 243.39 L323.14 244.07 L324.69 244.74 L326.24 245.38 L327.78 246 L329.33 246.58 L330.88 247.12 L332.42 247.63 L333.97 248.11 L335.52 248.58 L337.07 249.01 L338.61 249.42 L340.16 249.8 L341.71 250.15 L343.25 250.47 L344.8 250.77 L346.35 251.03 L347.9 251.27 L349.44 251.48 L350.99 251.65 L352.54 251.79 L354.08 251.91 L355.63 251.99 L357.18 252.04 L358.73 252.06 L360.27 252.04 L361.82 252 L363.37 251.92 L364.92 251.82 L366.46 251.68 L368.01 251.51 L369.56 251.31 L371.1 251.08 L372.65 250.82 L374.2 250.53 L375.75 250.21 L377.29 249.87 L378.84 249.49 L380.39 249.09 L381.93 248.66 L383.48 248.2 L385.03 247.72 L386.58 247.21 L388.12 246.68 L389.67 246.12 L391.22 245.5 L392.76 244.86 L394.31 244.2 L395.86 243.52 L397.41 242.81 L398.95 242.09 L400.5 241.35 L402.05 240.6 L403.59 239.83 L405.14 239.04 L406.69 238.24 L408.24 237.43 L409.78 236.61 L411.33 235.78 L412.88 234.94 L414.43 234.1 L415.97 233.25 L417.52 232.4 L419.07 231.54 L420.61 230.68 L422.16 229.82 L423.71 228.96 L425.26 228.11 L426.8 227.26 L428.35 226.41 L429.9 225.57 L431.44 224.74 L432.99 223.92 L434.54 223.11 L436.09 222.31 L437.63 221.52 L439.18 220.75 L440.73 219.99 L442.27 219.24 L443.82 218.52 L445.37 217.81 L446.92 217.13 L448.46 216.46 L450.01 215.82 L451.56 215.2 L453.1 214.62 L454.65 214.08 L456.2 213.57 L457.75 213.09 L459.29 212.62 L460.84 212.19 L462.39 211.78 L463.94 211.4 L465.48 211.05 L467.03 210.73 L468.58 210.43 L470.12 210.17 L471.67 209.93 L473.22 209.72 L474.77 209.55 L476.31 209.41 L477.86 209.29 L479.41 209.21 L480.95 209.16 L482.5 209.14 L484.05 209.16 L485.6 209.2 L487.14 209.28 L488.69 209.38 L490.24 209.52 L491.78 209.69 L493.33 209.89 L494.88 210.12 L496.43 210.38 L497.97 210.67 L499.52 210.99 L501.07 211.33 L502.61 211.71 L504.16 212.11 L505.71 212.54 L507.26 213 L508.8 213.48 L510.35 213.99 L511.9 214.52 L513.45 215.08 L514.99 215.7 L516.54 216.34 L518.09 217 L519.63 217.68 L521.18 218.39 L522.73 219.11 L524.28 219.85 L525.82 220.6 L527.37 221.37 L528.92 222.16 L530.46 222.96 L532.01 223.77 L533.56 224.59 L535.11 225.42 L536.65 226.26 L538.2 227.1 L538.2 227.57 L536.65 226.83 L535.11 226.11 L533.56 225.39 L532.01 224.68 L530.46 223.97 L528.92 223.28 L527.37 222.6 L525.82 221.93 L524.28 221.28 L522.73 220.64 L521.18 220.01 L519.63 219.4 L518.09 218.81 L516.54 218.24 L514.99 217.68 L513.45 217.15 L511.9 216.61 L510.35 216.08 L508.8 215.57 L507.26 215.09 L505.71 214.63 L504.16 214.2 L502.61 213.8 L501.07 213.43 L499.52 213.08 L497.97 212.76 L496.43 212.47 L494.88 212.21 L493.33 211.98 L491.78 211.78 L490.24 211.61 L488.69 211.48 L487.14 211.37 L485.6 211.29 L484.05 211.25 L482.5 211.24 L480.95 211.25 L479.41 211.31 L477.86 211.39 L476.31 211.5 L474.77 211.64 L473.22 211.82 L471.67 212.02 L470.12 212.26 L468.58 212.52 L467.03 212.82 L465.48 213.14 L463.94 213.49 L462.39 213.88 L460.84 214.28 L459.29 214.72 L457.75 215.18 L456.2 215.66 L454.65 216.18 L453.1 216.71 L451.56 217.24 L450.01 217.78 L448.46 218.34 L446.92 218.92 L445.37 219.51 L443.82 220.13 L442.27 220.75 L440.73 221.4 L439.18 222.06 L437.63 222.73 L436.09 223.41 L434.54 224.1 L432.99 224.81 L431.44 225.52 L429.9 226.24 L428.35 226.97 L426.8 227.7 L425.26 228.44 L423.71 229.18 L422.16 229.93 L420.61 230.67 L419.07 231.41 L417.52 232.16 L415.97 232.9 L414.43 233.63 L412.88 234.37 L411.33 235.09 L409.78 235.81 L408.24 236.52 L406.69 237.23 L405.14 237.92 L403.59 238.6 L402.05 239.27 L400.5 239.92 L398.95 240.56 L397.41 241.19 L395.86 241.8 L394.31 242.39 L392.76 242.96 L391.22 243.52 L389.67 244.05 L388.12 244.59 L386.58 245.12 L385.03 245.63 L383.48 246.11 L381.93 246.57 L380.39 247 L378.84 247.4 L377.29 247.77 L375.75 248.12 L374.2 248.44 L372.65 248.73 L371.1 248.99 L369.56 249.22 L368.01 249.42 L366.46 249.59 L364.92 249.72 L363.37 249.83 L361.82 249.91 L360.27 249.95 L358.73 249.96 L357.18 249.95 L355.63 249.89 L354.08 249.81 L352.54 249.7 L350.99 249.56 L349.44 249.38 L347.9 249.18 L346.35 248.94 L344.8 248.68 L343.25 248.38 L341.71 248.06 L340.16 247.71 L338.61 247.32 L337.07 246.92 L335.52 246.48 L333.97 246.02 L332.42 245.54 L330.88 245.02 L329.33 244.49 L327.78 243.96 L326.24 243.42 L324.69 242.86 L323.14 242.28 L321.59 241.69 L320.05 241.07 L318.5 240.45 L316.95 239.8 L315.41 239.14 L313.86 238.47 L312.31 237.79 L310.76 237.1 L309.22 236.39 L307.67 235.68 L306.12 234.96 L304.57 234.23 L303.03 233.5 L301.48 232.76 L299.93 232.02 L298.39 231.27 L296.84 230.53 L295.29 229.79 L293.74 229.04 L292.2 228.3 L290.65 227.57 L289.1 226.83 L287.56 226.11 L286.01 225.39 L284.46 224.68 L282.91 223.97 L281.37 223.28 L279.82 222.6 L278.27 221.93 L276.73 221.28 L275.18 220.64 L273.63 220.01 L272.08 219.4 L270.54 218.81 L268.99 218.24 L267.44 217.68 L265.9 217.15 L264.35 216.61 L262.8 216.08 L261.25 215.57 L259.71 215.09 L258.16 214.63 L256.61 214.2 L255.06 213.8 L253.52 213.43 L251.97 213.08 L250.42 212.76 L248.88 212.47 L247.33 212.21 L245.78 211.98 L244.23 211.78 L242.69 211.61 L241.14 211.48 L239.59 211.37 L238.05 211.29 L236.5 211.25 L234.95 211.24 L233.4 211.25 L231.86 211.31 L230.31 211.39 L228.76 211.5 L227.22 211.64 L225.67 211.82 L224.12 212.02 L222.57 212.26 L221.03 212.52 L219.48 212.82 L217.93 213.14 L216.38 213.49 L214.84 213.88 L213.29 214.28 L211.74 214.72 L210.2 215.18 L208.65 215.66 L207.1 216.18 L205.55 216.71 L204.01 217.24 L202.46 217.78 L200.91 218.34 L199.37 218.92 L197.82 219.51 L196.27 220.13 L194.72 220.75 L193.18 221.4 L191.63 222.06 L190.08 222.73 L188.54 223.41 L186.99 224.1 L185.44 224.81 L183.89 225.52 L182.35 226.24 L180.8 226.97 L179.25 227.7 L177.71 228.44 L176.16 229.18 L174.61 229.93 L173.06 230.67 L171.52 231.41 L169.97 232.16 L168.42 232.9 L166.88 233.63 L165.33 234.37 L163.78 235.09 L162.23 235.81 L160.69 236.52 L159.14 237.23 L157.59 237.92 L156.04 238.6 L154.5 239.27 L152.95 239.92 L151.4 240.56 L149.86 241.19 L148.31 241.8 L146.76 242.39 L145.21 242.96 L143.67 243.52 L142.12 244.05 L140.57 244.59 L139.03 245.12 L137.48 245.63 L135.93 246.11 L134.38 246.57 L132.84 247 L131.29 247.4 L129.74 247.77 L128.2 248.12 L126.65 248.44 L125.1 248.73 L123.55 248.99 L122.01 249.22 L120.46 249.42 L118.91 249.59 L117.37 249.72 L115.82 249.83 L114.27 249.91 L112.72 249.95 L111.18 249.96 L109.63 249.95 L108.08 249.89 L106.53 249.81 L104.99 249.7 L103.44 249.56 L101.89 249.38 L100.35 249.18 L98.8 248.94 L97.25 248.68 L95.7 248.38 L94.16 248.06 L92.61 247.71 L91.06 247.32 L89.52 246.92 L87.97 246.48 L86.42 246.02 L84.87 245.54 L83.33 245.02 L81.78 244.49 L80.23 243.96 L78.69 243.42 L77.14 242.86 L75.59 242.28 L74.04 241.69 L72.5 241.07 L70.95 240.45 L69.4 239.8 L67.86 239.14 L66.31 238.47 L64.76 237.79 L63.21 237.1 L61.67 236.39 L60.12 235.68 L58.57 234.96 L57.02 234.23 L55.48 233.5 L53.93 232.76 L52.38 232.02 L50.84 231.27 L49.29 230.53 L47.74 229.79 L46.19 229.04 L44.65 228.3 L43.1 227.57 Z" fill="#0072BD" stroke="none"/>
<path clip-path="url(#bandba)" d="M39.77 224.98 L40.15 223.71 L40.52 228.06 L40.97 226.83 L43.21 226.96 L43.58 226.24 L43.96 229.03 L44.41 228.35 L46.64 228.96 L47.02 228.8 L47.4 230.02 L47.85 229.89 L50.08 230.98 L50.46 231.37 L50.84 231 L51.29 231.43 L53.52 233 L53.9 233.94 L54.28 231.99 L54.72 232.97 L56.96 234.99 L57.34 236.48 L57.72 232.96 L58.16 234.49 L60.4 236.96 L60.78 238.97 L61.15 233.92 L61.6 235.98 L63.84 238.87 L64.21 241.41 L64.59 234.85 L65.04 237.42 L67.27 240.72 L67.65 243.76 L68.03 235.75 L68.48 238.82 L70.71 242.5 L71.09 246.01 L71.47 236.61 L71.91 240.15 L74.15 244.18 L74.53 248.14 L74.91 237.42 L75.35 241.41 L77.59 245.76 L77.97 250.14 L78.34 238.19 L78.79 242.59 L81.03 247.23 L81.4 251.94 L81.78 239 L82.23 243.73 L84.46 248.41 L84.84 253.11 L85.22 240.15 L85.67 244.87 L87.9 249.47 L88.28 254.16 L88.66 241.19 L89.11 245.89 L91.34 250.4 L91.72 255.08 L92.1 242.09 L92.54 246.77 L94.78 251.2 L95.16 255.86 L95.54 242.85 L95.98 247.52 L98.22 251.85 L98.6 256.49 L98.97 243.48 L99.42 248.12 L101.66 252.36 L102.03 256.99 L102.41 243.95 L102.86 248.58 L105.09 252.72 L105.47 257.33 L105.85 244.27 L106.3 248.88 L108.53 252.92 L108.91 257.51 L109.29 244.44 L109.73 249.03 L111.97 252.97 L112.35 257.54 L112.73 244.46 L113.17 249.03 L115.41 252.86 L115.79 257.42 L116.16 244.32 L116.61 248.86 L118.85 252.6 L119.22 257.14 L119.6 244.02 L120.05 248.55 L122.28 252.19 L122.66 256.71 L123.04 243.57 L123.49 248.08 L125.72 251.62 L126.1 256.13 L126.48 242.98 L126.93 247.47 L129.16 250.92 L129.54 255.41 L129.92 242.24 L130.36 246.71 L132.6 250.07 L132.98 254.54 L133.36 241.36 L133.8 245.81 L136.04 249.09 L136.42 253.55 L136.79 240.35 L137.24 244.79 L139.48 247.98 L139.85 252.43 L140.23 239.22 L140.68 243.64 L142.91 246.69 L143.29 250.9 L143.67 238.32 L144.12 242.5 L146.35 245.18 L146.73 248.96 L147.11 237.57 L147.56 241.32 L149.79 243.56 L150.17 246.88 L150.55 236.76 L150.99 240.05 L153.23 241.84 L153.61 244.68 L153.98 235.91 L154.43 238.71 L156.67 240.03 L157.04 242.36 L157.42 235.02 L157.87 237.31 L160.1 238.15 L160.48 239.96 L160.86 234.09 L161.31 235.86 L163.54 236.22 L163.92 237.49 L164.3 233.14 L164.75 234.37 L166.98 234.24 L167.36 234.96 L167.74 232.17 L168.18 232.85 L170.42 232.24 L170.8 232.4 L171.18 231.18 L171.62 231.31 L173.86 230.22 L174.24 229.83 L174.61 230.2 L175.06 229.77 L177.3 228.2 L177.67 227.26 L178.05 229.21 L178.5 228.23 L180.73 226.21 L181.11 224.72 L181.49 228.24 L181.94 226.71 L184.17 224.24 L184.55 222.23 L184.93 227.28 L185.38 225.22 L187.61 222.33 L187.99 219.79 L188.37 226.35 L188.81 223.78 L191.05 220.48 L191.43 217.44 L191.8 225.45 L192.25 222.38 L194.49 218.7 L194.86 215.19 L195.24 224.59 L195.69 221.05 L197.92 217.02 L198.3 213.06 L198.68 223.78 L199.13 219.79 L201.36 215.44 L201.74 211.06 L202.12 223.01 L202.57 218.61 L204.8 213.97 L205.18 209.26 L205.56 222.2 L206 217.47 L208.24 212.79 L208.62 208.09 L209 221.05 L209.44 216.33 L211.68 211.73 L212.06 207.04 L212.43 220.01 L212.88 215.31 L215.12 210.8 L215.49 206.12 L215.87 219.11 L216.32 214.43 L218.55 210 L218.93 205.34 L219.31 218.35 L219.76 213.68 L221.99 209.35 L222.37 204.71 L222.75 217.72 L223.2 213.08 L225.43 208.84 L225.81 204.21 L226.19 217.25 L226.63 212.62 L228.87 208.48 L229.25 203.87 L229.62 216.93 L230.07 212.32 L232.31 208.28 L232.68 203.69 L233.06 216.76 L233.51 212.17 L235.74 208.23 L236.12 203.66 L236.5 216.74 L236.95 212.17 L239.18 208.34 L239.56 203.78 L239.94 216.88 L240.39 212.34 L242.62 208.6 L243 204.06 L243.38 217.18 L243.82 212.65 L246.06 209.01 L246.44 204.49 L246.82 217.63 L247.26 213.12 L249.5 209.58 L249.88 205.07 L250.25 218.22 L250.7 213.73 L252.94 210.28 L253.31 205.79 L253.69 218.96 L254.14 214.49 L256.37 211.13 L256.75 206.66 L257.13 219.84 L257.58 215.39 L259.81 212.11 L260.19 207.65 L260.57 220.85 L261.02 216.41 L263.25 213.22 L263.63 208.77 L264.01 221.98 L264.45 217.56 L266.69 214.51 L267.07 210.3 L267.44 222.88 L267.89 218.7 L270.13 216.02 L270.5 212.24 L270.88 223.63 L271.33 219.88 L273.56 217.64 L273.94 214.32 L274.32 224.44 L274.77 221.15 L277 219.36 L277.38 216.52 L277.76 225.29 L278.21 222.49 L280.44 221.17 L280.82 218.84 L281.2 226.18 L281.64 223.89 L283.88 223.05 L284.26 221.24 L284.64 227.11 L285.08 225.34 L287.32 224.98 L287.7 223.71 L288.07 228.06 L288.52 226.83 L290.76 226.96 L291.13 226.24 L291.51 229.03 L291.96 228.35 L294.19 228.96 L294.57 228.8 L294.95 230.02 L295.4 229.89 L297.63 230.98 L298.01 231.37 L298.39 231 L298.84 231.43 L301.07 233 L301.45 233.94 L301.83 231.99 L302.27 232.97 L304.51 234.99 L304.89 236.48 L305.27 232.96 L305.71 234.49 L307.95 236.96 L308.33 238.97 L308.7 233.92 L309.15 235.98 L311.39 238.87 L311.76 241.41 L312.14 234.85 L312.59 237.42 L314.82 240.72 L315.2 243.76 L315.58 235.75 L316.03 238.82 L318.26 242.5 L318.64 246.01 L319.02 236.61 L319.46 240.15 L321.7 244.18 L322.08 248.14 L322.46 237.42 L322.9 241.41 L325.14 245.76 L325.52 250.14 L325.89 238.19 L326.34 242.59 L328.58 247.23 L328.95 251.94 L329.33 239 L329.78 243.73 L332.01 248.41 L332.39 253.11 L332.77 240.15 L333.22 244.87 L335.45 249.47 L335.83 254.16 L336.21 241.19 L336.66 245.89 L338.89 250.4 L339.27 255.08 L339.65 242.09 L340.09 246.77 L342.33 251.2 L342.71 255.86 L343.09 242.85 L343.53 247.52 L345.77 251.85 L346.15 256.49 L346.52 243.48 L346.97 248.12 L349.21 252.36 L349.58 256.99 L349.96 243.95 L350.41 248.58 L352.64 252.72 L353.02 257.33 L353.4 244.27 L353.85 248.88 L356.08 252.92 L356.46 257.51 L356.84 244.44 L357.28 249.03 L359.52 252.97 L359.9 257.54 L360.28 244.46 L360.72 249.03 L362.96 252.86 L363.34 257.42 L363.71 244.32 L364.16 248.86 L366.4 252.6 L366.77 257.14 L367.15 244.02 L367.6 248.55 L369.83 252.19 L370.21 256.71 L370.59 243.57 L371.04 248.08 L373.27 251.62 L373.65 256.13 L374.03 242.98 L374.48 247.47 L376.71 250.92 L377.09 255.41 L377.47 242.24 L377.91 246.71 L380.15 250.07 L380.53 254.54 L380.91 241.36 L381.35 245.81 L383.59 249.09 L383.97 253.55 L384.34 240.35 L384.79 244.79 L387.03 247.98 L387.4 252.43 L387.78 239.22 L388.23 243.64 L390.46 246.69 L390.84 250.9 L391.22 238.32 L391.67 242.5 L393.9 245.18 L394.28 248.96 L394.66 237.57 L395.11 241.32 L397.34 243.56 L397.72 246.88 L398.1 236.76 L398.54 240.05 L400.78 241.84 L401.16 244.68 L401.53 235.91 L401.98 238.71 L404.22 240.03 L404.59 242.36 L404.97 235.02 L405.42 237.31 L407.65 238.15 L408.03 239.96 L408.41 234.09 L408.86 235.86 L411.09 236.22 L411.47 237.49 L411.85 233.14 L412.3 234.37 L414.53 234.24 L414.91 234.96 L415.29 232.17 L415.73 232.85 L417.97 232.24 L418.35 232.4 L418.73 231.18 L419.17 231.31 L421.41 230.22 L421.79 229.83 L422.16 230.2 L422.61 229.77 L424.85 228.2 L425.22 227.26 L425.6 229.21 L426.05 228.23 L428.28 226.21 L428.66 224.72 L429.04 228.24 L429.49 226.71 L431.72 224.24 L432.1 222.23 L432.48 227.28 L432.93 225.22 L435.16 222.33 L435.54 219.79 L435.92 226.35 L436.36 223.78 L438.6 220.48 L438.98 217.44 L439.35 225.45 L439.8 222.38 L442.04 218.7 L442.41 215.19 L442.79 224.59 L443.24 221.05 L445.47 217.02 L445.85 213.06 L446.23 223.78 L446.68 219.79 L448.91 215.44 L449.29 211.06 L449.67 223.01 L450.12 218.61 L452.35 213.97 L452.73 209.26 L453.11 222.2 L453.55 217.47 L455.79 212.79 L456.17 208.09 L456.55 221.05 L456.99 216.33 L459.23 211.73 L459.61 207.04 L459.98 220.01 L460.43 215.31 L462.67 210.8 L463.04 206.12 L463.42 219.11 L463.87 214.43 L466.1 210 L466.48 205.34 L466.86 218.35 L467.31 213.68 L469.54 209.35 L469.92 204.71 L470.3 217.72 L470.75 213.08 L472.98 208.84 L473.36 204.21 L473.74 217.25 L474.18 212.62 L476.42 208.48 L476.8 203.87 L477.17 216.93 L477.62 212.32 L479.86 208.28 L480.23 203.69 L480.61 216.76 L481.06 212.17 L483.29 208.23 L483.67 203.66 L484.05 216.74 L484.5 212.17 L486.73 208.34 L487.11 203.78 L487.49 216.88 L487.94 212.34 L490.17 208.6 L490.55 204.06 L490.93 217.18 L491.37 212.65 L493.61 209.01 L493.99 204.49 L494.37 217.63 L494.81 213.12 L497.05 209.58 L497.43 205.07 L497.8 218.22 L498.25 213.73 L500.49 210.28 L500.86 205.79 L501.24 218.96 L501.69 214.49 L503.92 211.13 L504.3 206.66 L504.68 219.84 L505.13 215.39 L507.36 212.11 L507.74 207.65 L508.12 220.85 L508.57 216.41 L510.8 213.22 L511.18 208.77 L511.56 221.98 L512 217.56 L514.24 214.51 L514.62 210.3 L514.99 222.88 L515.44 218.7 L517.68 216.02 L518.05 212.24 L518.43 223.63 L518.88 219.88 L521.11 217.64 L521.49 214.32 L521.87 224.44 L522.32 221.15 L524.55 219.36 L524.93 216.52 L525.31 225.29 L525.76 222.49 L527.99 221.17 L528.37 218.84 L528.75 226.18 L529.19 223.89 L531.43 223.05 L531.81 221.24 L532.19 227.11 L532.63 225.34 L534.87 224.98 L535.25 223.71 L535.62 228.06 L536.07 226.83 L538.31 226.96 L538.68 226.24 L539.06 229.03 L539.51 228.35 L541.74 228.96" stroke="#0072BD" stroke-width="1.25" stroke-linejoin="bevel"/>
<clipPath id="bandbc"><path d="M43.1 270.85 L44.65 270.43 L46.19 269.95 L47.74 269.42 L49.29 268.85 L50.84 268.22 L52.38 267.56 L53.93 266.84 L55.48 266.09 L57.02 265.29 L58.57 264.44 L60.12 263.56 L61.67 262.57 L63.21 261.32 L64.76 260.01 L66.31 258.66 L67.86 257.27 L69.4 255.84 L70.95 254.36 L72.5 252.86 L74.04 251.31 L75.59 249.74 L77.14 248.13 L78.69 246.5 L80.23 244.84 L81.78 243.17 L83.33 241.47 L84.87 239.75 L86.42 238.02 L87.97 236.28 L89.52 234.54 L91.06 232.78 L92.61 231.02 L94.16 229.26 L95.7 227.51 L97.25 225.75 L98.8 224.01 L100.35 222.28 L101.89 220.55 L103.44 218.85 L104.99 217.16 L106.53 215.49 L108.08 213.85 L109.63 212.23 L111.18 210.64 L112.72 209.08 L114.27 207.56 L115.82 206.06 L117.37 204.61 L118.91 203.2 L120.46 201.83 L122.01 200.5 L123.55 199.22 L125.1 198.08 L126.65 197.18 L128.2 196.31 L129.74 195.49 L131.29 194.72 L132.84 193.98 L134.38 193.29 L135.93 192.65 L137.48 192.05 L139.03 191.5 L140.57 191 L142.12 190.55 L143.67 190.14 L145.21 189.79 L146.76 189.49 L148.31 189.24 L149.86 189.05 L151.4 188.9 L152.95 188.81 L154.5 188.77 L156.04 188.79 L157.59 188.85 L159.14 188.97 L160.69 189.14 L162.23 189.37 L163.78 189.64 L165.33 189.97 L166.88 190.35 L168.42 190.77 L169.97 191.25 L171.52 191.78 L173.06 192.35 L174.61 192.98 L176.16 193.64 L177.71 194.36 L179.25 195.11 L180.8 195.91 L182.35 196.76 L183.89 197.64 L185.44 198.63 L186.99 199.88 L188.54 201.19 L190.08 202.54 L191.63 203.93 L193.18 205.36 L194.72 206.84 L196.27 208.34 L197.82 209.89 L199.37 211.46 L200.91 213.07 L202.46 214.7 L204.01 216.36 L205.55 218.03 L207.1 219.73 L208.65 221.45 L210.2 223.18 L211.74 224.92 L213.29 226.66 L214.84 228.42 L216.38 230.18 L217.93 231.94 L219.48 233.69 L221.03 235.45 L222.57 237.19 L224.12 238.92 L225.67 240.65 L227.22 242.35 L228.76 244.04 L230.31 245.71 L231.86 247.35 L233.4 248.97 L234.95 250.56 L236.5 252.12 L238.05 253.64 L239.59 255.14 L241.14 256.59 L242.69 258 L244.23 259.37 L245.78 260.7 L247.33 261.98 L248.88 263.12 L250.42 264.02 L251.97 264.89 L253.52 265.71 L255.06 266.48 L256.61 267.22 L258.16 267.91 L259.71 268.55 L261.25 269.15 L262.8 269.7 L264.35 270.2 L265.9 270.65 L267.44 271.06 L268.99 271.41 L270.54 271.71 L272.08 271.96 L273.63 272.15 L275.18 272.3 L276.73 272.39 L278.27 272.43 L279.82 272.41 L281.37 272.35 L282.91 272.23 L284.46 272.06 L286.01 271.83 L287.56 271.56 L289.1 271.23 L290.65 270.85 L292.2 270.43 L293.74 269.95 L295.29 269.42 L296.84 268.85 L298.39 268.22 L299.93 267.56 L301.48 266.84 L303.03 266.09 L304.57 265.29 L306.12 264.44 L307.67 263.56 L309.22 262.57 L310.76 261.32 L312.31 260.01 L313.86 258.66 L315.41 257.27 L316.95 255.84 L318.5 254.36 L320.05 252.86 L321.59 251.31 L323.14 249.74 L324.69 248.13 L326.24 246.5 L327.78 244.84 L329.33 243.17 L330.88 241.47 L332.42 239.75 L333.97 238.02 L335.52 236.28 L337.07 234.54 L338.61 232.78 L340.16 231.02 L341.71 229.26 L343.25 227.51 L344.8 225.75 L346.35 224.01 L347.9 222.28 L349.44 220.55 L350.99 218.85 L352.54 217.16 L354.08 215.49 L355.63 213.85 L357.18 212.23 L358.73 210.64 L360.27 209.08 L361.82 207.56 L363.37 206.06 L364.92 204.61 L366.46 203.2 L368.01 201.83 L369.56 200.5 L371.1 199.22 L372.65 198.08 L374.2 197.18 L375.75 196.31 L377.29 195.49 L378.84 194.72 L380.39 193.98 L381.93 193.29 L383.48 192.65 L385.03 192.05 L386.58 191.5 L388.12 191 L389.67 190.55 L391.22 190.14 L392.76 189.79 L394.31 189.49 L395.86 189.24 L397.41 189.05 L398.95 188.9 L400.5 188.81 L402.05 188.77 L403.59 188.79 L405.14 188.85 L406.69 188.97 L408.24 189.14 L409.78 189.37 L411.33 189.64 L412.88 189.97 L414.43 190.35 L415.97 190.77 L417.52 191.25 L419.07 191.78 L420.61 192.35 L422.16 192.98 L423.71 193.64 L425.26 194.36 L426.8 195.11 L428.35 195.91 L429.9 196.76 L431.44 197.64 L432.99 198.63 L434.54 199.88 L436.09 201.19 L437.63 202.54 L439.18 203.93 L440.73 205.36 L442.27 206.84 L443.82 208.34 L445.37 209.89 L446.92 211.46 L448.46 213.07 L450.01 214.7 L451.56 216.36 L453.1 218.03 L454.65 219.73 L456.2 221.45 L457.75 223.18 L459.29 224.92 L460.84 226.66 L462.39 228.42 L463.94 230.18 L465.48 231.94 L467.03 233.69 L468.58 235.45 L470.12 237.19 L471.67 238.92 L473.22 240.65 L474.77 242.35 L476.31 244.04 L477.86 245.71 L479.41 247.35 L480.95 248.97 L482.5 250.56 L484.05 252.12 L485.6 253.64 L487.14 255.14 L488.69 256.59 L490.24 258 L491.78 259.37 L493.33 260.7 L494.88 261.98 L496.43 263.12 L497.97 264.02 L499.52 264.89 L501.07 265.71 L502.61 266.48 L504.16 267.22 L505.71 267.91 L507.26 268.55 L508.8 269.15 L510.35 269.7 L511.9 270.2 L513.45 270.65 L514.99 271.06 L516.54 271.41 L518.09 271.71 L519.63 271.96 L521.18 272.15 L522.73 272.3 L524.28 272.39 L525.82 272.43 L527.37 272.41 L528.92 272.35 L530.46 272.23 L532.01 272.06 L533.56 271.83 L535.11 271.56 L536.65 271.23 L538.2 270.85 L538.2 255.59 L536.65 255.97 L535.11 256.3 L533.56 256.57 L532.01 256.8 L530.46 256.97 L528.92 257.09 L527.37 257.15 L525.82 257.17 L524.28 257.13 L522.73 257.04 L521.18 256.89 L519.63 256.7 L518.09 256.45 L516.54 256.15 L514.99 255.8 L513.45 255.39 L511.9 254.94 L510.35 254.44 L508.8 253.89 L507.26 253.29 L505.71 252.65 L504.16 251.96 L502.61 251.22 L501.07 250.45 L499.52 249.63 L497.97 248.76 L496.43 247.86 L494.88 247.13 L493.33 246.46 L491.78 245.76 L490.24 245.04 L488.69 244.29 L487.14 243.53 L485.6 242.74 L484.05 241.94 L482.5 241.12 L480.95 240.28 L479.41 239.43 L477.86 238.56 L476.31 237.68 L474.77 236.79 L473.22 235.89 L471.67 234.99 L470.12 234.07 L468.58 233.15 L467.03 232.23 L465.48 231.3 L463.94 230.38 L462.39 229.45 L460.84 228.53 L459.29 227.61 L457.75 226.69 L456.2 225.78 L454.65 224.87 L453.1 223.98 L451.56 223.1 L450.01 222.22 L448.46 221.36 L446.92 220.52 L445.37 219.69 L443.82 218.87 L442.27 218.08 L440.73 217.3 L439.18 216.55 L437.63 215.81 L436.09 215.1 L434.54 214.42 L432.99 213.75 L431.44 212.9 L429.9 212.02 L428.35 211.17 L426.8 210.37 L425.26 209.62 L423.71 208.9 L422.16 208.24 L420.61 207.61 L419.07 207.04 L417.52 206.51 L415.97 206.03 L414.43 205.61 L412.88 205.23 L411.33 204.9 L409.78 204.63 L408.24 204.4 L406.69 204.23 L405.14 204.11 L403.59 204.05 L402.05 204.03 L400.5 204.07 L398.95 204.16 L397.41 204.31 L395.86 204.5 L394.31 204.75 L392.76 205.05 L391.22 205.4 L389.67 205.81 L388.12 206.26 L386.58 206.76 L385.03 207.31 L383.48 207.91 L381.93 208.55 L380.39 209.24 L378.84 209.98 L377.29 210.75 L375.75 211.57 L374.2 212.44 L372.65 213.34 L371.1 214.07 L369.56 214.74 L368.01 215.44 L366.46 216.16 L364.92 216.91 L363.37 217.67 L361.82 218.46 L360.27 219.26 L358.73 220.08 L357.18 220.92 L355.63 221.77 L354.08 222.64 L352.54 223.52 L350.99 224.41 L349.44 225.31 L347.9 226.21 L346.35 227.13 L344.8 228.05 L343.25 228.97 L341.71 229.9 L340.16 230.82 L338.61 231.75 L337.07 232.67 L335.52 233.59 L333.97 234.51 L332.42 235.42 L330.88 236.33 L329.33 237.22 L327.78 238.1 L326.24 238.98 L324.69 239.84 L323.14 240.68 L321.59 241.51 L320.05 242.33 L318.5 243.12 L316.95 243.9 L315.41 244.65 L313.86 245.39 L312.31 246.1 L310.76 246.78 L309.22 247.45 L307.67 248.3 L306.12 249.18 L304.57 250.03 L303.03 250.83 L301.48 251.58 L299.93 252.3 L298.39 252.96 L296.84 253.59 L295.29 254.16 L293.74 254.69 L292.2 255.17 L290.65 255.59 L289.1 255.97 L287.56 256.3 L286.01 256.57 L284.46 256.8 L282.91 256.97 L281.37 257.09 L279.82 257.15 L278.27 257.17 L276.73 257.13 L275.18 257.04 L273.63 256.89 L272.08 256.7 L270.54 256.45 L268.99 256.15 L267.44 255.8 L265.9 255.39 L264.35 254.94 L262.8 254.44 L261.25 253.89 L259.71 253.29 L258.16 252.65 L256.61 251.96 L255.06 251.22 L253.52 250.45 L251.97 249.63 L250.42 248.76 L248.88 247.86 L247.33 247.13 L245.78 246.46 L244.23 245.76 L242.69 245.04 L241.14 244.29 L239.59 243.53 L238.05 242.74 L236.5 241.94 L234.95 241.12 L233.4 240.28 L231.86 239.43 L230.31 238.56 L228.76 237.68 L227.22 236.79 L225.67 235.89 L224.12 234.99 L222.57 234.07 L221.03 233.15 L219.48 232.23 L217.93 231.3 L216.38 230.38 L214.84 229.45 L213.29 228.53 L211.74 227.61 L210.2 226.69 L208.65 225.78 L207.1 224.87 L205.55 223.98 L204.01 223.1 L202.46 222.22 L200.91 221.36 L199.37 220.52 L197.82 219.69 L196.27 218.87 L194.72 218.08 L193.18 217.3 L191.63 216.55 L190.08 215.81 L188.54 215.1 L186.99 214.42 L185.44 213.75 L183.89 212.9 L182.35 212.02 L180.8 211.17 L179.25 210.37 L177.71 209.62 L176.16 208.9 L174.61 208.24 L173.06 207.61 L171.52 207.04 L169.97 206.51 L168.42 206.03 L166.88 205.61 L165.33 205.23 L163.78 204.9 L162.23 204.63 L160.69 204.4 L159.14 204.23 L157.59 204.11 L156.04 204.05 L154.5 204.03 L152.95 204.07 L151.4 204.16 L149.86 204.31 L148.31 204.5 L146.76 204.75 L145.21 205.05 L143.67 205.4 L142.12 205.81 L140.57 206.26 L139.03 206.76 L137.48 207.31 L135.93 207.91 L134.38 208.55 L132.84 209.24 L131.29 209.98 L129.74 210.75 L128.2 211.57 L126.65 212.44 L125.1 213.34 L123.55 214.07 L122.01 214.74 L120.46 215.44 L118.91 216.16 L117.37 216.91 L115.82 217.67 L114.27 218.46 L112.72 219.26 L111.18 220.08 L109.63 220.92 L108.08 221.77 L106.53 222.64 L104.99 223.52 L103.44 224.41 L101.89 225.31 L100.35 226.21 L98.8 227.13 L97.25 228.05 L95.7 228.97 L94.16 229.9 L92.61 230.82 L91.06 231.75 L89.52 232.67 L87.97 233.59 L86.42 234.51 L84.87 235.42 L83.33 236.33 L81.78 237.22 L80.23 238.1 L78.69 238.98 L77.14 239.84 L75.59 240.68 L74.04 241.51 L72.5 242.33 L70.95 243.12 L69.4 243.9 L67.86 244.65 L66.31 245.39 L64.76 246.1 L63.21 246.78 L61.67 247.45 L60.12 248.3 L58.57 249.18 L57.02 250.03 L55.48 250.83 L53.93 251.58 L52.38 252.3 L50.84 252.96 L49.29 253.59 L47.74 254.16 L46.19 254.69 L44.65 255.17 L43.1 255.59 Z"/></clipPath>
<path d="M43.1 263.68 L44.65 263.25 L46.19 262.78 L47.74 262.25 L49.29 261.67 L50.84 261.05 L52.38 260.38 L53.93 259.67 L55.48 258.91 L57.02 258.11 L58.57 257.27 L60.12 256.39 L61.67 255.46 L63.21 254.49 L64.76 253.47 L66.31 252.42 L67.86 251.34 L69.4 250.23 L70.95 249.08 L72.5 247.91 L74.04 246.71 L75.59 245.48 L77.14 244.23 L78.69 242.96 L80.23 241.68 L81.78 240.37 L83.33 239.05 L84.87 237.72 L86.42 236.37 L87.97 235.02 L89.52 233.66 L91.06 232.3 L92.61 230.93 L94.16 229.56 L95.7 228.19 L97.25 226.83 L98.8 225.48 L100.35 224.13 L101.89 222.79 L103.44 221.46 L104.99 220.15 L106.53 218.85 L108.08 217.57 L109.63 216.31 L111.18 215.08 L112.72 213.87 L114.27 212.68 L115.82 211.52 L117.37 210.39 L118.91 209.29 L120.46 208.23 L122.01 207.2 L123.55 206.2 L125.1 205.25 L126.65 204.35 L128.2 203.49 L129.74 202.67 L131.29 201.89 L132.84 201.15 L134.38 200.46 L135.93 199.82 L137.48 199.22 L139.03 198.67 L140.57 198.17 L142.12 197.72 L143.67 197.32 L145.21 196.97 L146.76 196.66 L148.31 196.42 L149.86 196.22 L151.4 196.08 L152.95 195.98 L154.5 195.94 L156.04 195.96 L157.59 196.03 L159.14 196.14 L160.69 196.32 L162.23 196.54 L163.78 196.81 L165.33 197.14 L166.88 197.52 L168.42 197.95 L169.97 198.42 L171.52 198.95 L173.06 199.53 L174.61 200.15 L176.16 200.82 L177.71 201.53 L179.25 202.29 L180.8 203.09 L182.35 203.93 L183.89 204.81 L185.44 205.74 L186.99 206.71 L188.54 207.73 L190.08 208.78 L191.63 209.86 L193.18 210.97 L194.72 212.12 L196.27 213.29 L197.82 214.49 L199.37 215.72 L200.91 216.97 L202.46 218.24 L204.01 219.52 L205.55 220.83 L207.1 222.15 L208.65 223.48 L210.2 224.83 L211.74 226.18 L213.29 227.54 L214.84 228.9 L216.38 230.27 L217.93 231.64 L219.48 233.01 L221.03 234.37 L222.57 235.72 L224.12 237.07 L225.67 238.41 L227.22 239.74 L228.76 241.05 L230.31 242.35 L231.86 243.63 L233.4 244.89 L234.95 246.12 L236.5 247.33 L238.05 248.52 L239.59 249.68 L241.14 250.81 L242.69 251.91 L244.23 252.97 L245.78 254 L247.33 255 L248.88 255.95 L250.42 256.85 L251.97 257.71 L253.52 258.53 L255.06 259.31 L256.61 260.05 L258.16 260.74 L259.71 261.38 L261.25 261.98 L262.8 262.53 L264.35 263.03 L265.9 263.48 L267.44 263.88 L268.99 264.23 L270.54 264.54 L272.08 264.78 L273.63 264.98 L275.18 265.12 L276.73 265.22 L278.27 265.26 L279.82 265.24 L281.37 265.17 L282.91 265.06 L284.46 264.88 L286.01 264.66 L287.56 264.39 L289.1 264.06 L290.65 263.68 L292.2 263.25 L293.74 262.78 L295.29 262.25 L296.84 261.67 L298.39 261.05 L299.93 260.38 L301.48 259.67 L303.03 258.91 L304.57 258.11 L306.12 257.27 L307.67 256.39 L309.22 255.46 L310.76 254.49 L312.31 253.47 L313.86 252.42 L315.41 251.34 L316.95 250.23 L318.5 249.08 L320.05 247.91 L321.59 246.71 L323.14 245.48 L324.69 244.23 L326.24 242.96 L327.78 241.68 L329.33 240.37 L330.88 239.05 L332.42 237.72 L333.97 236.37 L335.52 235.02 L337.07 233.66 L338.61 232.3 L340.16 230.93 L341.71 229.56 L343.25 228.19 L344.8 226.83 L346.35 225.48 L347.9 224.13 L349.44 222.79 L350.99 221.46 L352.54 220.15 L354.08 218.85 L355.63 217.57 L357.18 216.31 L358.73 215.08 L360.27 213.87 L361.82 212.68 L363.37 211.52 L364.92 210.39 L366.46 209.29 L368.01 208.23 L369.56 207.2 L371.1 206.2 L372.65 205.25 L374.2 204.35 L375.75 203.49 L377.29 202.67 L378.84 201.89 L380.39 201.15 L381.93 200.46 L383.48 199.82 L385.03 199.22 L386.58 198.67 L388.12 198.17 L389.67 197.72 L391.22 197.32 L392.76 196.97 L394.31 196.66 L395.86 196.42 L397.41 196.22 L398.95 196.08 L400.5 195.98 L402.05 195.94 L403.59 195.96 L405.14 196.03 L406.69 196.14 L408.24 196.32 L409.78 196.54 L411.33 196.81 L412.88 197.14 L414.43 197.52 L415.97 197.95 L417.52 198.42 L419.07 198.95 L420.61 199.53 L422.16 200.15 L423.71 200.82 L425.26 201.53 L426.8 202.29 L428.35 203.09 L429.9 203.93 L431.44 204.81 L432.99 205.74 L434.54 206.71 L436.09 207.73 L437.63 208.78 L439.18 209.86 L440.73 210.97 L442.27 212.12 L443.82 213.29 L445.37 214.49 L446.92 215.72 L448.46 216.97 L450.01 218.24 L451.56 219.52 L453.1 220.83 L454.65 222.15 L456.2 223.48 L457.75 224.83 L459.29 226.18 L460.84 227.54 L462.39 228.9 L463.94 230.27 L465.48 231.64 L467.03 233.01 L468.58 234.37 L470.12 235.72 L471.67 237.07 L473.22 238.41 L474.77 239.74 L476.31 241.05 L477.86 242.35 L479.41 243.63 L480.95 244.89 L482.5 246.12 L484.05 247.33 L485.6 248.52 L487.14 249.68 L488.69 250.81 L490.24 251.91 L491.78 252.97 L493.33 254 L494.88 255 L496.43 255.95 L497.97 256.85 L499.52 257.71 L501.07 258.53 L502.61 259.31 L504.16 260.05 L505.71 260.74 L507.26 261.38 L508.8 261.98 L510.35 262.53 L511.9 263.03 L513.45 263.48 L514.99 263.88 L516.54 264.23 L518.09 264.54 L519.63 264.78 L521.18 264.98 L522.73 265.12 L524.28 265.22 L525.82 265.26 L527.37 265.24 L528.92 265.17 L530.46 265.06 L532.01 264.88 L533.56 264.66 L535.11 264.39 L536.65 264.06 L538.2 263.68 L538.2 262.77 L536.65 263.14 L535.11 263.47 L533.56 263.75 L532.01 263.97 L530.46 264.14 L528.92 264.26 L527.37 264.33 L525.82 264.34 L524.28 264.3 L522.73 264.21 L521.18 264.06 L519.63 263.87 L518.09 263.62 L516.54 263.32 L514.99 262.97 L513.45 262.57 L511.9 262.11 L510.35 261.61 L508.8 261.06 L507.26 260.47 L505.71 259.82 L504.16 259.13 L502.61 258.4 L501.07 257.62 L499.52 256.8 L497.97 255.94 L496.43 255.04 L494.88 254.11 L493.33 253.15 L491.78 252.16 L490.24 251.13 L488.69 250.07 L487.14 248.98 L485.6 247.87 L484.05 246.72 L482.5 245.55 L480.95 244.36 L479.41 243.15 L477.86 241.92 L476.31 240.67 L474.77 239.41 L473.22 238.13 L471.67 236.84 L470.12 235.54 L468.58 234.23 L467.03 232.92 L465.48 231.6 L463.94 230.28 L462.39 228.97 L460.84 227.65 L459.29 226.34 L457.75 225.04 L456.2 223.74 L454.65 222.46 L453.1 221.19 L451.56 219.93 L450.01 218.69 L448.46 217.46 L446.92 216.26 L445.37 215.08 L443.82 213.93 L442.27 212.79 L440.73 211.69 L439.18 210.62 L437.63 209.57 L436.09 208.56 L434.54 207.59 L432.99 206.64 L431.44 205.73 L429.9 204.84 L428.35 204 L426.8 203.2 L425.26 202.44 L423.71 201.73 L422.16 201.06 L420.61 200.44 L419.07 199.87 L417.52 199.34 L415.97 198.86 L414.43 198.43 L412.88 198.06 L411.33 197.73 L409.78 197.45 L408.24 197.23 L406.69 197.06 L405.14 196.94 L403.59 196.87 L402.05 196.86 L400.5 196.9 L398.95 196.99 L397.41 197.14 L395.86 197.33 L394.31 197.58 L392.76 197.88 L391.22 198.23 L389.67 198.63 L388.12 199.09 L386.58 199.59 L385.03 200.14 L383.48 200.73 L381.93 201.38 L380.39 202.07 L378.84 202.8 L377.29 203.58 L375.75 204.4 L374.2 205.26 L372.65 206.16 L371.1 207.09 L369.56 208.05 L368.01 209.04 L366.46 210.07 L364.92 211.13 L363.37 212.22 L361.82 213.33 L360.27 214.48 L358.73 215.65 L357.18 216.84 L355.63 218.05 L354.08 219.28 L352.54 220.53 L350.99 221.79 L349.44 223.07 L347.9 224.36 L346.35 225.66 L344.8 226.97 L343.25 228.28 L341.71 229.6 L340.16 230.92 L338.61 232.23 L337.07 233.55 L335.52 234.86 L333.97 236.16 L332.42 237.46 L330.88 238.74 L329.33 240.01 L327.78 241.27 L326.24 242.51 L324.69 243.74 L323.14 244.94 L321.59 246.12 L320.05 247.27 L318.5 248.41 L316.95 249.51 L315.41 250.58 L313.86 251.63 L312.31 252.64 L310.76 253.61 L309.22 254.56 L307.67 255.47 L306.12 256.36 L304.57 257.2 L303.03 258 L301.48 258.76 L299.93 259.47 L298.39 260.14 L296.84 260.76 L295.29 261.33 L293.74 261.86 L292.2 262.34 L290.65 262.77 L289.1 263.14 L287.56 263.47 L286.01 263.75 L284.46 263.97 L282.91 264.14 L281.37 264.26 L279.82 264.33 L278.27 264.34 L276.73 264.3 L275.18 264.21 L273.63 264.06 L272.08 263.87 L270.54 263.62 L268.99 263.32 L267.44 262.97 L265.9 262.57 L264.35 262.11 L262.8 261.61 L261.25 261.06 L259.71 260.47 L258.16 259.82 L256.61 259.13 L255.06 258.4 L253.52 257.62 L251.97 256.8 L250.42 255.94 L248.88 255.04 L247.33 254.11 L245.78 253.15 L244.23 252.16 L242.69 251.13 L241.14 250.07 L239.59 248.98 L238.05 247.87 L236.5 246.72 L234.95 245.55 L233.4 244.36 L231.86 243.15 L230.31 241.92 L228.76 240.67 L227.22 239.41 L225.67 238.13 L224.12 236.84 L222.57 235.54 L221.03 234.23 L219.48 232.92 L217.93 231.6 L216.38 230.28 L214.84 228.97 L213.29 227.65 L211.74 226.34 L210.2 225.04 L208.65 223.74 L207.1 222.46 L205.55 221.19 L204.01 219.93 L202.46 218.69 L200.91 217.46 L199.37 216.26 L197.82 215.08 L196.27 213.93 L194.72 212.79 L193.18 211.69 L191.63 210.62 L190.08 209.57 L188.54 208.56 L186.99 207.59 L185.44 206.64 L183.89 205.73 L182.35 204.84 L180.8 204 L179.25 203.2 L177.71 202.44 L176.16 201.73 L174.61 201.06 L173.06 200.44 L171.52 199.87 L169.97 199.34 L168.42 198.86 L166.88 198.43 L165.33 198.06 L163.78 197.73 L162.23 197.45 L160.69 197.23 L159.14 197.06 L157.59 196.94 L156.04 196.87 L154.5 196.86 L152.95 196.9 L151.4 196.99 L149.86 197.14 L148.31 197.33 L146.76 197.58 L145.21 197.88 L143.67 198.23 L142.12 198.63 L140.57 199.09 L139.03 199.59 L137.48 200.14 L135.93 200.73 L134.38 201.38 L132.84 202.07 L131.29 202.8 L129.74 203.58 L128.2 204.4 L126.65 205.26 L125.1 206.16 L123.55 207.09 L122.01 208.05 L120.46 209.04 L118.91 210.07 L117.37 211.13 L115.82 212.22 L114.27 213.33 L112.72 214.48 L111.18 215.65 L109.63 216.84 L108.08 218.05 L106.53 219.28 L104.99 220.53 L103.44 221.79 L101.89 223.07 L100.35 224.36 L98.8 225.66 L97.25 226.97 L95.7 228.28 L94.16 229.6 L92.61 230.92 L91.06 232.23 L89.52 233.55 L87.97 234.86 L86.42 236.16 L84.87 237.46 L83.33 238.74 L81.78 240.01 L80.23 241.27 L78.69 242.51 L77.14 243.74 L75.59 244.94 L74.04 246.12 L72.5 247.27 L70.95 248.41 L69.4 249.51 L67.86 250.58 L66.31 251.63 L64.76 252.64 L63.21 253.61 L61.67 254.56 L60.12 255.47 L58.57 256.36 L57.02 257.2 L55.48 258 L53.93 258.76 L52.38 259.47 L50.84 260.14 L49.29 260.76 L47.74 261.33 L46.19 261.86 L44.65 262.34 L43.1 262.77 Z" fill="#FF4D18" stroke="none"/>
<path clip-path="url(#bandbc)" d="M39.77 266.26 L40.15 271.53 L40.52 256.19 L40.97 261.44 L43.21 265.48 L43.58 270.72 L43.96 255.36 L44.41 260.58 L46.64 264.46 L47.02 269.67 L47.4 254.28 L47.85 259.46 L50.08 263.19 L50.46 268.38 L50.84 252.96 L51.29 258.12 L53.52 261.7 L53.9 266.86 L54.28 251.42 L54.72 256.54 L56.96 259.98 L57.34 265.12 L57.72 249.65 L58.16 254.75 L60.4 258.06 L60.78 263.17 L61.15 247.69 L61.6 252.78 L63.84 255.8 L64.21 260.48 L64.59 246.17 L65.04 250.8 L67.27 253.3 L67.65 257.46 L68.03 244.57 L68.48 248.67 L70.71 250.62 L71.09 254.23 L71.47 242.86 L71.91 246.41 L74.15 247.79 L74.53 250.82 L74.91 241.05 L75.35 244.02 L77.59 244.84 L77.97 247.26 L78.34 239.17 L78.79 241.53 L81.03 241.77 L81.4 243.57 L81.78 237.22 L82.23 238.96 L84.46 238.62 L84.84 239.79 L85.22 235.22 L85.67 236.33 L87.9 235.41 L88.28 235.93 L88.66 233.18 L89.11 233.65 L91.34 232.16 L91.72 232.04 L92.1 231.13 L92.54 230.94 L94.78 228.9 L95.16 228.13 L95.54 229.07 L95.98 228.24 L98.22 225.65 L98.6 224.24 L98.97 227.02 L99.42 225.55 L101.66 222.44 L102.03 220.4 L102.41 225 L102.86 222.9 L105.09 219.29 L105.47 216.64 L105.85 223.03 L106.3 220.31 L108.53 216.23 L108.91 212.98 L109.29 221.11 L109.73 217.8 L111.97 213.27 L112.35 209.46 L112.73 219.26 L113.17 215.39 L115.41 210.45 L115.79 206.09 L116.16 217.5 L116.61 213.09 L118.85 207.79 L119.22 202.92 L119.6 215.84 L120.05 210.93 L122.28 205.29 L122.66 199.96 L123.04 214.29 L123.49 208.91 L125.72 203.05 L126.1 197.49 L126.48 212.53 L126.93 206.94 L129.16 201.14 L129.54 195.6 L129.92 210.66 L130.36 205.09 L132.6 199.43 L132.98 193.92 L133.36 209 L133.8 203.46 L136.04 197.94 L136.42 192.45 L136.79 207.57 L137.24 202.06 L139.48 196.69 L139.85 191.22 L140.23 206.36 L140.68 200.88 L142.91 195.67 L143.29 190.24 L143.67 205.4 L144.12 199.96 L146.35 194.91 L146.73 189.5 L147.11 204.69 L147.56 199.28 L149.79 194.4 L150.17 189.01 L150.55 204.24 L150.99 198.86 L153.23 194.14 L153.61 188.79 L153.98 204.04 L154.43 198.69 L156.67 194.15 L157.04 188.82 L157.42 204.1 L157.87 198.79 L160.1 194.41 L160.48 189.12 L160.86 204.43 L161.31 199.15 L163.54 194.94 L163.92 189.67 L164.3 205.01 L164.75 199.76 L166.98 195.72 L167.36 190.48 L167.74 205.84 L168.18 200.62 L170.42 196.74 L170.8 191.53 L171.18 206.92 L171.62 201.74 L173.86 198.01 L174.24 192.82 L174.61 208.24 L175.06 203.08 L177.3 199.5 L177.67 194.34 L178.05 209.78 L178.5 204.66 L180.73 201.22 L181.11 196.08 L181.49 211.55 L181.94 206.45 L184.17 203.14 L184.55 198.03 L184.93 213.51 L185.38 208.42 L187.61 205.4 L187.99 200.72 L188.37 215.03 L188.81 210.4 L191.05 207.9 L191.43 203.74 L191.8 216.63 L192.25 212.53 L194.49 210.58 L194.86 206.97 L195.24 218.34 L195.69 214.79 L197.92 213.41 L198.3 210.38 L198.68 220.15 L199.13 217.18 L201.36 216.36 L201.74 213.94 L202.12 222.03 L202.57 219.67 L204.8 219.43 L205.18 217.63 L205.56 223.98 L206 222.24 L208.24 222.58 L208.62 221.41 L209 225.98 L209.44 224.87 L211.68 225.79 L212.06 225.27 L212.43 228.02 L212.88 227.55 L215.12 229.04 L215.49 229.16 L215.87 230.07 L216.32 230.26 L218.55 232.3 L218.93 233.07 L219.31 232.13 L219.76 232.96 L221.99 235.55 L222.37 236.96 L222.75 234.18 L223.2 235.65 L225.43 238.76 L225.81 240.8 L226.19 236.2 L226.63 238.3 L228.87 241.91 L229.25 244.56 L229.62 238.17 L230.07 240.89 L232.31 244.97 L232.68 248.22 L233.06 240.09 L233.51 243.4 L235.74 247.93 L236.12 251.74 L236.5 241.94 L236.95 245.81 L239.18 250.75 L239.56 255.11 L239.94 243.7 L240.39 248.11 L242.62 253.41 L243 258.28 L243.38 245.36 L243.82 250.27 L246.06 255.91 L246.44 261.24 L246.82 246.91 L247.26 252.29 L249.5 258.15 L249.88 263.71 L250.25 248.67 L250.7 254.26 L252.94 260.06 L253.31 265.6 L253.69 250.54 L254.14 256.11 L256.37 261.77 L256.75 267.28 L257.13 252.2 L257.58 257.74 L259.81 263.26 L260.19 268.75 L260.57 253.63 L261.02 259.14 L263.25 264.51 L263.63 269.98 L264.01 254.84 L264.45 260.32 L266.69 265.53 L267.07 270.96 L267.44 255.8 L267.89 261.24 L270.13 266.29 L270.5 271.7 L270.88 256.51 L271.33 261.92 L273.56 266.8 L273.94 272.19 L274.32 256.96 L274.77 262.34 L277 267.06 L277.38 272.41 L277.76 257.16 L278.21 262.51 L280.44 267.05 L280.82 272.38 L281.2 257.1 L281.64 262.41 L283.88 266.79 L284.26 272.08 L284.64 256.77 L285.08 262.05 L287.32 266.26 L287.7 271.53 L288.07 256.19 L288.52 261.44 L290.76 265.48 L291.13 270.72 L291.51 255.36 L291.96 260.58 L294.19 264.46 L294.57 269.67 L294.95 254.28 L295.4 259.46 L297.63 263.19 L298.01 268.38 L298.39 252.96 L298.84 258.12 L301.07 261.7 L301.45 266.86 L301.83 251.42 L302.27 256.54 L304.51 259.98 L304.89 265.12 L305.27 249.65 L305.71 254.75 L307.95 258.06 L308.33 263.17 L308.7 247.69 L309.15 252.78 L311.39 255.8 L311.76 260.48 L312.14 246.17 L312.59 250.8 L314.82 253.3 L315.2 257.46 L315.58 244.57 L316.03 248.67 L318.26 250.62 L318.64 254.23 L319.02 242.86 L319.46 246.41 L321.7 247.79 L322.08 250.82 L322.46 241.05 L322.9 244.02 L325.14 244.84 L325.52 247.26 L325.89 239.17 L326.34 241.53 L328.58 241.77 L328.95 243.57 L329.33 237.22 L329.78 238.96 L332.01 238.62 L332.39 239.79 L332.77 235.22 L333.22 236.33 L335.45 235.41 L335.83 235.93 L336.21 233.18 L336.66 233.65 L338.89 232.16 L339.27 232.04 L339.65 231.13 L340.09 230.94 L342.33 228.9 L342.71 228.13 L343.09 229.07 L343.53 228.24 L345.77 225.65 L346.15 224.24 L346.52 227.02 L346.97 225.55 L349.21 222.44 L349.58 220.4 L349.96 225 L350.41 222.9 L352.64 219.29 L353.02 216.64 L353.4 223.03 L353.85 220.31 L356.08 216.23 L356.46 212.98 L356.84 221.11 L357.28 217.8 L359.52 213.27 L359.9 209.46 L360.28 219.26 L360.72 215.39 L362.96 210.45 L363.34 206.09 L363.71 217.5 L364.16 213.09 L366.4 207.79 L366.77 202.92 L367.15 215.84 L367.6 210.93 L369.83 205.29 L370.21 199.96 L370.59 214.29 L371.04 208.91 L373.27 203.05 L373.65 197.49 L374.03 212.53 L374.48 206.94 L376.71 201.14 L377.09 195.6 L377.47 210.66 L377.91 205.09 L380.15 199.43 L380.53 193.92 L380.91 209 L381.35 203.46 L383.59 197.94 L383.97 192.45 L384.34 207.57 L384.79 202.06 L387.03 196.69 L387.4 191.22 L387.78 206.36 L388.23 200.88 L390.46 195.67 L390.84 190.24 L391.22 205.4 L391.67 199.96 L393.9 194.91 L394.28 189.5 L394.66 204.69 L395.11 199.28 L397.34 194.4 L397.72 189.01 L398.1 204.24 L398.54 198.86 L400.78 194.14 L401.16 188.79 L401.53 204.04 L401.98 198.69 L404.22 194.15 L404.59 188.82 L404.97 204.1 L405.42 198.79 L407.65 194.41 L408.03 189.12 L408.41 204.43 L408.86 199.15 L411.09 194.94 L411.47 189.67 L411.85 205.01 L412.3 199.76 L414.53 195.72 L414.91 190.48 L415.29 205.84 L415.73 200.62 L417.97 196.74 L418.35 191.53 L418.73 206.92 L419.17 201.74 L421.41 198.01 L421.79 192.82 L422.16 208.24 L422.61 203.08 L424.85 199.5 L425.22 194.34 L425.6 209.78 L426.05 204.66 L428.28 201.22 L428.66 196.08 L429.04 211.55 L429.49 206.45 L431.72 203.14 L432.1 198.03 L432.48 213.51 L432.93 208.42 L435.16 205.4 L435.54 200.72 L435.92 215.03 L436.36 210.4 L438.6 207.9 L438.98 203.74 L439.35 216.63 L439.8 212.53 L442.04 210.58 L442.41 206.97 L442.79 218.34 L443.24 214.79 L445.47 213.41 L445.85 210.38 L446.23 220.15 L446.68 217.18 L448.91 216.36 L449.29 213.94 L449.67 222.03 L450.12 219.67 L452.35 219.43 L452.73 217.63 L453.11 223.98 L453.55 222.24 L455.79 222.58 L456.17 221.41 L456.55 225.98 L456.99 224.87 L459.23 225.79 L459.61 225.27 L459.98 228.02 L460.43 227.55 L462.67 229.04 L463.04 229.16 L463.42 230.07 L463.87 230.26 L466.1 232.3 L466.48 233.07 L466.86 232.13 L467.31 232.96 L469.54 235.55 L469.92 236.96 L470.3 234.18 L470.75 235.65 L472.98 238.76 L473.36 240.8 L473.74 236.2 L474.18 238.3 L476.42 241.91 L476.8 244.56 L477.17 238.17 L477.62 240.89 L479.86 244.97 L480.23 248.22 L480.61 240.09 L481.06 243.4 L483.29 247.93 L483.67 251.74 L484.05 241.94 L484.5 245.81 L486.73 250.75 L487.11 255.11 L487.49 243.7 L487.94 248.11 L490.17 253.41 L490.55 258.28 L490.93 245.36 L491.37 250.27 L493.61 255.91 L493.99 261.24 L494.37 246.91 L494.81 252.29 L497.05 258.15 L497.43 263.71 L497.8 248.67 L498.25 254.26 L500.49 260.06 L500.86 265.6 L501.24 250.54 L501.69 256.11 L503.92 261.77 L504.3 267.28 L504.68 252.2 L505.13 257.74 L507.36 263.26 L507.74 268.75 L508.12 253.63 L508.57 259.14 L510.8 264.51 L511.18 269.98 L511.56 254.84 L512 260.32 L514.24 265.53 L514.62 270.96 L514.99 255.8 L515.44 261.24 L517.68 266.29 L518.05 271.7 L518.43 256.51 L518.88 261.92 L521.11 266.8 L521.49 272.19 L521.87 256.96 L522.32 262.34 L524.55 267.06 L524.93 272.41 L525.31 257.16 L525.76 262.51 L527.99 267.05 L528.37 272.38 L528.75 257.1 L529.19 262.41 L531.43 266.79 L531.81 272.08 L532.19 256.77 L532.63 262.05 L534.87 266.26 L535.25 271.53 L535.62 256.19 L536.07 261.44 L538.31 265.48 L538.68 270.72 L539.06 255.36 L539.51 260.58 L541.74 264.46" stroke="#FF4D18" stroke-width="1.05" stroke-linejoin="bevel"/>
<path d="M43.1 202.46 L44.65 201.74 L46.19 201.06 L47.74 200.4 L49.29 199.78 L50.84 199.2 L52.38 198.66 L53.93 198.15 L55.48 197.68 L57.02 197.24 L58.57 196.85 L60.12 196.5 L61.67 196.19 L63.21 195.92 L64.76 195.69 L66.31 195.5 L67.86 195.36 L69.4 195.25 L70.95 195.19 L72.5 195.18 L74.04 195.2 L75.59 195.27 L77.14 195.38 L78.69 195.53 L80.23 195.73 L81.78 195.96 L83.33 196.24 L84.87 196.56 L86.42 196.92 L87.97 197.32 L89.52 197.76 L91.06 198.24 L92.61 198.75 L94.16 199.31 L95.7 199.9 L97.25 200.52 L98.8 201.18 L100.35 201.87 L101.89 202.6 L103.44 203.52 L104.99 204.61 L106.53 205.75 L108.08 206.92 L109.63 208.12 L111.18 209.36 L112.72 210.64 L114.27 211.94 L115.82 213.28 L117.37 214.64 L118.91 216.02 L120.46 217.43 L122.01 218.86 L123.55 220.3 L125.1 221.76 L126.65 223.24 L128.2 224.73 L129.74 226.22 L131.29 227.72 L132.84 229.23 L134.38 230.74 L135.93 232.25 L137.48 233.76 L139.03 235.26 L140.57 236.75 L142.12 238.24 L143.67 239.71 L145.21 241.17 L146.76 242.61 L148.31 244.03 L149.86 245.44 L151.4 246.82 L152.95 248.17 L154.5 249.5 L156.04 250.8 L157.59 252.07 L159.14 253.31 L160.69 254.51 L162.23 255.67 L163.78 256.79 L165.33 257.88 L166.88 258.74 L168.42 259.46 L169.97 260.14 L171.52 260.8 L173.06 261.42 L174.61 262 L176.16 262.54 L177.71 263.05 L179.25 263.52 L180.8 263.96 L182.35 264.35 L183.89 264.7 L185.44 265.01 L186.99 265.28 L188.54 265.51 L190.08 265.7 L191.63 265.84 L193.18 265.95 L194.72 266.01 L196.27 266.02 L197.82 266 L199.37 265.93 L200.91 265.82 L202.46 265.67 L204.01 265.47 L205.55 265.24 L207.1 264.96 L208.65 264.64 L210.2 264.28 L211.74 263.88 L213.29 263.44 L214.84 262.96 L216.38 262.45 L217.93 261.89 L219.48 261.3 L221.03 260.68 L222.57 260.02 L224.12 259.33 L225.67 258.6 L227.22 257.68 L228.76 256.59 L230.31 255.45 L231.86 254.28 L233.4 253.08 L234.95 251.84 L236.5 250.56 L238.05 249.26 L239.59 247.92 L241.14 246.56 L242.69 245.18 L244.23 243.77 L245.78 242.34 L247.33 240.9 L248.88 239.44 L250.42 237.96 L251.97 236.47 L253.52 234.98 L255.06 233.48 L256.61 231.97 L258.16 230.46 L259.71 228.95 L261.25 227.44 L262.8 225.94 L264.35 224.45 L265.9 222.96 L267.44 221.49 L268.99 220.03 L270.54 218.59 L272.08 217.17 L273.63 215.76 L275.18 214.38 L276.73 213.03 L278.27 211.7 L279.82 210.4 L281.37 209.13 L282.91 207.89 L284.46 206.69 L286.01 205.53 L287.56 204.41 L289.1 203.32 L290.65 202.46 L292.2 201.74 L293.74 201.06 L295.29 200.4 L296.84 199.78 L298.39 199.2 L299.93 198.66 L301.48 198.15 L303.03 197.68 L304.57 197.24 L306.12 196.85 L307.67 196.5 L309.22 196.19 L310.76 195.92 L312.31 195.69 L313.86 195.5 L315.41 195.36 L316.95 195.25 L318.5 195.19 L320.05 195.18 L321.59 195.2 L323.14 195.27 L324.69 195.38 L326.24 195.53 L327.78 195.73 L329.33 195.96 L330.88 196.24 L332.42 196.56 L333.97 196.92 L335.52 197.32 L337.07 197.76 L338.61 198.24 L340.16 198.75 L341.71 199.31 L343.25 199.9 L344.8 200.52 L346.35 201.18 L347.9 201.87 L349.44 202.6 L350.99 203.52 L352.54 204.61 L354.08 205.75 L355.63 206.92 L357.18 208.12 L358.73 209.36 L360.27 210.64 L361.82 211.94 L363.37 213.28 L364.92 214.64 L366.46 216.02 L368.01 217.43 L369.56 218.86 L371.1 220.3 L372.65 221.76 L374.2 223.24 L375.75 224.73 L377.29 226.22 L378.84 227.72 L380.39 229.23 L381.93 230.74 L383.48 232.25 L385.03 233.76 L386.58 235.26 L388.12 236.75 L389.67 238.24 L391.22 239.71 L392.76 241.17 L394.31 242.61 L395.86 244.03 L397.41 245.44 L398.95 246.82 L400.5 248.17 L402.05 249.5 L403.59 250.8 L405.14 252.07 L406.69 253.31 L408.24 254.51 L409.78 255.67 L411.33 256.79 L412.88 257.88 L414.43 258.74 L415.97 259.46 L417.52 260.14 L419.07 260.8 L420.61 261.42 L422.16 262 L423.71 262.54 L425.26 263.05 L426.8 263.52 L428.35 263.96 L429.9 264.35 L431.44 264.7 L432.99 265.01 L434.54 265.28 L436.09 265.51 L437.63 265.7 L439.18 265.84 L440.73 265.95 L442.27 266.01 L443.82 266.02 L445.37 266 L446.92 265.93 L448.46 265.82 L450.01 265.67 L451.56 265.47 L453.1 265.24 L454.65 264.96 L456.2 264.64 L457.75 264.28 L459.29 263.88 L460.84 263.44 L462.39 262.96 L463.94 262.45 L465.48 261.89 L467.03 261.3 L468.58 260.68 L470.12 260.02 L471.67 259.33 L473.22 258.6 L474.77 257.68 L476.31 256.59 L477.86 255.45 L479.41 254.28 L480.95 253.08 L482.5 251.84 L484.05 250.56 L485.6 249.26 L487.14 247.92 L488.69 246.56 L490.24 245.18 L491.78 243.77 L493.33 242.34 L494.88 240.9 L496.43 239.44 L497.97 237.96 L499.52 236.47 L501.07 234.98 L502.61 233.48 L504.16 231.97 L505.71 230.46 L507.26 228.95 L508.8 227.44 L510.35 225.94 L511.9 224.45 L513.45 222.96 L514.99 221.49 L516.54 220.03 L518.09 218.59 L519.63 217.17 L521.18 215.76 L522.73 214.38 L524.28 213.03 L525.82 211.7 L527.37 210.4 L528.92 209.13 L530.46 207.89 L532.01 206.69 L533.56 205.53 L535.11 204.41 L536.65 203.32 L538.2 202.46" stroke="#3a3a3a" stroke-width="0.85"/>
<path d="M43.1 217.94 L44.65 217.22 L46.19 216.53 L47.74 215.88 L49.29 215.26 L50.84 214.68 L52.38 214.13 L53.93 213.62 L55.48 213.15 L57.02 212.72 L58.57 212.33 L60.12 211.98 L61.67 211.67 L63.21 211.39 L64.76 211.17 L66.31 210.98 L67.86 210.83 L69.4 210.73 L70.95 210.67 L72.5 210.65 L74.04 210.68 L75.59 210.75 L77.14 210.86 L78.69 211.01 L80.23 211.2 L81.78 211.44 L83.33 211.72 L84.87 212.04 L86.42 212.4 L87.97 212.8 L89.52 213.24 L91.06 213.72 L92.61 214.23 L94.16 214.79 L95.7 215.38 L97.25 216 L98.8 216.66 L100.35 217.35 L101.89 218.08 L103.44 218.67 L104.99 219.15 L106.53 219.65 L108.08 220.16 L109.63 220.69 L111.18 221.24 L112.72 221.8 L114.27 222.38 L115.82 222.97 L117.37 223.57 L118.91 224.18 L120.46 224.8 L122.01 225.43 L123.55 226.06 L125.1 226.71 L126.65 227.36 L128.2 228.01 L129.74 228.67 L131.29 229.33 L132.84 230 L134.38 230.66 L135.93 231.33 L137.48 231.99 L139.03 232.65 L140.57 233.31 L142.12 233.97 L143.67 234.61 L145.21 235.26 L146.76 235.89 L148.31 236.52 L149.86 237.14 L151.4 237.75 L152.95 238.34 L154.5 238.93 L156.04 239.5 L157.59 240.06 L159.14 240.61 L160.69 241.13 L162.23 241.65 L163.78 242.14 L165.33 242.62 L166.88 243.26 L168.42 243.98 L169.97 244.67 L171.52 245.32 L173.06 245.94 L174.61 246.52 L176.16 247.07 L177.71 247.58 L179.25 248.05 L180.8 248.48 L182.35 248.87 L183.89 249.22 L185.44 249.53 L186.99 249.81 L188.54 250.03 L190.08 250.22 L191.63 250.37 L193.18 250.47 L194.72 250.53 L196.27 250.55 L197.82 250.52 L199.37 250.45 L200.91 250.34 L202.46 250.19 L204.01 250 L205.55 249.76 L207.1 249.48 L208.65 249.16 L210.2 248.8 L211.74 248.4 L213.29 247.96 L214.84 247.48 L216.38 246.97 L217.93 246.41 L219.48 245.82 L221.03 245.2 L222.57 244.54 L224.12 243.85 L225.67 243.12 L227.22 242.53 L228.76 242.05 L230.31 241.55 L231.86 241.04 L233.4 240.51 L234.95 239.96 L236.5 239.4 L238.05 238.82 L239.59 238.23 L241.14 237.63 L242.69 237.02 L244.23 236.4 L245.78 235.77 L247.33 235.14 L248.88 234.49 L250.42 233.84 L251.97 233.19 L253.52 232.53 L255.06 231.87 L256.61 231.2 L258.16 230.54 L259.71 229.87 L261.25 229.21 L262.8 228.55 L264.35 227.89 L265.9 227.23 L267.44 226.59 L268.99 225.94 L270.54 225.31 L272.08 224.68 L273.63 224.06 L275.18 223.45 L276.73 222.86 L278.27 222.27 L279.82 221.7 L281.37 221.14 L282.91 220.59 L284.46 220.07 L286.01 219.55 L287.56 219.06 L289.1 218.58 L290.65 217.94 L292.2 217.22 L293.74 216.53 L295.29 215.88 L296.84 215.26 L298.39 214.68 L299.93 214.13 L301.48 213.62 L303.03 213.15 L304.57 212.72 L306.12 212.33 L307.67 211.98 L309.22 211.67 L310.76 211.39 L312.31 211.17 L313.86 210.98 L315.41 210.83 L316.95 210.73 L318.5 210.67 L320.05 210.65 L321.59 210.68 L323.14 210.75 L324.69 210.86 L326.24 211.01 L327.78 211.2 L329.33 211.44 L330.88 211.72 L332.42 212.04 L333.97 212.4 L335.52 212.8 L337.07 213.24 L338.61 213.72 L340.16 214.23 L341.71 214.79 L343.25 215.38 L344.8 216 L346.35 216.66 L347.9 217.35 L349.44 218.08 L350.99 218.67 L352.54 219.15 L354.08 219.65 L355.63 220.16 L357.18 220.69 L358.73 221.24 L360.27 221.8 L361.82 222.38 L363.37 222.97 L364.92 223.57 L366.46 224.18 L368.01 224.8 L369.56 225.43 L371.1 226.06 L372.65 226.71 L374.2 227.36 L375.75 228.01 L377.29 228.67 L378.84 229.33 L380.39 230 L381.93 230.66 L383.48 231.33 L385.03 231.99 L386.58 232.65 L388.12 233.31 L389.67 233.97 L391.22 234.61 L392.76 235.26 L394.31 235.89 L395.86 236.52 L397.41 237.14 L398.95 237.75 L400.5 238.34 L402.05 238.93 L403.59 239.5 L405.14 240.06 L406.69 240.61 L408.24 241.13 L409.78 241.65 L411.33 242.14 L412.88 242.62 L414.43 243.26 L415.97 243.98 L417.52 244.67 L419.07 245.32 L420.61 245.94 L422.16 246.52 L423.71 247.07 L425.26 247.58 L426.8 248.05 L428.35 248.48 L429.9 248.87 L431.44 249.22 L432.99 249.53 L434.54 249.81 L436.09 250.03 L437.63 250.22 L439.18 250.37 L440.73 250.47 L442.27 250.53 L443.82 250.55 L445.37 250.52 L446.92 250.45 L448.46 250.34 L450.01 250.19 L451.56 250 L453.1 249.76 L454.65 249.48 L456.2 249.16 L457.75 248.8 L459.29 248.4 L460.84 247.96 L462.39 247.48 L463.94 246.97 L465.48 246.41 L467.03 245.82 L468.58 245.2 L470.12 244.54 L471.67 243.85 L473.22 243.12 L474.77 242.53 L476.31 242.05 L477.86 241.55 L479.41 241.04 L480.95 240.51 L482.5 239.96 L484.05 239.4 L485.6 238.82 L487.14 238.23 L488.69 237.63 L490.24 237.02 L491.78 236.4 L493.33 235.77 L494.88 235.14 L496.43 234.49 L497.97 233.84 L499.52 233.19 L501.07 232.53 L502.61 231.87 L504.16 231.2 L505.71 230.54 L507.26 229.87 L508.8 229.21 L510.35 228.55 L511.9 227.89 L513.45 227.23 L514.99 226.59 L516.54 225.94 L518.09 225.31 L519.63 224.68 L521.18 224.06 L522.73 223.45 L524.28 222.86 L525.82 222.27 L527.37 221.7 L528.92 221.14 L530.46 220.59 L532.01 220.07 L533.56 219.55 L535.11 219.06 L536.65 218.58 L538.2 217.94" stroke="#3a3a3a" stroke-width="0.85"/>
<path d="M43.1 225.88 L44.65 227.03 L46.19 228.18 L47.74 229.33 L49.29 230.49 L50.84 231.65 L52.38 232.81 L53.93 233.96 L55.48 235.11 L57.02 236.25 L58.57 237.38 L60.12 238.5 L61.67 239.61 L63.21 240.71 L64.76 241.79 L66.31 242.85 L67.86 243.89 L69.4 244.92 L70.95 245.92 L72.5 246.9 L74.04 247.85 L75.59 248.77 L77.14 249.67 L78.69 250.54 L80.23 251.38 L81.78 252.08 L83.33 252.61 L84.87 253.12 L86.42 253.61 L87.97 254.07 L89.52 254.5 L91.06 254.91 L92.61 255.29 L94.16 255.64 L95.7 255.97 L97.25 256.26 L98.8 256.53 L100.35 256.76 L101.89 256.97 L103.44 257.14 L104.99 257.29 L106.53 257.4 L108.08 257.48 L109.63 257.53 L111.18 257.55 L112.72 257.54 L114.27 257.49 L115.82 257.42 L117.37 257.31 L118.91 257.17 L120.46 257 L122.01 256.8 L123.55 256.57 L125.1 256.31 L126.65 256.03 L128.2 255.71 L129.74 255.36 L131.29 254.98 L132.84 254.58 L134.38 254.15 L135.93 253.7 L137.48 253.21 L139.03 252.71 L140.57 252.18 L142.12 251.53 L143.67 250.7 L145.21 249.84 L146.76 248.94 L148.31 248.02 L149.86 247.08 L151.4 246.1 L152.95 245.11 L154.5 244.09 L156.04 243.05 L157.59 241.99 L159.14 240.91 L160.69 239.82 L162.23 238.71 L163.78 237.59 L165.33 236.46 L166.88 235.32 L168.42 234.17 L169.97 233.02 L171.52 231.87 L173.06 230.71 L174.61 229.55 L176.16 228.39 L177.71 227.24 L179.25 226.09 L180.8 224.95 L182.35 223.82 L183.89 222.7 L185.44 221.59 L186.99 220.49 L188.54 219.41 L190.08 218.35 L191.63 217.31 L193.18 216.28 L194.72 215.28 L196.27 214.3 L197.82 213.35 L199.37 212.43 L200.91 211.53 L202.46 210.66 L204.01 209.82 L205.55 209.12 L207.1 208.59 L208.65 208.08 L210.2 207.59 L211.74 207.13 L213.29 206.7 L214.84 206.29 L216.38 205.91 L217.93 205.56 L219.48 205.23 L221.03 204.94 L222.57 204.67 L224.12 204.44 L225.67 204.23 L227.22 204.06 L228.76 203.91 L230.31 203.8 L231.86 203.72 L233.4 203.67 L234.95 203.65 L236.5 203.66 L238.05 203.71 L239.59 203.78 L241.14 203.89 L242.69 204.03 L244.23 204.2 L245.78 204.4 L247.33 204.63 L248.88 204.89 L250.42 205.17 L251.97 205.49 L253.52 205.84 L255.06 206.22 L256.61 206.62 L258.16 207.05 L259.71 207.5 L261.25 207.99 L262.8 208.49 L264.35 209.02 L265.9 209.67 L267.44 210.5 L268.99 211.36 L270.54 212.26 L272.08 213.18 L273.63 214.12 L275.18 215.1 L276.73 216.09 L278.27 217.11 L279.82 218.15 L281.37 219.21 L282.91 220.29 L284.46 221.38 L286.01 222.49 L287.56 223.61 L289.1 224.74 L290.65 225.88 L292.2 227.03 L293.74 228.18 L295.29 229.33 L296.84 230.49 L298.39 231.65 L299.93 232.81 L301.48 233.96 L303.03 235.11 L304.57 236.25 L306.12 237.38 L307.67 238.5 L309.22 239.61 L310.76 240.71 L312.31 241.79 L313.86 242.85 L315.41 243.89 L316.95 244.92 L318.5 245.92 L320.05 246.9 L321.59 247.85 L323.14 248.77 L324.69 249.67 L326.24 250.54 L327.78 251.38 L329.33 252.08 L330.88 252.61 L332.42 253.12 L333.97 253.61 L335.52 254.07 L337.07 254.5 L338.61 254.91 L340.16 255.29 L341.71 255.64 L343.25 255.97 L344.8 256.26 L346.35 256.53 L347.9 256.76 L349.44 256.97 L350.99 257.14 L352.54 257.29 L354.08 257.4 L355.63 257.48 L357.18 257.53 L358.73 257.55 L360.27 257.54 L361.82 257.49 L363.37 257.42 L364.92 257.31 L366.46 257.17 L368.01 257 L369.56 256.8 L371.1 256.57 L372.65 256.31 L374.2 256.03 L375.75 255.71 L377.29 255.36 L378.84 254.98 L380.39 254.58 L381.93 254.15 L383.48 253.7 L385.03 253.21 L386.58 252.71 L388.12 252.18 L389.67 251.53 L391.22 250.7 L392.76 249.84 L394.31 248.94 L395.86 248.02 L397.41 247.08 L398.95 246.1 L400.5 245.11 L402.05 244.09 L403.59 243.05 L405.14 241.99 L406.69 240.91 L408.24 239.82 L409.78 238.71 L411.33 237.59 L412.88 236.46 L414.43 235.32 L415.97 234.17 L417.52 233.02 L419.07 231.87 L420.61 230.71 L422.16 229.55 L423.71 228.39 L425.26 227.24 L426.8 226.09 L428.35 224.95 L429.9 223.82 L431.44 222.7 L432.99 221.59 L434.54 220.49 L436.09 219.41 L437.63 218.35 L439.18 217.31 L440.73 216.28 L442.27 215.28 L443.82 214.3 L445.37 213.35 L446.92 212.43 L448.46 211.53 L450.01 210.66 L451.56 209.82 L453.1 209.12 L454.65 208.59 L456.2 208.08 L457.75 207.59 L459.29 207.13 L460.84 206.7 L462.39 206.29 L463.94 205.91 L465.48 205.56 L467.03 205.23 L468.58 204.94 L470.12 204.67 L471.67 204.44 L473.22 204.23 L474.77 204.06 L476.31 203.91 L477.86 203.8 L479.41 203.72 L480.95 203.67 L482.5 203.65 L484.05 203.66 L485.6 203.71 L487.14 203.78 L488.69 203.89 L490.24 204.03 L491.78 204.2 L493.33 204.4 L494.88 204.63 L496.43 204.89 L497.97 205.17 L499.52 205.49 L501.07 205.84 L502.61 206.22 L504.16 206.62 L505.71 207.05 L507.26 207.5 L508.8 207.99 L510.35 208.49 L511.9 209.02 L513.45 209.67 L514.99 210.5 L516.54 211.36 L518.09 212.26 L519.63 213.18 L521.18 214.12 L522.73 215.1 L524.28 216.09 L525.82 217.11 L527.37 218.15 L528.92 219.21 L530.46 220.29 L532.01 221.38 L533.56 222.49 L535.11 223.61 L536.65 224.74 L538.2 225.88" stroke="#3a3a3a" stroke-width="0.85"/>
<path d="M43.1 228.79 L44.65 229.23 L46.19 229.67 L47.74 230.11 L49.29 230.56 L50.84 231 L52.38 231.45 L53.93 231.89 L55.48 232.33 L57.02 232.77 L58.57 233.2 L60.12 233.63 L61.67 234.06 L63.21 234.48 L64.76 234.9 L66.31 235.3 L67.86 235.71 L69.4 236.1 L70.95 236.48 L72.5 236.86 L74.04 237.22 L75.59 237.58 L77.14 237.92 L78.69 238.26 L80.23 238.58 L81.78 239 L83.33 239.53 L84.87 240.04 L86.42 240.53 L87.97 240.99 L89.52 241.42 L91.06 241.83 L92.61 242.21 L94.16 242.56 L95.7 242.89 L97.25 243.18 L98.8 243.45 L100.35 243.68 L101.89 243.89 L103.44 244.06 L104.99 244.21 L106.53 244.32 L108.08 244.4 L109.63 244.45 L111.18 244.47 L112.72 244.46 L114.27 244.41 L115.82 244.34 L117.37 244.23 L118.91 244.09 L120.46 243.92 L122.01 243.72 L123.55 243.49 L125.1 243.23 L126.65 242.95 L128.2 242.63 L129.74 242.28 L131.29 241.9 L132.84 241.5 L134.38 241.07 L135.93 240.62 L137.48 240.13 L139.03 239.63 L140.57 239.1 L142.12 238.64 L143.67 238.32 L145.21 237.99 L146.76 237.64 L148.31 237.29 L149.86 236.93 L151.4 236.55 L152.95 236.17 L154.5 235.78 L156.04 235.38 L157.59 234.97 L159.14 234.56 L160.69 234.14 L162.23 233.71 L163.78 233.28 L165.33 232.85 L166.88 232.41 L168.42 231.97 L169.97 231.53 L171.52 231.09 L173.06 230.64 L174.61 230.2 L176.16 229.75 L177.71 229.31 L179.25 228.87 L180.8 228.43 L182.35 228 L183.89 227.57 L185.44 227.14 L186.99 226.72 L188.54 226.3 L190.08 225.9 L191.63 225.49 L193.18 225.1 L194.72 224.72 L196.27 224.34 L197.82 223.98 L199.37 223.62 L200.91 223.28 L202.46 222.94 L204.01 222.62 L205.55 222.2 L207.1 221.67 L208.65 221.16 L210.2 220.67 L211.74 220.21 L213.29 219.78 L214.84 219.37 L216.38 218.99 L217.93 218.64 L219.48 218.31 L221.03 218.02 L222.57 217.75 L224.12 217.52 L225.67 217.31 L227.22 217.14 L228.76 216.99 L230.31 216.88 L231.86 216.8 L233.4 216.75 L234.95 216.73 L236.5 216.74 L238.05 216.79 L239.59 216.86 L241.14 216.97 L242.69 217.11 L244.23 217.28 L245.78 217.48 L247.33 217.71 L248.88 217.97 L250.42 218.25 L251.97 218.57 L253.52 218.92 L255.06 219.3 L256.61 219.7 L258.16 220.13 L259.71 220.58 L261.25 221.07 L262.8 221.57 L264.35 222.1 L265.9 222.56 L267.44 222.88 L268.99 223.21 L270.54 223.56 L272.08 223.91 L273.63 224.27 L275.18 224.65 L276.73 225.03 L278.27 225.42 L279.82 225.82 L281.37 226.23 L282.91 226.64 L284.46 227.06 L286.01 227.49 L287.56 227.92 L289.1 228.35 L290.65 228.79 L292.2 229.23 L293.74 229.67 L295.29 230.11 L296.84 230.56 L298.39 231 L299.93 231.45 L301.48 231.89 L303.03 232.33 L304.57 232.77 L306.12 233.2 L307.67 233.63 L309.22 234.06 L310.76 234.48 L312.31 234.9 L313.86 235.3 L315.41 235.71 L316.95 236.1 L318.5 236.48 L320.05 236.86 L321.59 237.22 L323.14 237.58 L324.69 237.92 L326.24 238.26 L327.78 238.58 L329.33 239 L330.88 239.53 L332.42 240.04 L333.97 240.53 L335.52 240.99 L337.07 241.42 L338.61 241.83 L340.16 242.21 L341.71 242.56 L343.25 242.89 L344.8 243.18 L346.35 243.45 L347.9 243.68 L349.44 243.89 L350.99 244.06 L352.54 244.21 L354.08 244.32 L355.63 244.4 L357.18 244.45 L358.73 244.47 L360.27 244.46 L361.82 244.41 L363.37 244.34 L364.92 244.23 L366.46 244.09 L368.01 243.92 L369.56 243.72 L371.1 243.49 L372.65 243.23 L374.2 242.95 L375.75 242.63 L377.29 242.28 L378.84 241.9 L380.39 241.5 L381.93 241.07 L383.48 240.62 L385.03 240.13 L386.58 239.63 L388.12 239.1 L389.67 238.64 L391.22 238.32 L392.76 237.99 L394.31 237.64 L395.86 237.29 L397.41 236.93 L398.95 236.55 L400.5 236.17 L402.05 235.78 L403.59 235.38 L405.14 234.97 L406.69 234.56 L408.24 234.14 L409.78 233.71 L411.33 233.28 L412.88 232.85 L414.43 232.41 L415.97 231.97 L417.52 231.53 L419.07 231.09 L420.61 230.64 L422.16 230.2 L423.71 229.75 L425.26 229.31 L426.8 228.87 L428.35 228.43 L429.9 228 L431.44 227.57 L432.99 227.14 L434.54 226.72 L436.09 226.3 L437.63 225.9 L439.18 225.49 L440.73 225.1 L442.27 224.72 L443.82 224.34 L445.37 223.98 L446.92 223.62 L448.46 223.28 L450.01 222.94 L451.56 222.62 L453.1 222.2 L454.65 221.67 L456.2 221.16 L457.75 220.67 L459.29 220.21 L460.84 219.78 L462.39 219.37 L463.94 218.99 L465.48 218.64 L467.03 218.31 L468.58 218.02 L470.12 217.75 L471.67 217.52 L473.22 217.31 L474.77 217.14 L476.31 216.99 L477.86 216.88 L479.41 216.8 L480.95 216.75 L482.5 216.73 L484.05 216.74 L485.6 216.79 L487.14 216.86 L488.69 216.97 L490.24 217.11 L491.78 217.28 L493.33 217.48 L494.88 217.71 L496.43 217.97 L497.97 218.25 L499.52 218.57 L501.07 218.92 L502.61 219.3 L504.16 219.7 L505.71 220.13 L507.26 220.58 L508.8 221.07 L510.35 221.57 L511.9 222.1 L513.45 222.56 L514.99 222.88 L516.54 223.21 L518.09 223.56 L519.63 223.91 L521.18 224.27 L522.73 224.65 L524.28 225.03 L525.82 225.42 L527.37 225.82 L528.92 226.23 L530.46 226.64 L532.01 227.06 L533.56 227.49 L535.11 227.92 L536.65 228.35 L538.2 228.79" stroke="#3a3a3a" stroke-width="0.85"/>
<path d="M43.1 270.85 L44.65 270.43 L46.19 269.95 L47.74 269.42 L49.29 268.85 L50.84 268.22 L52.38 267.56 L53.93 266.84 L55.48 266.09 L57.02 265.29 L58.57 264.44 L60.12 263.56 L61.67 262.57 L63.21 261.32 L64.76 260.01 L66.31 258.66 L67.86 257.27 L69.4 255.84 L70.95 254.36 L72.5 252.86 L74.04 251.31 L75.59 249.74 L77.14 248.13 L78.69 246.5 L80.23 244.84 L81.78 243.17 L83.33 241.47 L84.87 239.75 L86.42 238.02 L87.97 236.28 L89.52 234.54 L91.06 232.78 L92.61 231.02 L94.16 229.26 L95.7 227.51 L97.25 225.75 L98.8 224.01 L100.35 222.28 L101.89 220.55 L103.44 218.85 L104.99 217.16 L106.53 215.49 L108.08 213.85 L109.63 212.23 L111.18 210.64 L112.72 209.08 L114.27 207.56 L115.82 206.06 L117.37 204.61 L118.91 203.2 L120.46 201.83 L122.01 200.5 L123.55 199.22 L125.1 198.08 L126.65 197.18 L128.2 196.31 L129.74 195.49 L131.29 194.72 L132.84 193.98 L134.38 193.29 L135.93 192.65 L137.48 192.05 L139.03 191.5 L140.57 191 L142.12 190.55 L143.67 190.14 L145.21 189.79 L146.76 189.49 L148.31 189.24 L149.86 189.05 L151.4 188.9 L152.95 188.81 L154.5 188.77 L156.04 188.79 L157.59 188.85 L159.14 188.97 L160.69 189.14 L162.23 189.37 L163.78 189.64 L165.33 189.97 L166.88 190.35 L168.42 190.77 L169.97 191.25 L171.52 191.78 L173.06 192.35 L174.61 192.98 L176.16 193.64 L177.71 194.36 L179.25 195.11 L180.8 195.91 L182.35 196.76 L183.89 197.64 L185.44 198.63 L186.99 199.88 L188.54 201.19 L190.08 202.54 L191.63 203.93 L193.18 205.36 L194.72 206.84 L196.27 208.34 L197.82 209.89 L199.37 211.46 L200.91 213.07 L202.46 214.7 L204.01 216.36 L205.55 218.03 L207.1 219.73 L208.65 221.45 L210.2 223.18 L211.74 224.92 L213.29 226.66 L214.84 228.42 L216.38 230.18 L217.93 231.94 L219.48 233.69 L221.03 235.45 L222.57 237.19 L224.12 238.92 L225.67 240.65 L227.22 242.35 L228.76 244.04 L230.31 245.71 L231.86 247.35 L233.4 248.97 L234.95 250.56 L236.5 252.12 L238.05 253.64 L239.59 255.14 L241.14 256.59 L242.69 258 L244.23 259.37 L245.78 260.7 L247.33 261.98 L248.88 263.12 L250.42 264.02 L251.97 264.89 L253.52 265.71 L255.06 266.48 L256.61 267.22 L258.16 267.91 L259.71 268.55 L261.25 269.15 L262.8 269.7 L264.35 270.2 L265.9 270.65 L267.44 271.06 L268.99 271.41 L270.54 271.71 L272.08 271.96 L273.63 272.15 L275.18 272.3 L276.73 272.39 L278.27 272.43 L279.82 272.41 L281.37 272.35 L282.91 272.23 L284.46 272.06 L286.01 271.83 L287.56 271.56 L289.1 271.23 L290.65 270.85 L292.2 270.43 L293.74 269.95 L295.29 269.42 L296.84 268.85 L298.39 268.22 L299.93 267.56 L301.48 266.84 L303.03 266.09 L304.57 265.29 L306.12 264.44 L307.67 263.56 L309.22 262.57 L310.76 261.32 L312.31 260.01 L313.86 258.66 L315.41 257.27 L316.95 255.84 L318.5 254.36 L320.05 252.86 L321.59 251.31 L323.14 249.74 L324.69 248.13 L326.24 246.5 L327.78 244.84 L329.33 243.17 L330.88 241.47 L332.42 239.75 L333.97 238.02 L335.52 236.28 L337.07 234.54 L338.61 232.78 L340.16 231.02 L341.71 229.26 L343.25 227.51 L344.8 225.75 L346.35 224.01 L347.9 222.28 L349.44 220.55 L350.99 218.85 L352.54 217.16 L354.08 215.49 L355.63 213.85 L357.18 212.23 L358.73 210.64 L360.27 209.08 L361.82 207.56 L363.37 206.06 L364.92 204.61 L366.46 203.2 L368.01 201.83 L369.56 200.5 L371.1 199.22 L372.65 198.08 L374.2 197.18 L375.75 196.31 L377.29 195.49 L378.84 194.72 L380.39 193.98 L381.93 193.29 L383.48 192.65 L385.03 192.05 L386.58 191.5 L388.12 191 L389.67 190.55 L391.22 190.14 L392.76 189.79 L394.31 189.49 L395.86 189.24 L397.41 189.05 L398.95 188.9 L400.5 188.81 L402.05 188.77 L403.59 188.79 L405.14 188.85 L406.69 188.97 L408.24 189.14 L409.78 189.37 L411.33 189.64 L412.88 189.97 L414.43 190.35 L415.97 190.77 L417.52 191.25 L419.07 191.78 L420.61 192.35 L422.16 192.98 L423.71 193.64 L425.26 194.36 L426.8 195.11 L428.35 195.91 L429.9 196.76 L431.44 197.64 L432.99 198.63 L434.54 199.88 L436.09 201.19 L437.63 202.54 L439.18 203.93 L440.73 205.36 L442.27 206.84 L443.82 208.34 L445.37 209.89 L446.92 211.46 L448.46 213.07 L450.01 214.7 L451.56 216.36 L453.1 218.03 L454.65 219.73 L456.2 221.45 L457.75 223.18 L459.29 224.92 L460.84 226.66 L462.39 228.42 L463.94 230.18 L465.48 231.94 L467.03 233.69 L468.58 235.45 L470.12 237.19 L471.67 238.92 L473.22 240.65 L474.77 242.35 L476.31 244.04 L477.86 245.71 L479.41 247.35 L480.95 248.97 L482.5 250.56 L484.05 252.12 L485.6 253.64 L487.14 255.14 L488.69 256.59 L490.24 258 L491.78 259.37 L493.33 260.7 L494.88 261.98 L496.43 263.12 L497.97 264.02 L499.52 264.89 L501.07 265.71 L502.61 266.48 L504.16 267.22 L505.71 267.91 L507.26 268.55 L508.8 269.15 L510.35 269.7 L511.9 270.2 L513.45 270.65 L514.99 271.06 L516.54 271.41 L518.09 271.71 L519.63 271.96 L521.18 272.15 L522.73 272.3 L524.28 272.39 L525.82 272.43 L527.37 272.41 L528.92 272.35 L530.46 272.23 L532.01 272.06 L533.56 271.83 L535.11 271.56 L536.65 271.23 L538.2 270.85" stroke="#3a3a3a" stroke-width="0.85"/>
<path d="M43.1 255.59 L44.65 255.17 L46.19 254.69 L47.74 254.16 L49.29 253.59 L50.84 252.96 L52.38 252.3 L53.93 251.58 L55.48 250.83 L57.02 250.03 L58.57 249.18 L60.12 248.3 L61.67 247.45 L63.21 246.78 L64.76 246.1 L66.31 245.39 L67.86 244.65 L69.4 243.9 L70.95 243.12 L72.5 242.33 L74.04 241.51 L75.59 240.68 L77.14 239.84 L78.69 238.98 L80.23 238.1 L81.78 237.22 L83.33 236.33 L84.87 235.42 L86.42 234.51 L87.97 233.59 L89.52 232.67 L91.06 231.75 L92.61 230.82 L94.16 229.9 L95.7 228.97 L97.25 228.05 L98.8 227.13 L100.35 226.21 L101.89 225.31 L103.44 224.41 L104.99 223.52 L106.53 222.64 L108.08 221.77 L109.63 220.92 L111.18 220.08 L112.72 219.26 L114.27 218.46 L115.82 217.67 L117.37 216.91 L118.91 216.16 L120.46 215.44 L122.01 214.74 L123.55 214.07 L125.1 213.34 L126.65 212.44 L128.2 211.57 L129.74 210.75 L131.29 209.98 L132.84 209.24 L134.38 208.55 L135.93 207.91 L137.48 207.31 L139.03 206.76 L140.57 206.26 L142.12 205.81 L143.67 205.4 L145.21 205.05 L146.76 204.75 L148.31 204.5 L149.86 204.31 L151.4 204.16 L152.95 204.07 L154.5 204.03 L156.04 204.05 L157.59 204.11 L159.14 204.23 L160.69 204.4 L162.23 204.63 L163.78 204.9 L165.33 205.23 L166.88 205.61 L168.42 206.03 L169.97 206.51 L171.52 207.04 L173.06 207.61 L174.61 208.24 L176.16 208.9 L177.71 209.62 L179.25 210.37 L180.8 211.17 L182.35 212.02 L183.89 212.9 L185.44 213.75 L186.99 214.42 L188.54 215.1 L190.08 215.81 L191.63 216.55 L193.18 217.3 L194.72 218.08 L196.27 218.87 L197.82 219.69 L199.37 220.52 L200.91 221.36 L202.46 222.22 L204.01 223.1 L205.55 223.98 L207.1 224.87 L208.65 225.78 L210.2 226.69 L211.74 227.61 L213.29 228.53 L214.84 229.45 L216.38 230.38 L217.93 231.3 L219.48 232.23 L221.03 233.15 L222.57 234.07 L224.12 234.99 L225.67 235.89 L227.22 236.79 L228.76 237.68 L230.31 238.56 L231.86 239.43 L233.4 240.28 L234.95 241.12 L236.5 241.94 L238.05 242.74 L239.59 243.53 L241.14 244.29 L242.69 245.04 L244.23 245.76 L245.78 246.46 L247.33 247.13 L248.88 247.86 L250.42 248.76 L251.97 249.63 L253.52 250.45 L255.06 251.22 L256.61 251.96 L258.16 252.65 L259.71 253.29 L261.25 253.89 L262.8 254.44 L264.35 254.94 L265.9 255.39 L267.44 255.8 L268.99 256.15 L270.54 256.45 L272.08 256.7 L273.63 256.89 L275.18 257.04 L276.73 257.13 L278.27 257.17 L279.82 257.15 L281.37 257.09 L282.91 256.97 L284.46 256.8 L286.01 256.57 L287.56 256.3 L289.1 255.97 L290.65 255.59 L292.2 255.17 L293.74 254.69 L295.29 254.16 L296.84 253.59 L298.39 252.96 L299.93 252.3 L301.48 251.58 L303.03 250.83 L304.57 250.03 L306.12 249.18 L307.67 248.3 L309.22 247.45 L310.76 246.78 L312.31 246.1 L313.86 245.39 L315.41 244.65 L316.95 243.9 L318.5 243.12 L320.05 242.33 L321.59 241.51 L323.14 240.68 L324.69 239.84 L326.24 238.98 L327.78 238.1 L329.33 237.22 L330.88 236.33 L332.42 235.42 L333.97 234.51 L335.52 233.59 L337.07 232.67 L338.61 231.75 L340.16 230.82 L341.71 229.9 L343.25 228.97 L344.8 228.05 L346.35 227.13 L347.9 226.21 L349.44 225.31 L350.99 224.41 L352.54 223.52 L354.08 222.64 L355.63 221.77 L357.18 220.92 L358.73 220.08 L360.27 219.26 L361.82 218.46 L363.37 217.67 L364.92 216.91 L366.46 216.16 L368.01 215.44 L369.56 214.74 L371.1 214.07 L372.65 213.34 L374.2 212.44 L375.75 211.57 L377.29 210.75 L378.84 209.98 L380.39 209.24 L381.93 208.55 L383.48 207.91 L385.03 207.31 L386.58 206.76 L388.12 206.26 L389.67 205.81 L391.22 205.4 L392.76 205.05 L394.31 204.75 L395.86 204.5 L397.41 204.31 L398.95 204.16 L400.5 204.07 L402.05 204.03 L403.59 204.05 L405.14 204.11 L406.69 204.23 L408.24 204.4 L409.78 204.63 L411.33 204.9 L412.88 205.23 L414.43 205.61 L415.97 206.03 L417.52 206.51 L419.07 207.04 L420.61 207.61 L422.16 208.24 L423.71 208.9 L425.26 209.62 L426.8 210.37 L428.35 211.17 L429.9 212.02 L431.44 212.9 L432.99 213.75 L434.54 214.42 L436.09 215.1 L437.63 215.81 L439.18 216.55 L440.73 217.3 L442.27 218.08 L443.82 218.87 L445.37 219.69 L446.92 220.52 L448.46 221.36 L450.01 222.22 L451.56 223.1 L453.1 223.98 L454.65 224.87 L456.2 225.78 L457.75 226.69 L459.29 227.61 L460.84 228.53 L462.39 229.45 L463.94 230.38 L465.48 231.3 L467.03 232.23 L468.58 233.15 L470.12 234.07 L471.67 234.99 L473.22 235.89 L474.77 236.79 L476.31 237.68 L477.86 238.56 L479.41 239.43 L480.95 240.28 L482.5 241.12 L484.05 241.94 L485.6 242.74 L487.14 243.53 L488.69 244.29 L490.24 245.04 L491.78 245.76 L493.33 246.46 L494.88 247.13 L496.43 247.86 L497.97 248.76 L499.52 249.63 L501.07 250.45 L502.61 251.22 L504.16 251.96 L505.71 252.65 L507.26 253.29 L508.8 253.89 L510.35 254.44 L511.9 254.94 L513.45 255.39 L514.99 255.8 L516.54 256.15 L518.09 256.45 L519.63 256.7 L521.18 256.89 L522.73 257.04 L524.28 257.13 L525.82 257.17 L527.37 257.15 L528.92 257.09 L530.46 256.97 L532.01 256.8 L533.56 256.57 L535.11 256.3 L536.65 255.97 L538.2 255.59" stroke="#3a3a3a" stroke-width="0.85"/>
</g>
<path d="M104.5 176.1 v5 M104.5 285.1 v-5 M166.5 176.1 v5 M166.5 285.1 v-5 M228.5 176.1 v5 M228.5 285.1 v-5 M290.5 176.1 v5 M290.5 285.1 v-5 M352.5 176.1 v5 M352.5 285.1 v-5 M414.5 176.1 v5 M414.5 285.1 v-5 M476.5 176.1 v5 M476.5 285.1 v-5 M43.1 279.5 h5 M538.2 279.5 h-5 M43.1 263.5 h5 M538.2 263.5 h-5 M43.1 246.5 h5 M538.2 246.5 h-5 M43.1 230.5 h5 M538.2 230.5 h-5 M43.1 214.5 h5 M538.2 214.5 h-5 M43.1 197.5 h5 M538.2 197.5 h-5 M43.1 181.5 h5 M538.2 181.5 h-5" stroke="#111" stroke-width="1" fill="none"/>
<rect x="43.1" y="176.1" width="495.1" height="109" stroke="#111" stroke-width="1" fill="none"/>
<text x="43.1" y="301.8" font-size="15" text-anchor="middle">-20</text>
<text x="104.99" y="301.8" font-size="15" text-anchor="middle">-15</text>
<text x="166.88" y="301.8" font-size="15" text-anchor="middle">-10</text>
<text x="228.76" y="301.8" font-size="15" text-anchor="middle">-5</text>
<text x="290.65" y="301.8" font-size="15" text-anchor="middle">0</text>
<text x="352.54" y="301.8" font-size="15" text-anchor="middle">5</text>
<text x="414.43" y="301.8" font-size="15" text-anchor="middle">10</text>
<text x="476.31" y="301.8" font-size="15" text-anchor="middle">15</text>
<text x="538.2" y="301.8" font-size="15" text-anchor="middle">20</text>
<text x="39.6" y="284.05" font-size="15" text-anchor="end">-9</text>
<text x="39.6" y="267.7" font-size="15" text-anchor="end">-6</text>
<text x="39.6" y="251.35" font-size="15" text-anchor="end">-3</text>
<text x="39.6" y="235" font-size="15" text-anchor="end">0</text>
<text x="39.6" y="218.65" font-size="15" text-anchor="end">3</text>
<text x="39.6" y="202.3" font-size="15" text-anchor="end">6</text>
<text x="39.6" y="185.95" font-size="15" text-anchor="end">9</text>
<text x="255.8" y="321.5" font-size="16.3" textLength="69.8" lengthAdjust="spacingAndGlyphs">Time [ms]</text>
<text transform="translate(19.2 271.4) rotate(-90)" font-size="17.3" textLength="81.5" lengthAdjust="spacingAndGlyphs">Current [A]</text>
<rect x="422.5" y="260.5" width="108" height="20" fill="#fff" stroke="#111" stroke-width="1"/>
<path d="M425.6 270.5 H442.7" stroke="#0072BD" stroke-width="1"/>
<text x="445.4" y="273.5" font-size="12.7" font-style="italic">i<tspan font-size="9.2" dx="0.6" dy="1.9">a</tspan></text>
<path d="M462.3 270.5 H479.5" stroke="#36AD32" stroke-width="1"/>
<text x="482.6" y="273.5" font-size="12.7" font-style="italic">i<tspan font-size="9.2" dx="0.6" dy="1.9">b</tspan></text>
<path d="M498.2 270.5 H515.4" stroke="#FF4D18" stroke-width="1"/>
<text x="518" y="273.5" font-size="12.7" font-style="italic">i<tspan font-size="9.2" dx="0.6" dy="1.9">c</tspan></text>
<text x="275.4" y="340.6" font-size="13.8" font-weight="bold" text-anchor="middle">(b)</text>
</svg></body></html>
